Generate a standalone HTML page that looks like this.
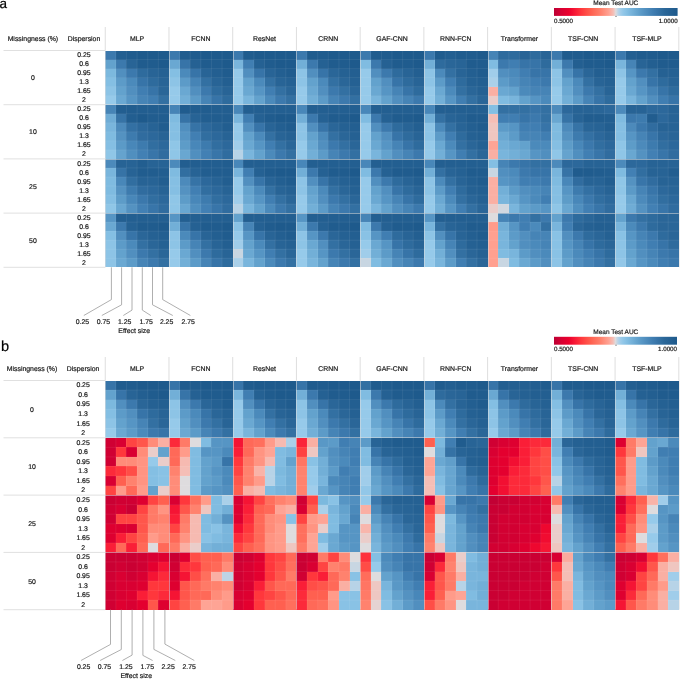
<!DOCTYPE html>
<html><head><meta charset="utf-8"><style>
html,body{margin:0;padding:0;background:#fff;width:680px;height:679px;overflow:hidden}
svg{display:block;will-change:transform}
text{text-rendering:geometricPrecision;font-family:"Liberation Sans", sans-serif;font-size:6.9px;fill:#1a1a1a;stroke:#1a1a1a;stroke-width:0.2px}
</style></head><body>
<svg width="680" height="679" viewBox="0 0 680 679"><g shape-rendering="crispEdges"><rect x="105.25" y="50.50" width="10.62" height="9.03" fill="#3c79ad"/>
<rect x="115.87" y="50.50" width="10.62" height="9.03" fill="#235f91"/>
<rect x="126.49" y="50.50" width="10.62" height="9.03" fill="#205c8e"/>
<rect x="137.11" y="50.50" width="10.62" height="9.03" fill="#1e5a8c"/>
<rect x="147.74" y="50.50" width="10.62" height="9.03" fill="#1e5a8c"/>
<rect x="158.36" y="50.50" width="10.62" height="9.03" fill="#1e5a8c"/>
<rect x="105.25" y="59.53" width="10.62" height="9.03" fill="#63a2cd"/>
<rect x="115.87" y="59.53" width="10.62" height="9.03" fill="#3c79ad"/>
<rect x="126.49" y="59.53" width="10.62" height="9.03" fill="#286496"/>
<rect x="137.11" y="59.53" width="10.62" height="9.03" fill="#205c8e"/>
<rect x="147.74" y="59.53" width="10.62" height="9.03" fill="#205c8e"/>
<rect x="158.36" y="59.53" width="10.62" height="9.03" fill="#1e5a8c"/>
<rect x="105.25" y="68.57" width="10.62" height="9.03" fill="#7cb9de"/>
<rect x="115.87" y="68.57" width="10.62" height="9.03" fill="#518fbf"/>
<rect x="126.49" y="68.57" width="10.62" height="9.03" fill="#3c79ad"/>
<rect x="137.11" y="68.57" width="10.62" height="9.03" fill="#2e6b9d"/>
<rect x="147.74" y="68.57" width="10.62" height="9.03" fill="#286496"/>
<rect x="158.36" y="68.57" width="10.62" height="9.03" fill="#256193"/>
<rect x="105.25" y="77.60" width="10.62" height="9.03" fill="#84bfe3"/>
<rect x="115.87" y="77.60" width="10.62" height="9.03" fill="#5c9bc8"/>
<rect x="126.49" y="77.60" width="10.62" height="9.03" fill="#4b8abb"/>
<rect x="137.11" y="77.60" width="10.62" height="9.03" fill="#3774a8"/>
<rect x="147.74" y="77.60" width="10.62" height="9.03" fill="#2e6b9d"/>
<rect x="158.36" y="77.60" width="10.62" height="9.03" fill="#286496"/>
<rect x="105.25" y="86.63" width="10.62" height="9.03" fill="#8dc4e6"/>
<rect x="115.87" y="86.63" width="10.62" height="9.03" fill="#63a2cd"/>
<rect x="126.49" y="86.63" width="10.62" height="9.03" fill="#518fbf"/>
<rect x="137.11" y="86.63" width="10.62" height="9.03" fill="#407eb2"/>
<rect x="147.74" y="86.63" width="10.62" height="9.03" fill="#3774a8"/>
<rect x="158.36" y="86.63" width="10.62" height="9.03" fill="#2a6698"/>
<rect x="105.25" y="95.67" width="10.62" height="9.03" fill="#96caea"/>
<rect x="115.87" y="95.67" width="10.62" height="9.03" fill="#6aa8d2"/>
<rect x="126.49" y="95.67" width="10.62" height="9.03" fill="#5695c4"/>
<rect x="137.11" y="95.67" width="10.62" height="9.03" fill="#4684b6"/>
<rect x="147.74" y="95.67" width="10.62" height="9.03" fill="#407eb2"/>
<rect x="158.36" y="95.67" width="10.62" height="9.03" fill="#3370a2"/>
<rect x="168.98" y="50.50" width="10.62" height="9.03" fill="#3c79ad"/>
<rect x="179.60" y="50.50" width="10.62" height="9.03" fill="#205c8e"/>
<rect x="190.22" y="50.50" width="10.62" height="9.03" fill="#205c8e"/>
<rect x="200.84" y="50.50" width="10.62" height="9.03" fill="#1e5a8c"/>
<rect x="211.46" y="50.50" width="10.62" height="9.03" fill="#1e5a8c"/>
<rect x="222.08" y="50.50" width="10.62" height="9.03" fill="#1e5a8c"/>
<rect x="168.98" y="59.53" width="10.62" height="9.03" fill="#6aa8d2"/>
<rect x="179.60" y="59.53" width="10.62" height="9.03" fill="#3774a8"/>
<rect x="190.22" y="59.53" width="10.62" height="9.03" fill="#256193"/>
<rect x="200.84" y="59.53" width="10.62" height="9.03" fill="#205c8e"/>
<rect x="211.46" y="59.53" width="10.62" height="9.03" fill="#205c8e"/>
<rect x="222.08" y="59.53" width="10.62" height="9.03" fill="#1e5a8c"/>
<rect x="168.98" y="68.57" width="10.62" height="9.03" fill="#84bfe3"/>
<rect x="179.60" y="68.57" width="10.62" height="9.03" fill="#4b8abb"/>
<rect x="190.22" y="68.57" width="10.62" height="9.03" fill="#3774a8"/>
<rect x="200.84" y="68.57" width="10.62" height="9.03" fill="#286496"/>
<rect x="211.46" y="68.57" width="10.62" height="9.03" fill="#235f91"/>
<rect x="222.08" y="68.57" width="10.62" height="9.03" fill="#205c8e"/>
<rect x="168.98" y="77.60" width="10.62" height="9.03" fill="#8dc4e6"/>
<rect x="179.60" y="77.60" width="10.62" height="9.03" fill="#5c9bc8"/>
<rect x="190.22" y="77.60" width="10.62" height="9.03" fill="#4684b6"/>
<rect x="200.84" y="77.60" width="10.62" height="9.03" fill="#3370a2"/>
<rect x="211.46" y="77.60" width="10.62" height="9.03" fill="#286496"/>
<rect x="222.08" y="77.60" width="10.62" height="9.03" fill="#235f91"/>
<rect x="168.98" y="86.63" width="10.62" height="9.03" fill="#96caea"/>
<rect x="179.60" y="86.63" width="10.62" height="9.03" fill="#6aa8d2"/>
<rect x="190.22" y="86.63" width="10.62" height="9.03" fill="#518fbf"/>
<rect x="200.84" y="86.63" width="10.62" height="9.03" fill="#3c79ad"/>
<rect x="211.46" y="86.63" width="10.62" height="9.03" fill="#2e6b9d"/>
<rect x="222.08" y="86.63" width="10.62" height="9.03" fill="#286496"/>
<rect x="168.98" y="95.67" width="10.62" height="9.03" fill="#96caea"/>
<rect x="179.60" y="95.67" width="10.62" height="9.03" fill="#72afd7"/>
<rect x="190.22" y="95.67" width="10.62" height="9.03" fill="#5c9bc8"/>
<rect x="200.84" y="95.67" width="10.62" height="9.03" fill="#4684b6"/>
<rect x="211.46" y="95.67" width="10.62" height="9.03" fill="#3774a8"/>
<rect x="222.08" y="95.67" width="10.62" height="9.03" fill="#2e6b9d"/>
<rect x="232.71" y="50.50" width="10.62" height="9.03" fill="#3c79ad"/>
<rect x="243.33" y="50.50" width="10.62" height="9.03" fill="#205c8e"/>
<rect x="253.95" y="50.50" width="10.62" height="9.03" fill="#1e5a8c"/>
<rect x="264.57" y="50.50" width="10.62" height="9.03" fill="#1e5a8c"/>
<rect x="275.19" y="50.50" width="10.62" height="9.03" fill="#1e5a8c"/>
<rect x="285.81" y="50.50" width="10.62" height="9.03" fill="#1e5a8c"/>
<rect x="232.71" y="59.53" width="10.62" height="9.03" fill="#79b5dc"/>
<rect x="243.33" y="59.53" width="10.62" height="9.03" fill="#407eb2"/>
<rect x="253.95" y="59.53" width="10.62" height="9.03" fill="#256193"/>
<rect x="264.57" y="59.53" width="10.62" height="9.03" fill="#205c8e"/>
<rect x="275.19" y="59.53" width="10.62" height="9.03" fill="#1e5a8c"/>
<rect x="285.81" y="59.53" width="10.62" height="9.03" fill="#1e5a8c"/>
<rect x="232.71" y="68.57" width="10.62" height="9.03" fill="#96caea"/>
<rect x="243.33" y="68.57" width="10.62" height="9.03" fill="#518fbf"/>
<rect x="253.95" y="68.57" width="10.62" height="9.03" fill="#3774a8"/>
<rect x="264.57" y="68.57" width="10.62" height="9.03" fill="#286496"/>
<rect x="275.19" y="68.57" width="10.62" height="9.03" fill="#235f91"/>
<rect x="285.81" y="68.57" width="10.62" height="9.03" fill="#205c8e"/>
<rect x="232.71" y="77.60" width="10.62" height="9.03" fill="#96caea"/>
<rect x="243.33" y="77.60" width="10.62" height="9.03" fill="#63a2cd"/>
<rect x="253.95" y="77.60" width="10.62" height="9.03" fill="#4b8abb"/>
<rect x="264.57" y="77.60" width="10.62" height="9.03" fill="#3370a2"/>
<rect x="275.19" y="77.60" width="10.62" height="9.03" fill="#286496"/>
<rect x="285.81" y="77.60" width="10.62" height="9.03" fill="#256193"/>
<rect x="232.71" y="86.63" width="10.62" height="9.03" fill="#96caea"/>
<rect x="243.33" y="86.63" width="10.62" height="9.03" fill="#6aa8d2"/>
<rect x="253.95" y="86.63" width="10.62" height="9.03" fill="#5695c4"/>
<rect x="264.57" y="86.63" width="10.62" height="9.03" fill="#407eb2"/>
<rect x="275.19" y="86.63" width="10.62" height="9.03" fill="#3370a2"/>
<rect x="285.81" y="86.63" width="10.62" height="9.03" fill="#2a6698"/>
<rect x="232.71" y="95.67" width="10.62" height="9.03" fill="#96caea"/>
<rect x="243.33" y="95.67" width="10.62" height="9.03" fill="#79b5dc"/>
<rect x="253.95" y="95.67" width="10.62" height="9.03" fill="#63a2cd"/>
<rect x="264.57" y="95.67" width="10.62" height="9.03" fill="#4b8abb"/>
<rect x="275.19" y="95.67" width="10.62" height="9.03" fill="#3c79ad"/>
<rect x="285.81" y="95.67" width="10.62" height="9.03" fill="#3370a2"/>
<rect x="296.43" y="50.50" width="10.62" height="9.03" fill="#3c79ad"/>
<rect x="307.05" y="50.50" width="10.62" height="9.03" fill="#205c8e"/>
<rect x="317.68" y="50.50" width="10.62" height="9.03" fill="#205c8e"/>
<rect x="328.30" y="50.50" width="10.62" height="9.03" fill="#1e5a8c"/>
<rect x="338.92" y="50.50" width="10.62" height="9.03" fill="#1e5a8c"/>
<rect x="349.54" y="50.50" width="10.62" height="9.03" fill="#1e5a8c"/>
<rect x="296.43" y="59.53" width="10.62" height="9.03" fill="#72afd7"/>
<rect x="307.05" y="59.53" width="10.62" height="9.03" fill="#3c79ad"/>
<rect x="317.68" y="59.53" width="10.62" height="9.03" fill="#256193"/>
<rect x="328.30" y="59.53" width="10.62" height="9.03" fill="#205c8e"/>
<rect x="338.92" y="59.53" width="10.62" height="9.03" fill="#205c8e"/>
<rect x="349.54" y="59.53" width="10.62" height="9.03" fill="#1e5a8c"/>
<rect x="296.43" y="68.57" width="10.62" height="9.03" fill="#8dc4e6"/>
<rect x="307.05" y="68.57" width="10.62" height="9.03" fill="#518fbf"/>
<rect x="317.68" y="68.57" width="10.62" height="9.03" fill="#3774a8"/>
<rect x="328.30" y="68.57" width="10.62" height="9.03" fill="#2a6698"/>
<rect x="338.92" y="68.57" width="10.62" height="9.03" fill="#256193"/>
<rect x="349.54" y="68.57" width="10.62" height="9.03" fill="#235f91"/>
<rect x="296.43" y="77.60" width="10.62" height="9.03" fill="#8dc4e6"/>
<rect x="307.05" y="77.60" width="10.62" height="9.03" fill="#63a2cd"/>
<rect x="317.68" y="77.60" width="10.62" height="9.03" fill="#4b8abb"/>
<rect x="328.30" y="77.60" width="10.62" height="9.03" fill="#3370a2"/>
<rect x="338.92" y="77.60" width="10.62" height="9.03" fill="#2a6698"/>
<rect x="349.54" y="77.60" width="10.62" height="9.03" fill="#256193"/>
<rect x="296.43" y="86.63" width="10.62" height="9.03" fill="#96caea"/>
<rect x="307.05" y="86.63" width="10.62" height="9.03" fill="#6aa8d2"/>
<rect x="317.68" y="86.63" width="10.62" height="9.03" fill="#518fbf"/>
<rect x="328.30" y="86.63" width="10.62" height="9.03" fill="#3c79ad"/>
<rect x="338.92" y="86.63" width="10.62" height="9.03" fill="#3370a2"/>
<rect x="349.54" y="86.63" width="10.62" height="9.03" fill="#2a6698"/>
<rect x="296.43" y="95.67" width="10.62" height="9.03" fill="#96caea"/>
<rect x="307.05" y="95.67" width="10.62" height="9.03" fill="#72afd7"/>
<rect x="317.68" y="95.67" width="10.62" height="9.03" fill="#5c9bc8"/>
<rect x="328.30" y="95.67" width="10.62" height="9.03" fill="#4684b6"/>
<rect x="338.92" y="95.67" width="10.62" height="9.03" fill="#3c79ad"/>
<rect x="349.54" y="95.67" width="10.62" height="9.03" fill="#3370a2"/>
<rect x="360.16" y="50.50" width="10.62" height="9.03" fill="#3c79ad"/>
<rect x="370.78" y="50.50" width="10.62" height="9.03" fill="#205c8e"/>
<rect x="381.40" y="50.50" width="10.62" height="9.03" fill="#205c8e"/>
<rect x="392.02" y="50.50" width="10.62" height="9.03" fill="#1e5a8c"/>
<rect x="402.65" y="50.50" width="10.62" height="9.03" fill="#1e5a8c"/>
<rect x="413.27" y="50.50" width="10.62" height="9.03" fill="#1e5a8c"/>
<rect x="360.16" y="59.53" width="10.62" height="9.03" fill="#80bce1"/>
<rect x="370.78" y="59.53" width="10.62" height="9.03" fill="#3c79ad"/>
<rect x="381.40" y="59.53" width="10.62" height="9.03" fill="#256193"/>
<rect x="392.02" y="59.53" width="10.62" height="9.03" fill="#205c8e"/>
<rect x="402.65" y="59.53" width="10.62" height="9.03" fill="#205c8e"/>
<rect x="413.27" y="59.53" width="10.62" height="9.03" fill="#1e5a8c"/>
<rect x="360.16" y="68.57" width="10.62" height="9.03" fill="#96caea"/>
<rect x="370.78" y="68.57" width="10.62" height="9.03" fill="#518fbf"/>
<rect x="381.40" y="68.57" width="10.62" height="9.03" fill="#3c79ad"/>
<rect x="392.02" y="68.57" width="10.62" height="9.03" fill="#2e6b9d"/>
<rect x="402.65" y="68.57" width="10.62" height="9.03" fill="#286496"/>
<rect x="413.27" y="68.57" width="10.62" height="9.03" fill="#235f91"/>
<rect x="360.16" y="77.60" width="10.62" height="9.03" fill="#96caea"/>
<rect x="370.78" y="77.60" width="10.62" height="9.03" fill="#63a2cd"/>
<rect x="381.40" y="77.60" width="10.62" height="9.03" fill="#518fbf"/>
<rect x="392.02" y="77.60" width="10.62" height="9.03" fill="#3774a8"/>
<rect x="402.65" y="77.60" width="10.62" height="9.03" fill="#2e6b9d"/>
<rect x="413.27" y="77.60" width="10.62" height="9.03" fill="#286496"/>
<rect x="360.16" y="86.63" width="10.62" height="9.03" fill="#96caea"/>
<rect x="370.78" y="86.63" width="10.62" height="9.03" fill="#6aa8d2"/>
<rect x="381.40" y="86.63" width="10.62" height="9.03" fill="#5695c4"/>
<rect x="392.02" y="86.63" width="10.62" height="9.03" fill="#4684b6"/>
<rect x="402.65" y="86.63" width="10.62" height="9.03" fill="#3774a8"/>
<rect x="413.27" y="86.63" width="10.62" height="9.03" fill="#2e6b9d"/>
<rect x="360.16" y="95.67" width="10.62" height="9.03" fill="#96caea"/>
<rect x="370.78" y="95.67" width="10.62" height="9.03" fill="#79b5dc"/>
<rect x="381.40" y="95.67" width="10.62" height="9.03" fill="#63a2cd"/>
<rect x="392.02" y="95.67" width="10.62" height="9.03" fill="#518fbf"/>
<rect x="402.65" y="95.67" width="10.62" height="9.03" fill="#4684b6"/>
<rect x="413.27" y="95.67" width="10.62" height="9.03" fill="#3c79ad"/>
<rect x="423.89" y="50.50" width="10.62" height="9.03" fill="#3c79ad"/>
<rect x="434.51" y="50.50" width="10.62" height="9.03" fill="#205c8e"/>
<rect x="445.13" y="50.50" width="10.62" height="9.03" fill="#235f91"/>
<rect x="455.75" y="50.50" width="10.62" height="9.03" fill="#205c8e"/>
<rect x="466.37" y="50.50" width="10.62" height="9.03" fill="#205c8e"/>
<rect x="477.00" y="50.50" width="10.62" height="9.03" fill="#1e5a8c"/>
<rect x="423.89" y="59.53" width="10.62" height="9.03" fill="#72afd7"/>
<rect x="434.51" y="59.53" width="10.62" height="9.03" fill="#2e6b9d"/>
<rect x="445.13" y="59.53" width="10.62" height="9.03" fill="#2a6698"/>
<rect x="455.75" y="59.53" width="10.62" height="9.03" fill="#286496"/>
<rect x="466.37" y="59.53" width="10.62" height="9.03" fill="#205c8e"/>
<rect x="477.00" y="59.53" width="10.62" height="9.03" fill="#205c8e"/>
<rect x="423.89" y="68.57" width="10.62" height="9.03" fill="#8dc4e6"/>
<rect x="434.51" y="68.57" width="10.62" height="9.03" fill="#4b8abb"/>
<rect x="445.13" y="68.57" width="10.62" height="9.03" fill="#3370a2"/>
<rect x="455.75" y="68.57" width="10.62" height="9.03" fill="#286496"/>
<rect x="466.37" y="68.57" width="10.62" height="9.03" fill="#235f91"/>
<rect x="477.00" y="68.57" width="10.62" height="9.03" fill="#205c8e"/>
<rect x="423.89" y="77.60" width="10.62" height="9.03" fill="#8dc4e6"/>
<rect x="434.51" y="77.60" width="10.62" height="9.03" fill="#5c9bc8"/>
<rect x="445.13" y="77.60" width="10.62" height="9.03" fill="#407eb2"/>
<rect x="455.75" y="77.60" width="10.62" height="9.03" fill="#2e6b9d"/>
<rect x="466.37" y="77.60" width="10.62" height="9.03" fill="#256193"/>
<rect x="477.00" y="77.60" width="10.62" height="9.03" fill="#235f91"/>
<rect x="423.89" y="86.63" width="10.62" height="9.03" fill="#96caea"/>
<rect x="434.51" y="86.63" width="10.62" height="9.03" fill="#6aa8d2"/>
<rect x="445.13" y="86.63" width="10.62" height="9.03" fill="#4b8abb"/>
<rect x="455.75" y="86.63" width="10.62" height="9.03" fill="#3370a2"/>
<rect x="466.37" y="86.63" width="10.62" height="9.03" fill="#2a6698"/>
<rect x="477.00" y="86.63" width="10.62" height="9.03" fill="#256193"/>
<rect x="423.89" y="95.67" width="10.62" height="9.03" fill="#96caea"/>
<rect x="434.51" y="95.67" width="10.62" height="9.03" fill="#72afd7"/>
<rect x="445.13" y="95.67" width="10.62" height="9.03" fill="#5695c4"/>
<rect x="455.75" y="95.67" width="10.62" height="9.03" fill="#407eb2"/>
<rect x="466.37" y="95.67" width="10.62" height="9.03" fill="#3370a2"/>
<rect x="477.00" y="95.67" width="10.62" height="9.03" fill="#2a6698"/>
<rect x="487.62" y="50.50" width="10.62" height="9.03" fill="#4684b6"/>
<rect x="498.24" y="50.50" width="10.62" height="9.03" fill="#2e6b9d"/>
<rect x="508.86" y="50.50" width="10.62" height="9.03" fill="#2e6b9d"/>
<rect x="519.48" y="50.50" width="10.62" height="9.03" fill="#286496"/>
<rect x="530.10" y="50.50" width="10.62" height="9.03" fill="#2e6b9d"/>
<rect x="540.72" y="50.50" width="10.62" height="9.03" fill="#286496"/>
<rect x="487.62" y="59.53" width="10.62" height="9.03" fill="#80bce1"/>
<rect x="498.24" y="59.53" width="10.62" height="9.03" fill="#3c79ad"/>
<rect x="508.86" y="59.53" width="10.62" height="9.03" fill="#407eb2"/>
<rect x="519.48" y="59.53" width="10.62" height="9.03" fill="#3774a8"/>
<rect x="530.10" y="59.53" width="10.62" height="9.03" fill="#3774a8"/>
<rect x="540.72" y="59.53" width="10.62" height="9.03" fill="#2e6b9d"/>
<rect x="487.62" y="68.57" width="10.62" height="9.03" fill="#a0cdea"/>
<rect x="498.24" y="68.57" width="10.62" height="9.03" fill="#518fbf"/>
<rect x="508.86" y="68.57" width="10.62" height="9.03" fill="#4b8abb"/>
<rect x="519.48" y="68.57" width="10.62" height="9.03" fill="#407eb2"/>
<rect x="530.10" y="68.57" width="10.62" height="9.03" fill="#3774a8"/>
<rect x="540.72" y="68.57" width="10.62" height="9.03" fill="#3774a8"/>
<rect x="487.62" y="77.60" width="10.62" height="9.03" fill="#aad0e9"/>
<rect x="498.24" y="77.60" width="10.62" height="9.03" fill="#5c9bc8"/>
<rect x="508.86" y="77.60" width="10.62" height="9.03" fill="#518fbf"/>
<rect x="519.48" y="77.60" width="10.62" height="9.03" fill="#4684b6"/>
<rect x="530.10" y="77.60" width="10.62" height="9.03" fill="#407eb2"/>
<rect x="540.72" y="77.60" width="10.62" height="9.03" fill="#3c79ad"/>
<rect x="487.62" y="86.63" width="10.62" height="9.03" fill="#faafa3"/>
<rect x="498.24" y="86.63" width="10.62" height="9.03" fill="#6aa8d2"/>
<rect x="508.86" y="86.63" width="10.62" height="9.03" fill="#63a2cd"/>
<rect x="519.48" y="86.63" width="10.62" height="9.03" fill="#4b8abb"/>
<rect x="530.10" y="86.63" width="10.62" height="9.03" fill="#4684b6"/>
<rect x="540.72" y="86.63" width="10.62" height="9.03" fill="#4684b6"/>
<rect x="487.62" y="95.67" width="10.62" height="9.03" fill="#eacdca"/>
<rect x="498.24" y="95.67" width="10.62" height="9.03" fill="#80bce1"/>
<rect x="508.86" y="95.67" width="10.62" height="9.03" fill="#79b5dc"/>
<rect x="519.48" y="95.67" width="10.62" height="9.03" fill="#63a2cd"/>
<rect x="530.10" y="95.67" width="10.62" height="9.03" fill="#5695c4"/>
<rect x="540.72" y="95.67" width="10.62" height="9.03" fill="#4b8abb"/>
<rect x="551.34" y="50.50" width="10.62" height="9.03" fill="#3c79ad"/>
<rect x="561.97" y="50.50" width="10.62" height="9.03" fill="#205c8e"/>
<rect x="572.59" y="50.50" width="10.62" height="9.03" fill="#205c8e"/>
<rect x="583.21" y="50.50" width="10.62" height="9.03" fill="#1e5a8c"/>
<rect x="593.83" y="50.50" width="10.62" height="9.03" fill="#1e5a8c"/>
<rect x="604.45" y="50.50" width="10.62" height="9.03" fill="#1e5a8c"/>
<rect x="551.34" y="59.53" width="10.62" height="9.03" fill="#72afd7"/>
<rect x="561.97" y="59.53" width="10.62" height="9.03" fill="#3c79ad"/>
<rect x="572.59" y="59.53" width="10.62" height="9.03" fill="#235f91"/>
<rect x="583.21" y="59.53" width="10.62" height="9.03" fill="#205c8e"/>
<rect x="593.83" y="59.53" width="10.62" height="9.03" fill="#205c8e"/>
<rect x="604.45" y="59.53" width="10.62" height="9.03" fill="#1e5a8c"/>
<rect x="551.34" y="68.57" width="10.62" height="9.03" fill="#8dc4e6"/>
<rect x="561.97" y="68.57" width="10.62" height="9.03" fill="#518fbf"/>
<rect x="572.59" y="68.57" width="10.62" height="9.03" fill="#3774a8"/>
<rect x="583.21" y="68.57" width="10.62" height="9.03" fill="#2a6698"/>
<rect x="593.83" y="68.57" width="10.62" height="9.03" fill="#235f91"/>
<rect x="604.45" y="68.57" width="10.62" height="9.03" fill="#235f91"/>
<rect x="551.34" y="77.60" width="10.62" height="9.03" fill="#8dc4e6"/>
<rect x="561.97" y="77.60" width="10.62" height="9.03" fill="#63a2cd"/>
<rect x="572.59" y="77.60" width="10.62" height="9.03" fill="#4b8abb"/>
<rect x="583.21" y="77.60" width="10.62" height="9.03" fill="#3370a2"/>
<rect x="593.83" y="77.60" width="10.62" height="9.03" fill="#286496"/>
<rect x="604.45" y="77.60" width="10.62" height="9.03" fill="#256193"/>
<rect x="551.34" y="86.63" width="10.62" height="9.03" fill="#96caea"/>
<rect x="561.97" y="86.63" width="10.62" height="9.03" fill="#6aa8d2"/>
<rect x="572.59" y="86.63" width="10.62" height="9.03" fill="#518fbf"/>
<rect x="583.21" y="86.63" width="10.62" height="9.03" fill="#3c79ad"/>
<rect x="593.83" y="86.63" width="10.62" height="9.03" fill="#3370a2"/>
<rect x="604.45" y="86.63" width="10.62" height="9.03" fill="#286496"/>
<rect x="551.34" y="95.67" width="10.62" height="9.03" fill="#96caea"/>
<rect x="561.97" y="95.67" width="10.62" height="9.03" fill="#72afd7"/>
<rect x="572.59" y="95.67" width="10.62" height="9.03" fill="#5c9bc8"/>
<rect x="583.21" y="95.67" width="10.62" height="9.03" fill="#4684b6"/>
<rect x="593.83" y="95.67" width="10.62" height="9.03" fill="#3774a8"/>
<rect x="604.45" y="95.67" width="10.62" height="9.03" fill="#2e6b9d"/>
<rect x="615.07" y="50.50" width="10.62" height="9.03" fill="#3c79ad"/>
<rect x="625.69" y="50.50" width="10.62" height="9.03" fill="#235f91"/>
<rect x="636.31" y="50.50" width="10.62" height="9.03" fill="#205c8e"/>
<rect x="646.94" y="50.50" width="10.62" height="9.03" fill="#205c8e"/>
<rect x="657.56" y="50.50" width="10.62" height="9.03" fill="#1e5a8c"/>
<rect x="668.18" y="50.50" width="10.62" height="9.03" fill="#1e5a8c"/>
<rect x="615.07" y="59.53" width="10.62" height="9.03" fill="#79b5dc"/>
<rect x="625.69" y="59.53" width="10.62" height="9.03" fill="#4684b6"/>
<rect x="636.31" y="59.53" width="10.62" height="9.03" fill="#286496"/>
<rect x="646.94" y="59.53" width="10.62" height="9.03" fill="#235f91"/>
<rect x="657.56" y="59.53" width="10.62" height="9.03" fill="#205c8e"/>
<rect x="668.18" y="59.53" width="10.62" height="9.03" fill="#205c8e"/>
<rect x="615.07" y="68.57" width="10.62" height="9.03" fill="#8dc4e6"/>
<rect x="625.69" y="68.57" width="10.62" height="9.03" fill="#5695c4"/>
<rect x="636.31" y="68.57" width="10.62" height="9.03" fill="#3c79ad"/>
<rect x="646.94" y="68.57" width="10.62" height="9.03" fill="#3370a2"/>
<rect x="657.56" y="68.57" width="10.62" height="9.03" fill="#256193"/>
<rect x="668.18" y="68.57" width="10.62" height="9.03" fill="#256193"/>
<rect x="615.07" y="77.60" width="10.62" height="9.03" fill="#96caea"/>
<rect x="625.69" y="77.60" width="10.62" height="9.03" fill="#63a2cd"/>
<rect x="636.31" y="77.60" width="10.62" height="9.03" fill="#518fbf"/>
<rect x="646.94" y="77.60" width="10.62" height="9.03" fill="#3774a8"/>
<rect x="657.56" y="77.60" width="10.62" height="9.03" fill="#2e6b9d"/>
<rect x="668.18" y="77.60" width="10.62" height="9.03" fill="#286496"/>
<rect x="615.07" y="86.63" width="10.62" height="9.03" fill="#96caea"/>
<rect x="625.69" y="86.63" width="10.62" height="9.03" fill="#6aa8d2"/>
<rect x="636.31" y="86.63" width="10.62" height="9.03" fill="#5695c4"/>
<rect x="646.94" y="86.63" width="10.62" height="9.03" fill="#4684b6"/>
<rect x="657.56" y="86.63" width="10.62" height="9.03" fill="#3774a8"/>
<rect x="668.18" y="86.63" width="10.62" height="9.03" fill="#2e6b9d"/>
<rect x="615.07" y="95.67" width="10.62" height="9.03" fill="#96caea"/>
<rect x="625.69" y="95.67" width="10.62" height="9.03" fill="#79b5dc"/>
<rect x="636.31" y="95.67" width="10.62" height="9.03" fill="#63a2cd"/>
<rect x="646.94" y="95.67" width="10.62" height="9.03" fill="#518fbf"/>
<rect x="657.56" y="95.67" width="10.62" height="9.03" fill="#407eb2"/>
<rect x="668.18" y="95.67" width="10.62" height="9.03" fill="#3774a8"/>
<rect x="105.25" y="104.70" width="10.62" height="9.03" fill="#4684b6"/>
<rect x="115.87" y="104.70" width="10.62" height="9.03" fill="#225e90"/>
<rect x="126.49" y="104.70" width="10.62" height="9.03" fill="#215d8f"/>
<rect x="137.11" y="104.70" width="10.62" height="9.03" fill="#225e90"/>
<rect x="147.74" y="104.70" width="10.62" height="9.03" fill="#225e90"/>
<rect x="158.36" y="104.70" width="10.62" height="9.03" fill="#225e90"/>
<rect x="105.25" y="113.73" width="10.62" height="9.03" fill="#6facd5"/>
<rect x="115.87" y="113.73" width="10.62" height="9.03" fill="#3673a6"/>
<rect x="126.49" y="113.73" width="10.62" height="9.03" fill="#225e90"/>
<rect x="137.11" y="113.73" width="10.62" height="9.03" fill="#1e5a8c"/>
<rect x="147.74" y="113.73" width="10.62" height="9.03" fill="#215d8f"/>
<rect x="158.36" y="113.73" width="10.62" height="9.03" fill="#215d8f"/>
<rect x="105.25" y="122.77" width="10.62" height="9.03" fill="#79b5dc"/>
<rect x="115.87" y="122.77" width="10.62" height="9.03" fill="#4c8abb"/>
<rect x="126.49" y="122.77" width="10.62" height="9.03" fill="#3370a3"/>
<rect x="137.11" y="122.77" width="10.62" height="9.03" fill="#2c689b"/>
<rect x="147.74" y="122.77" width="10.62" height="9.03" fill="#276395"/>
<rect x="158.36" y="122.77" width="10.62" height="9.03" fill="#215d8f"/>
<rect x="105.25" y="131.80" width="10.62" height="9.03" fill="#7fbbe0"/>
<rect x="115.87" y="131.80" width="10.62" height="9.03" fill="#5492c1"/>
<rect x="126.49" y="131.80" width="10.62" height="9.03" fill="#3d7bae"/>
<rect x="137.11" y="131.80" width="10.62" height="9.03" fill="#306c9f"/>
<rect x="147.74" y="131.80" width="10.62" height="9.03" fill="#2c689b"/>
<rect x="158.36" y="131.80" width="10.62" height="9.03" fill="#276395"/>
<rect x="105.25" y="140.83" width="10.62" height="9.03" fill="#85bfe3"/>
<rect x="115.87" y="140.83" width="10.62" height="9.03" fill="#5b9ac7"/>
<rect x="126.49" y="140.83" width="10.62" height="9.03" fill="#4887b9"/>
<rect x="137.11" y="140.83" width="10.62" height="9.03" fill="#3d7bae"/>
<rect x="147.74" y="140.83" width="10.62" height="9.03" fill="#316ea0"/>
<rect x="158.36" y="140.83" width="10.62" height="9.03" fill="#2c689b"/>
<rect x="105.25" y="149.87" width="10.62" height="9.03" fill="#8fc6e7"/>
<rect x="115.87" y="149.87" width="10.62" height="9.03" fill="#65a3ce"/>
<rect x="126.49" y="149.87" width="10.62" height="9.03" fill="#508fbf"/>
<rect x="137.11" y="149.87" width="10.62" height="9.03" fill="#4280b4"/>
<rect x="147.74" y="149.87" width="10.62" height="9.03" fill="#3875a9"/>
<rect x="158.36" y="149.87" width="10.62" height="9.03" fill="#306c9f"/>
<rect x="168.98" y="104.70" width="10.62" height="9.03" fill="#4684b6"/>
<rect x="179.60" y="104.70" width="10.62" height="9.03" fill="#205c8e"/>
<rect x="190.22" y="104.70" width="10.62" height="9.03" fill="#215d8f"/>
<rect x="200.84" y="104.70" width="10.62" height="9.03" fill="#215d8f"/>
<rect x="211.46" y="104.70" width="10.62" height="9.03" fill="#225e90"/>
<rect x="222.08" y="104.70" width="10.62" height="9.03" fill="#225e90"/>
<rect x="168.98" y="113.73" width="10.62" height="9.03" fill="#7fbbe0"/>
<rect x="179.60" y="113.73" width="10.62" height="9.03" fill="#3673a6"/>
<rect x="190.22" y="113.73" width="10.62" height="9.03" fill="#276395"/>
<rect x="200.84" y="113.73" width="10.62" height="9.03" fill="#225e90"/>
<rect x="211.46" y="113.73" width="10.62" height="9.03" fill="#215d8f"/>
<rect x="222.08" y="113.73" width="10.62" height="9.03" fill="#215d8f"/>
<rect x="168.98" y="122.77" width="10.62" height="9.03" fill="#85bfe3"/>
<rect x="179.60" y="122.77" width="10.62" height="9.03" fill="#508fbf"/>
<rect x="190.22" y="122.77" width="10.62" height="9.03" fill="#3673a6"/>
<rect x="200.84" y="122.77" width="10.62" height="9.03" fill="#2c689b"/>
<rect x="211.46" y="122.77" width="10.62" height="9.03" fill="#276395"/>
<rect x="222.08" y="122.77" width="10.62" height="9.03" fill="#225e90"/>
<rect x="168.98" y="131.80" width="10.62" height="9.03" fill="#85bfe3"/>
<rect x="179.60" y="131.80" width="10.62" height="9.03" fill="#5695c4"/>
<rect x="190.22" y="131.80" width="10.62" height="9.03" fill="#417fb3"/>
<rect x="200.84" y="131.80" width="10.62" height="9.03" fill="#316ea0"/>
<rect x="211.46" y="131.80" width="10.62" height="9.03" fill="#2c689b"/>
<rect x="222.08" y="131.80" width="10.62" height="9.03" fill="#276395"/>
<rect x="168.98" y="140.83" width="10.62" height="9.03" fill="#8fc6e7"/>
<rect x="179.60" y="140.83" width="10.62" height="9.03" fill="#5d9cc8"/>
<rect x="190.22" y="140.83" width="10.62" height="9.03" fill="#4887b9"/>
<rect x="200.84" y="140.83" width="10.62" height="9.03" fill="#3d7bae"/>
<rect x="211.46" y="140.83" width="10.62" height="9.03" fill="#316ea0"/>
<rect x="222.08" y="140.83" width="10.62" height="9.03" fill="#2c689b"/>
<rect x="168.98" y="149.87" width="10.62" height="9.03" fill="#8fc6e7"/>
<rect x="179.60" y="149.87" width="10.62" height="9.03" fill="#69a7d1"/>
<rect x="190.22" y="149.87" width="10.62" height="9.03" fill="#508fbf"/>
<rect x="200.84" y="149.87" width="10.62" height="9.03" fill="#4280b4"/>
<rect x="211.46" y="149.87" width="10.62" height="9.03" fill="#3875a9"/>
<rect x="222.08" y="149.87" width="10.62" height="9.03" fill="#306c9f"/>
<rect x="232.71" y="104.70" width="10.62" height="9.03" fill="#4887b9"/>
<rect x="243.33" y="104.70" width="10.62" height="9.03" fill="#235f91"/>
<rect x="253.95" y="104.70" width="10.62" height="9.03" fill="#235f91"/>
<rect x="264.57" y="104.70" width="10.62" height="9.03" fill="#235f91"/>
<rect x="275.19" y="104.70" width="10.62" height="9.03" fill="#235f91"/>
<rect x="285.81" y="104.70" width="10.62" height="9.03" fill="#235f91"/>
<rect x="232.71" y="113.73" width="10.62" height="9.03" fill="#79b5dc"/>
<rect x="243.33" y="113.73" width="10.62" height="9.03" fill="#407eb2"/>
<rect x="253.95" y="113.73" width="10.62" height="9.03" fill="#256193"/>
<rect x="264.57" y="113.73" width="10.62" height="9.03" fill="#205c8e"/>
<rect x="275.19" y="113.73" width="10.62" height="9.03" fill="#1e5a8c"/>
<rect x="285.81" y="113.73" width="10.62" height="9.03" fill="#1e5a8c"/>
<rect x="232.71" y="122.77" width="10.62" height="9.03" fill="#96caea"/>
<rect x="243.33" y="122.77" width="10.62" height="9.03" fill="#518fbf"/>
<rect x="253.95" y="122.77" width="10.62" height="9.03" fill="#3774a8"/>
<rect x="264.57" y="122.77" width="10.62" height="9.03" fill="#286496"/>
<rect x="275.19" y="122.77" width="10.62" height="9.03" fill="#235f91"/>
<rect x="285.81" y="122.77" width="10.62" height="9.03" fill="#205c8e"/>
<rect x="232.71" y="131.80" width="10.62" height="9.03" fill="#96caea"/>
<rect x="243.33" y="131.80" width="10.62" height="9.03" fill="#63a2cd"/>
<rect x="253.95" y="131.80" width="10.62" height="9.03" fill="#4b8abb"/>
<rect x="264.57" y="131.80" width="10.62" height="9.03" fill="#3370a2"/>
<rect x="275.19" y="131.80" width="10.62" height="9.03" fill="#286496"/>
<rect x="285.81" y="131.80" width="10.62" height="9.03" fill="#256193"/>
<rect x="232.71" y="140.83" width="10.62" height="9.03" fill="#a0cdea"/>
<rect x="243.33" y="140.83" width="10.62" height="9.03" fill="#6aa8d2"/>
<rect x="253.95" y="140.83" width="10.62" height="9.03" fill="#5695c4"/>
<rect x="264.57" y="140.83" width="10.62" height="9.03" fill="#407eb2"/>
<rect x="275.19" y="140.83" width="10.62" height="9.03" fill="#3370a2"/>
<rect x="285.81" y="140.83" width="10.62" height="9.03" fill="#2a6698"/>
<rect x="232.71" y="149.87" width="10.62" height="9.03" fill="#b7d3e7"/>
<rect x="243.33" y="149.87" width="10.62" height="9.03" fill="#79b5dc"/>
<rect x="253.95" y="149.87" width="10.62" height="9.03" fill="#63a2cd"/>
<rect x="264.57" y="149.87" width="10.62" height="9.03" fill="#4b8abb"/>
<rect x="275.19" y="149.87" width="10.62" height="9.03" fill="#3c79ad"/>
<rect x="285.81" y="149.87" width="10.62" height="9.03" fill="#3370a2"/>
<rect x="296.43" y="104.70" width="10.62" height="9.03" fill="#4887b9"/>
<rect x="307.05" y="104.70" width="10.62" height="9.03" fill="#235f91"/>
<rect x="317.68" y="104.70" width="10.62" height="9.03" fill="#235f91"/>
<rect x="328.30" y="104.70" width="10.62" height="9.03" fill="#235f91"/>
<rect x="338.92" y="104.70" width="10.62" height="9.03" fill="#235f91"/>
<rect x="349.54" y="104.70" width="10.62" height="9.03" fill="#235f91"/>
<rect x="296.43" y="113.73" width="10.62" height="9.03" fill="#72afd7"/>
<rect x="307.05" y="113.73" width="10.62" height="9.03" fill="#3c79ad"/>
<rect x="317.68" y="113.73" width="10.62" height="9.03" fill="#256193"/>
<rect x="328.30" y="113.73" width="10.62" height="9.03" fill="#205c8e"/>
<rect x="338.92" y="113.73" width="10.62" height="9.03" fill="#205c8e"/>
<rect x="349.54" y="113.73" width="10.62" height="9.03" fill="#1e5a8c"/>
<rect x="296.43" y="122.77" width="10.62" height="9.03" fill="#8dc4e6"/>
<rect x="307.05" y="122.77" width="10.62" height="9.03" fill="#518fbf"/>
<rect x="317.68" y="122.77" width="10.62" height="9.03" fill="#3774a8"/>
<rect x="328.30" y="122.77" width="10.62" height="9.03" fill="#2a6698"/>
<rect x="338.92" y="122.77" width="10.62" height="9.03" fill="#256193"/>
<rect x="349.54" y="122.77" width="10.62" height="9.03" fill="#235f91"/>
<rect x="296.43" y="131.80" width="10.62" height="9.03" fill="#8dc4e6"/>
<rect x="307.05" y="131.80" width="10.62" height="9.03" fill="#63a2cd"/>
<rect x="317.68" y="131.80" width="10.62" height="9.03" fill="#4b8abb"/>
<rect x="328.30" y="131.80" width="10.62" height="9.03" fill="#3370a2"/>
<rect x="338.92" y="131.80" width="10.62" height="9.03" fill="#2a6698"/>
<rect x="349.54" y="131.80" width="10.62" height="9.03" fill="#256193"/>
<rect x="296.43" y="140.83" width="10.62" height="9.03" fill="#96caea"/>
<rect x="307.05" y="140.83" width="10.62" height="9.03" fill="#6aa8d2"/>
<rect x="317.68" y="140.83" width="10.62" height="9.03" fill="#518fbf"/>
<rect x="328.30" y="140.83" width="10.62" height="9.03" fill="#3c79ad"/>
<rect x="338.92" y="140.83" width="10.62" height="9.03" fill="#3370a2"/>
<rect x="349.54" y="140.83" width="10.62" height="9.03" fill="#2a6698"/>
<rect x="296.43" y="149.87" width="10.62" height="9.03" fill="#96caea"/>
<rect x="307.05" y="149.87" width="10.62" height="9.03" fill="#72afd7"/>
<rect x="317.68" y="149.87" width="10.62" height="9.03" fill="#5c9bc8"/>
<rect x="328.30" y="149.87" width="10.62" height="9.03" fill="#4684b6"/>
<rect x="338.92" y="149.87" width="10.62" height="9.03" fill="#3c79ad"/>
<rect x="349.54" y="149.87" width="10.62" height="9.03" fill="#3370a2"/>
<rect x="360.16" y="104.70" width="10.62" height="9.03" fill="#4887b9"/>
<rect x="370.78" y="104.70" width="10.62" height="9.03" fill="#235f91"/>
<rect x="381.40" y="104.70" width="10.62" height="9.03" fill="#235f91"/>
<rect x="392.02" y="104.70" width="10.62" height="9.03" fill="#235f91"/>
<rect x="402.65" y="104.70" width="10.62" height="9.03" fill="#235f91"/>
<rect x="413.27" y="104.70" width="10.62" height="9.03" fill="#235f91"/>
<rect x="360.16" y="113.73" width="10.62" height="9.03" fill="#80bce1"/>
<rect x="370.78" y="113.73" width="10.62" height="9.03" fill="#3c79ad"/>
<rect x="381.40" y="113.73" width="10.62" height="9.03" fill="#256193"/>
<rect x="392.02" y="113.73" width="10.62" height="9.03" fill="#205c8e"/>
<rect x="402.65" y="113.73" width="10.62" height="9.03" fill="#205c8e"/>
<rect x="413.27" y="113.73" width="10.62" height="9.03" fill="#1e5a8c"/>
<rect x="360.16" y="122.77" width="10.62" height="9.03" fill="#96caea"/>
<rect x="370.78" y="122.77" width="10.62" height="9.03" fill="#518fbf"/>
<rect x="381.40" y="122.77" width="10.62" height="9.03" fill="#3c79ad"/>
<rect x="392.02" y="122.77" width="10.62" height="9.03" fill="#2e6b9d"/>
<rect x="402.65" y="122.77" width="10.62" height="9.03" fill="#286496"/>
<rect x="413.27" y="122.77" width="10.62" height="9.03" fill="#235f91"/>
<rect x="360.16" y="131.80" width="10.62" height="9.03" fill="#96caea"/>
<rect x="370.78" y="131.80" width="10.62" height="9.03" fill="#63a2cd"/>
<rect x="381.40" y="131.80" width="10.62" height="9.03" fill="#518fbf"/>
<rect x="392.02" y="131.80" width="10.62" height="9.03" fill="#3774a8"/>
<rect x="402.65" y="131.80" width="10.62" height="9.03" fill="#2e6b9d"/>
<rect x="413.27" y="131.80" width="10.62" height="9.03" fill="#286496"/>
<rect x="360.16" y="140.83" width="10.62" height="9.03" fill="#96caea"/>
<rect x="370.78" y="140.83" width="10.62" height="9.03" fill="#6aa8d2"/>
<rect x="381.40" y="140.83" width="10.62" height="9.03" fill="#5695c4"/>
<rect x="392.02" y="140.83" width="10.62" height="9.03" fill="#4684b6"/>
<rect x="402.65" y="140.83" width="10.62" height="9.03" fill="#3774a8"/>
<rect x="413.27" y="140.83" width="10.62" height="9.03" fill="#2e6b9d"/>
<rect x="360.16" y="149.87" width="10.62" height="9.03" fill="#96caea"/>
<rect x="370.78" y="149.87" width="10.62" height="9.03" fill="#79b5dc"/>
<rect x="381.40" y="149.87" width="10.62" height="9.03" fill="#63a2cd"/>
<rect x="392.02" y="149.87" width="10.62" height="9.03" fill="#518fbf"/>
<rect x="402.65" y="149.87" width="10.62" height="9.03" fill="#4684b6"/>
<rect x="413.27" y="149.87" width="10.62" height="9.03" fill="#3c79ad"/>
<rect x="423.89" y="104.70" width="10.62" height="9.03" fill="#4887b9"/>
<rect x="434.51" y="104.70" width="10.62" height="9.03" fill="#235f91"/>
<rect x="445.13" y="104.70" width="10.62" height="9.03" fill="#235f91"/>
<rect x="455.75" y="104.70" width="10.62" height="9.03" fill="#235f91"/>
<rect x="466.37" y="104.70" width="10.62" height="9.03" fill="#235f91"/>
<rect x="477.00" y="104.70" width="10.62" height="9.03" fill="#235f91"/>
<rect x="423.89" y="113.73" width="10.62" height="9.03" fill="#72afd7"/>
<rect x="434.51" y="113.73" width="10.62" height="9.03" fill="#3370a2"/>
<rect x="445.13" y="113.73" width="10.62" height="9.03" fill="#286496"/>
<rect x="455.75" y="113.73" width="10.62" height="9.03" fill="#256193"/>
<rect x="466.37" y="113.73" width="10.62" height="9.03" fill="#205c8e"/>
<rect x="477.00" y="113.73" width="10.62" height="9.03" fill="#205c8e"/>
<rect x="423.89" y="122.77" width="10.62" height="9.03" fill="#8dc4e6"/>
<rect x="434.51" y="122.77" width="10.62" height="9.03" fill="#4b8abb"/>
<rect x="445.13" y="122.77" width="10.62" height="9.03" fill="#3370a2"/>
<rect x="455.75" y="122.77" width="10.62" height="9.03" fill="#286496"/>
<rect x="466.37" y="122.77" width="10.62" height="9.03" fill="#235f91"/>
<rect x="477.00" y="122.77" width="10.62" height="9.03" fill="#205c8e"/>
<rect x="423.89" y="131.80" width="10.62" height="9.03" fill="#8dc4e6"/>
<rect x="434.51" y="131.80" width="10.62" height="9.03" fill="#5c9bc8"/>
<rect x="445.13" y="131.80" width="10.62" height="9.03" fill="#407eb2"/>
<rect x="455.75" y="131.80" width="10.62" height="9.03" fill="#2e6b9d"/>
<rect x="466.37" y="131.80" width="10.62" height="9.03" fill="#256193"/>
<rect x="477.00" y="131.80" width="10.62" height="9.03" fill="#235f91"/>
<rect x="423.89" y="140.83" width="10.62" height="9.03" fill="#96caea"/>
<rect x="434.51" y="140.83" width="10.62" height="9.03" fill="#6aa8d2"/>
<rect x="445.13" y="140.83" width="10.62" height="9.03" fill="#4b8abb"/>
<rect x="455.75" y="140.83" width="10.62" height="9.03" fill="#3370a2"/>
<rect x="466.37" y="140.83" width="10.62" height="9.03" fill="#2a6698"/>
<rect x="477.00" y="140.83" width="10.62" height="9.03" fill="#256193"/>
<rect x="423.89" y="149.87" width="10.62" height="9.03" fill="#96caea"/>
<rect x="434.51" y="149.87" width="10.62" height="9.03" fill="#72afd7"/>
<rect x="445.13" y="149.87" width="10.62" height="9.03" fill="#5695c4"/>
<rect x="455.75" y="149.87" width="10.62" height="9.03" fill="#407eb2"/>
<rect x="466.37" y="149.87" width="10.62" height="9.03" fill="#3370a2"/>
<rect x="477.00" y="149.87" width="10.62" height="9.03" fill="#2a6698"/>
<rect x="487.62" y="104.70" width="10.62" height="9.03" fill="#84bfe3"/>
<rect x="498.24" y="104.70" width="10.62" height="9.03" fill="#3370a2"/>
<rect x="508.86" y="104.70" width="10.62" height="9.03" fill="#3370a2"/>
<rect x="519.48" y="104.70" width="10.62" height="9.03" fill="#3370a2"/>
<rect x="530.10" y="104.70" width="10.62" height="9.03" fill="#3774a8"/>
<rect x="540.72" y="104.70" width="10.62" height="9.03" fill="#3370a2"/>
<rect x="487.62" y="113.73" width="10.62" height="9.03" fill="#f5beb6"/>
<rect x="498.24" y="113.73" width="10.62" height="9.03" fill="#407eb2"/>
<rect x="508.86" y="113.73" width="10.62" height="9.03" fill="#407eb2"/>
<rect x="519.48" y="113.73" width="10.62" height="9.03" fill="#3774a8"/>
<rect x="530.10" y="113.73" width="10.62" height="9.03" fill="#3c79ad"/>
<rect x="540.72" y="113.73" width="10.62" height="9.03" fill="#3370a2"/>
<rect x="487.62" y="122.77" width="10.62" height="9.03" fill="#efc6c0"/>
<rect x="498.24" y="122.77" width="10.62" height="9.03" fill="#5c9bc8"/>
<rect x="508.86" y="122.77" width="10.62" height="9.03" fill="#5695c4"/>
<rect x="519.48" y="122.77" width="10.62" height="9.03" fill="#407eb2"/>
<rect x="530.10" y="122.77" width="10.62" height="9.03" fill="#407eb2"/>
<rect x="540.72" y="122.77" width="10.62" height="9.03" fill="#3774a8"/>
<rect x="487.62" y="131.80" width="10.62" height="9.03" fill="#efc6c0"/>
<rect x="498.24" y="131.80" width="10.62" height="9.03" fill="#6aa8d2"/>
<rect x="508.86" y="131.80" width="10.62" height="9.03" fill="#5c9bc8"/>
<rect x="519.48" y="131.80" width="10.62" height="9.03" fill="#4684b6"/>
<rect x="530.10" y="131.80" width="10.62" height="9.03" fill="#4684b6"/>
<rect x="540.72" y="131.80" width="10.62" height="9.03" fill="#407eb2"/>
<rect x="487.62" y="140.83" width="10.62" height="9.03" fill="#fea495"/>
<rect x="498.24" y="140.83" width="10.62" height="9.03" fill="#72afd7"/>
<rect x="508.86" y="140.83" width="10.62" height="9.03" fill="#6aa8d2"/>
<rect x="519.48" y="140.83" width="10.62" height="9.03" fill="#63a2cd"/>
<rect x="530.10" y="140.83" width="10.62" height="9.03" fill="#4b8abb"/>
<rect x="540.72" y="140.83" width="10.62" height="9.03" fill="#4b8abb"/>
<rect x="487.62" y="149.87" width="10.62" height="9.03" fill="#faafa3"/>
<rect x="498.24" y="149.87" width="10.62" height="9.03" fill="#79b5dc"/>
<rect x="508.86" y="149.87" width="10.62" height="9.03" fill="#72afd7"/>
<rect x="519.48" y="149.87" width="10.62" height="9.03" fill="#6aa8d2"/>
<rect x="530.10" y="149.87" width="10.62" height="9.03" fill="#5695c4"/>
<rect x="540.72" y="149.87" width="10.62" height="9.03" fill="#518fbf"/>
<rect x="551.34" y="104.70" width="10.62" height="9.03" fill="#4c8abb"/>
<rect x="561.97" y="104.70" width="10.62" height="9.03" fill="#2c689b"/>
<rect x="572.59" y="104.70" width="10.62" height="9.03" fill="#276395"/>
<rect x="583.21" y="104.70" width="10.62" height="9.03" fill="#276395"/>
<rect x="593.83" y="104.70" width="10.62" height="9.03" fill="#296597"/>
<rect x="604.45" y="104.70" width="10.62" height="9.03" fill="#2c689b"/>
<rect x="551.34" y="113.73" width="10.62" height="9.03" fill="#69a7d1"/>
<rect x="561.97" y="113.73" width="10.62" height="9.03" fill="#3673a6"/>
<rect x="572.59" y="113.73" width="10.62" height="9.03" fill="#276395"/>
<rect x="583.21" y="113.73" width="10.62" height="9.03" fill="#215d8f"/>
<rect x="593.83" y="113.73" width="10.62" height="9.03" fill="#215d8f"/>
<rect x="604.45" y="113.73" width="10.62" height="9.03" fill="#225e90"/>
<rect x="551.34" y="122.77" width="10.62" height="9.03" fill="#7fbbe0"/>
<rect x="561.97" y="122.77" width="10.62" height="9.03" fill="#4c8abb"/>
<rect x="572.59" y="122.77" width="10.62" height="9.03" fill="#3673a6"/>
<rect x="583.21" y="122.77" width="10.62" height="9.03" fill="#296597"/>
<rect x="593.83" y="122.77" width="10.62" height="9.03" fill="#276395"/>
<rect x="604.45" y="122.77" width="10.62" height="9.03" fill="#225e90"/>
<rect x="551.34" y="131.80" width="10.62" height="9.03" fill="#7fbbe0"/>
<rect x="561.97" y="131.80" width="10.62" height="9.03" fill="#5492c1"/>
<rect x="572.59" y="131.80" width="10.62" height="9.03" fill="#3d7bae"/>
<rect x="583.21" y="131.80" width="10.62" height="9.03" fill="#3370a3"/>
<rect x="593.83" y="131.80" width="10.62" height="9.03" fill="#2c689b"/>
<rect x="604.45" y="131.80" width="10.62" height="9.03" fill="#276395"/>
<rect x="551.34" y="140.83" width="10.62" height="9.03" fill="#85bfe3"/>
<rect x="561.97" y="140.83" width="10.62" height="9.03" fill="#5d9cc8"/>
<rect x="572.59" y="140.83" width="10.62" height="9.03" fill="#4887b9"/>
<rect x="583.21" y="140.83" width="10.62" height="9.03" fill="#3b78ac"/>
<rect x="593.83" y="140.83" width="10.62" height="9.03" fill="#316ea0"/>
<rect x="604.45" y="140.83" width="10.62" height="9.03" fill="#2c689b"/>
<rect x="551.34" y="149.87" width="10.62" height="9.03" fill="#8fc6e7"/>
<rect x="561.97" y="149.87" width="10.62" height="9.03" fill="#65a3ce"/>
<rect x="572.59" y="149.87" width="10.62" height="9.03" fill="#508fbf"/>
<rect x="583.21" y="149.87" width="10.62" height="9.03" fill="#417fb3"/>
<rect x="593.83" y="149.87" width="10.62" height="9.03" fill="#3875a9"/>
<rect x="604.45" y="149.87" width="10.62" height="9.03" fill="#306c9f"/>
<rect x="615.07" y="104.70" width="10.62" height="9.03" fill="#4c8abb"/>
<rect x="625.69" y="104.70" width="10.62" height="9.03" fill="#276395"/>
<rect x="636.31" y="104.70" width="10.62" height="9.03" fill="#276395"/>
<rect x="646.94" y="104.70" width="10.62" height="9.03" fill="#2c689b"/>
<rect x="657.56" y="104.70" width="10.62" height="9.03" fill="#2c689b"/>
<rect x="668.18" y="104.70" width="10.62" height="9.03" fill="#276395"/>
<rect x="615.07" y="113.73" width="10.62" height="9.03" fill="#7fbbe0"/>
<rect x="625.69" y="113.73" width="10.62" height="9.03" fill="#3b78ac"/>
<rect x="636.31" y="113.73" width="10.62" height="9.03" fill="#3d7bae"/>
<rect x="646.94" y="113.73" width="10.62" height="9.03" fill="#215d8f"/>
<rect x="657.56" y="113.73" width="10.62" height="9.03" fill="#2c689b"/>
<rect x="668.18" y="113.73" width="10.62" height="9.03" fill="#276395"/>
<rect x="615.07" y="122.77" width="10.62" height="9.03" fill="#85bfe3"/>
<rect x="625.69" y="122.77" width="10.62" height="9.03" fill="#4c8abb"/>
<rect x="636.31" y="122.77" width="10.62" height="9.03" fill="#3b78ac"/>
<rect x="646.94" y="122.77" width="10.62" height="9.03" fill="#306c9f"/>
<rect x="657.56" y="122.77" width="10.62" height="9.03" fill="#276395"/>
<rect x="668.18" y="122.77" width="10.62" height="9.03" fill="#276395"/>
<rect x="615.07" y="131.80" width="10.62" height="9.03" fill="#85bfe3"/>
<rect x="625.69" y="131.80" width="10.62" height="9.03" fill="#5695c4"/>
<rect x="636.31" y="131.80" width="10.62" height="9.03" fill="#4684b6"/>
<rect x="646.94" y="131.80" width="10.62" height="9.03" fill="#3875a9"/>
<rect x="657.56" y="131.80" width="10.62" height="9.03" fill="#2c689b"/>
<rect x="668.18" y="131.80" width="10.62" height="9.03" fill="#296597"/>
<rect x="615.07" y="140.83" width="10.62" height="9.03" fill="#8fc6e7"/>
<rect x="625.69" y="140.83" width="10.62" height="9.03" fill="#5d9cc8"/>
<rect x="636.31" y="140.83" width="10.62" height="9.03" fill="#4c8abb"/>
<rect x="646.94" y="140.83" width="10.62" height="9.03" fill="#3d7bae"/>
<rect x="657.56" y="140.83" width="10.62" height="9.03" fill="#316ea0"/>
<rect x="668.18" y="140.83" width="10.62" height="9.03" fill="#2c689b"/>
<rect x="615.07" y="149.87" width="10.62" height="9.03" fill="#8fc6e7"/>
<rect x="625.69" y="149.87" width="10.62" height="9.03" fill="#69a7d1"/>
<rect x="636.31" y="149.87" width="10.62" height="9.03" fill="#5492c1"/>
<rect x="646.94" y="149.87" width="10.62" height="9.03" fill="#4280b4"/>
<rect x="657.56" y="149.87" width="10.62" height="9.03" fill="#3875a9"/>
<rect x="668.18" y="149.87" width="10.62" height="9.03" fill="#306c9f"/>
<rect x="105.25" y="158.90" width="10.62" height="9.03" fill="#4c8abb"/>
<rect x="115.87" y="158.90" width="10.62" height="9.03" fill="#276395"/>
<rect x="126.49" y="158.90" width="10.62" height="9.03" fill="#276395"/>
<rect x="137.11" y="158.90" width="10.62" height="9.03" fill="#225e90"/>
<rect x="147.74" y="158.90" width="10.62" height="9.03" fill="#276395"/>
<rect x="158.36" y="158.90" width="10.62" height="9.03" fill="#276395"/>
<rect x="105.25" y="167.93" width="10.62" height="9.03" fill="#79b5dc"/>
<rect x="115.87" y="167.93" width="10.62" height="9.03" fill="#3673a6"/>
<rect x="126.49" y="167.93" width="10.62" height="9.03" fill="#276395"/>
<rect x="137.11" y="167.93" width="10.62" height="9.03" fill="#215d8f"/>
<rect x="147.74" y="167.93" width="10.62" height="9.03" fill="#215d8f"/>
<rect x="158.36" y="167.93" width="10.62" height="9.03" fill="#225e90"/>
<rect x="105.25" y="176.97" width="10.62" height="9.03" fill="#7fbbe0"/>
<rect x="115.87" y="176.97" width="10.62" height="9.03" fill="#4887b9"/>
<rect x="126.49" y="176.97" width="10.62" height="9.03" fill="#316ea0"/>
<rect x="137.11" y="176.97" width="10.62" height="9.03" fill="#276395"/>
<rect x="147.74" y="176.97" width="10.62" height="9.03" fill="#276395"/>
<rect x="158.36" y="176.97" width="10.62" height="9.03" fill="#225e90"/>
<rect x="105.25" y="186.00" width="10.62" height="9.03" fill="#7fbbe0"/>
<rect x="115.87" y="186.00" width="10.62" height="9.03" fill="#5492c1"/>
<rect x="126.49" y="186.00" width="10.62" height="9.03" fill="#3d7bae"/>
<rect x="137.11" y="186.00" width="10.62" height="9.03" fill="#306c9f"/>
<rect x="147.74" y="186.00" width="10.62" height="9.03" fill="#2c689b"/>
<rect x="158.36" y="186.00" width="10.62" height="9.03" fill="#276395"/>
<rect x="105.25" y="195.03" width="10.62" height="9.03" fill="#85bfe3"/>
<rect x="115.87" y="195.03" width="10.62" height="9.03" fill="#5d9cc8"/>
<rect x="126.49" y="195.03" width="10.62" height="9.03" fill="#4887b9"/>
<rect x="137.11" y="195.03" width="10.62" height="9.03" fill="#3b78ac"/>
<rect x="147.74" y="195.03" width="10.62" height="9.03" fill="#316ea0"/>
<rect x="158.36" y="195.03" width="10.62" height="9.03" fill="#2c689b"/>
<rect x="105.25" y="204.07" width="10.62" height="9.03" fill="#8fc6e7"/>
<rect x="115.87" y="204.07" width="10.62" height="9.03" fill="#69a7d1"/>
<rect x="126.49" y="204.07" width="10.62" height="9.03" fill="#5492c1"/>
<rect x="137.11" y="204.07" width="10.62" height="9.03" fill="#4280b4"/>
<rect x="147.74" y="204.07" width="10.62" height="9.03" fill="#3875a9"/>
<rect x="158.36" y="204.07" width="10.62" height="9.03" fill="#306c9f"/>
<rect x="168.98" y="158.90" width="10.62" height="9.03" fill="#4c8abb"/>
<rect x="179.60" y="158.90" width="10.62" height="9.03" fill="#225e90"/>
<rect x="190.22" y="158.90" width="10.62" height="9.03" fill="#225e90"/>
<rect x="200.84" y="158.90" width="10.62" height="9.03" fill="#225e90"/>
<rect x="211.46" y="158.90" width="10.62" height="9.03" fill="#225e90"/>
<rect x="222.08" y="158.90" width="10.62" height="9.03" fill="#215d8f"/>
<rect x="168.98" y="167.93" width="10.62" height="9.03" fill="#7fbbe0"/>
<rect x="179.60" y="167.93" width="10.62" height="9.03" fill="#316ea0"/>
<rect x="190.22" y="167.93" width="10.62" height="9.03" fill="#276395"/>
<rect x="200.84" y="167.93" width="10.62" height="9.03" fill="#225e90"/>
<rect x="211.46" y="167.93" width="10.62" height="9.03" fill="#215d8f"/>
<rect x="222.08" y="167.93" width="10.62" height="9.03" fill="#215d8f"/>
<rect x="168.98" y="176.97" width="10.62" height="9.03" fill="#85bfe3"/>
<rect x="179.60" y="176.97" width="10.62" height="9.03" fill="#4c8abb"/>
<rect x="190.22" y="176.97" width="10.62" height="9.03" fill="#3673a6"/>
<rect x="200.84" y="176.97" width="10.62" height="9.03" fill="#2c689b"/>
<rect x="211.46" y="176.97" width="10.62" height="9.03" fill="#276395"/>
<rect x="222.08" y="176.97" width="10.62" height="9.03" fill="#225e90"/>
<rect x="168.98" y="186.00" width="10.62" height="9.03" fill="#85bfe3"/>
<rect x="179.60" y="186.00" width="10.62" height="9.03" fill="#5492c1"/>
<rect x="190.22" y="186.00" width="10.62" height="9.03" fill="#417fb3"/>
<rect x="200.84" y="186.00" width="10.62" height="9.03" fill="#316ea0"/>
<rect x="211.46" y="186.00" width="10.62" height="9.03" fill="#2c689b"/>
<rect x="222.08" y="186.00" width="10.62" height="9.03" fill="#276395"/>
<rect x="168.98" y="195.03" width="10.62" height="9.03" fill="#8fc6e7"/>
<rect x="179.60" y="195.03" width="10.62" height="9.03" fill="#5d9cc8"/>
<rect x="190.22" y="195.03" width="10.62" height="9.03" fill="#4887b9"/>
<rect x="200.84" y="195.03" width="10.62" height="9.03" fill="#3d7bae"/>
<rect x="211.46" y="195.03" width="10.62" height="9.03" fill="#316ea0"/>
<rect x="222.08" y="195.03" width="10.62" height="9.03" fill="#2c689b"/>
<rect x="168.98" y="204.07" width="10.62" height="9.03" fill="#8fc6e7"/>
<rect x="179.60" y="204.07" width="10.62" height="9.03" fill="#69a7d1"/>
<rect x="190.22" y="204.07" width="10.62" height="9.03" fill="#508fbf"/>
<rect x="200.84" y="204.07" width="10.62" height="9.03" fill="#4280b4"/>
<rect x="211.46" y="204.07" width="10.62" height="9.03" fill="#3875a9"/>
<rect x="222.08" y="204.07" width="10.62" height="9.03" fill="#306c9f"/>
<rect x="232.71" y="158.90" width="10.62" height="9.03" fill="#4887b9"/>
<rect x="243.33" y="158.90" width="10.62" height="9.03" fill="#235f91"/>
<rect x="253.95" y="158.90" width="10.62" height="9.03" fill="#235f91"/>
<rect x="264.57" y="158.90" width="10.62" height="9.03" fill="#235f91"/>
<rect x="275.19" y="158.90" width="10.62" height="9.03" fill="#235f91"/>
<rect x="285.81" y="158.90" width="10.62" height="9.03" fill="#235f91"/>
<rect x="232.71" y="167.93" width="10.62" height="9.03" fill="#79b5dc"/>
<rect x="243.33" y="167.93" width="10.62" height="9.03" fill="#407eb2"/>
<rect x="253.95" y="167.93" width="10.62" height="9.03" fill="#256193"/>
<rect x="264.57" y="167.93" width="10.62" height="9.03" fill="#205c8e"/>
<rect x="275.19" y="167.93" width="10.62" height="9.03" fill="#1e5a8c"/>
<rect x="285.81" y="167.93" width="10.62" height="9.03" fill="#1e5a8c"/>
<rect x="232.71" y="176.97" width="10.62" height="9.03" fill="#96caea"/>
<rect x="243.33" y="176.97" width="10.62" height="9.03" fill="#518fbf"/>
<rect x="253.95" y="176.97" width="10.62" height="9.03" fill="#3774a8"/>
<rect x="264.57" y="176.97" width="10.62" height="9.03" fill="#286496"/>
<rect x="275.19" y="176.97" width="10.62" height="9.03" fill="#235f91"/>
<rect x="285.81" y="176.97" width="10.62" height="9.03" fill="#205c8e"/>
<rect x="232.71" y="186.00" width="10.62" height="9.03" fill="#96caea"/>
<rect x="243.33" y="186.00" width="10.62" height="9.03" fill="#63a2cd"/>
<rect x="253.95" y="186.00" width="10.62" height="9.03" fill="#4b8abb"/>
<rect x="264.57" y="186.00" width="10.62" height="9.03" fill="#3370a2"/>
<rect x="275.19" y="186.00" width="10.62" height="9.03" fill="#286496"/>
<rect x="285.81" y="186.00" width="10.62" height="9.03" fill="#256193"/>
<rect x="232.71" y="195.03" width="10.62" height="9.03" fill="#a0cdea"/>
<rect x="243.33" y="195.03" width="10.62" height="9.03" fill="#6aa8d2"/>
<rect x="253.95" y="195.03" width="10.62" height="9.03" fill="#5695c4"/>
<rect x="264.57" y="195.03" width="10.62" height="9.03" fill="#407eb2"/>
<rect x="275.19" y="195.03" width="10.62" height="9.03" fill="#3370a2"/>
<rect x="285.81" y="195.03" width="10.62" height="9.03" fill="#2a6698"/>
<rect x="232.71" y="204.07" width="10.62" height="9.03" fill="#b7d3e7"/>
<rect x="243.33" y="204.07" width="10.62" height="9.03" fill="#79b5dc"/>
<rect x="253.95" y="204.07" width="10.62" height="9.03" fill="#63a2cd"/>
<rect x="264.57" y="204.07" width="10.62" height="9.03" fill="#4b8abb"/>
<rect x="275.19" y="204.07" width="10.62" height="9.03" fill="#3c79ad"/>
<rect x="285.81" y="204.07" width="10.62" height="9.03" fill="#3370a2"/>
<rect x="296.43" y="158.90" width="10.62" height="9.03" fill="#4887b9"/>
<rect x="307.05" y="158.90" width="10.62" height="9.03" fill="#235f91"/>
<rect x="317.68" y="158.90" width="10.62" height="9.03" fill="#235f91"/>
<rect x="328.30" y="158.90" width="10.62" height="9.03" fill="#235f91"/>
<rect x="338.92" y="158.90" width="10.62" height="9.03" fill="#235f91"/>
<rect x="349.54" y="158.90" width="10.62" height="9.03" fill="#235f91"/>
<rect x="296.43" y="167.93" width="10.62" height="9.03" fill="#72afd7"/>
<rect x="307.05" y="167.93" width="10.62" height="9.03" fill="#3c79ad"/>
<rect x="317.68" y="167.93" width="10.62" height="9.03" fill="#256193"/>
<rect x="328.30" y="167.93" width="10.62" height="9.03" fill="#205c8e"/>
<rect x="338.92" y="167.93" width="10.62" height="9.03" fill="#205c8e"/>
<rect x="349.54" y="167.93" width="10.62" height="9.03" fill="#1e5a8c"/>
<rect x="296.43" y="176.97" width="10.62" height="9.03" fill="#8dc4e6"/>
<rect x="307.05" y="176.97" width="10.62" height="9.03" fill="#518fbf"/>
<rect x="317.68" y="176.97" width="10.62" height="9.03" fill="#3774a8"/>
<rect x="328.30" y="176.97" width="10.62" height="9.03" fill="#2a6698"/>
<rect x="338.92" y="176.97" width="10.62" height="9.03" fill="#256193"/>
<rect x="349.54" y="176.97" width="10.62" height="9.03" fill="#235f91"/>
<rect x="296.43" y="186.00" width="10.62" height="9.03" fill="#8dc4e6"/>
<rect x="307.05" y="186.00" width="10.62" height="9.03" fill="#63a2cd"/>
<rect x="317.68" y="186.00" width="10.62" height="9.03" fill="#4b8abb"/>
<rect x="328.30" y="186.00" width="10.62" height="9.03" fill="#3370a2"/>
<rect x="338.92" y="186.00" width="10.62" height="9.03" fill="#2a6698"/>
<rect x="349.54" y="186.00" width="10.62" height="9.03" fill="#256193"/>
<rect x="296.43" y="195.03" width="10.62" height="9.03" fill="#96caea"/>
<rect x="307.05" y="195.03" width="10.62" height="9.03" fill="#6aa8d2"/>
<rect x="317.68" y="195.03" width="10.62" height="9.03" fill="#518fbf"/>
<rect x="328.30" y="195.03" width="10.62" height="9.03" fill="#3c79ad"/>
<rect x="338.92" y="195.03" width="10.62" height="9.03" fill="#3370a2"/>
<rect x="349.54" y="195.03" width="10.62" height="9.03" fill="#2a6698"/>
<rect x="296.43" y="204.07" width="10.62" height="9.03" fill="#96caea"/>
<rect x="307.05" y="204.07" width="10.62" height="9.03" fill="#72afd7"/>
<rect x="317.68" y="204.07" width="10.62" height="9.03" fill="#5c9bc8"/>
<rect x="328.30" y="204.07" width="10.62" height="9.03" fill="#4684b6"/>
<rect x="338.92" y="204.07" width="10.62" height="9.03" fill="#3c79ad"/>
<rect x="349.54" y="204.07" width="10.62" height="9.03" fill="#3370a2"/>
<rect x="360.16" y="158.90" width="10.62" height="9.03" fill="#4887b9"/>
<rect x="370.78" y="158.90" width="10.62" height="9.03" fill="#235f91"/>
<rect x="381.40" y="158.90" width="10.62" height="9.03" fill="#235f91"/>
<rect x="392.02" y="158.90" width="10.62" height="9.03" fill="#235f91"/>
<rect x="402.65" y="158.90" width="10.62" height="9.03" fill="#235f91"/>
<rect x="413.27" y="158.90" width="10.62" height="9.03" fill="#235f91"/>
<rect x="360.16" y="167.93" width="10.62" height="9.03" fill="#80bce1"/>
<rect x="370.78" y="167.93" width="10.62" height="9.03" fill="#3c79ad"/>
<rect x="381.40" y="167.93" width="10.62" height="9.03" fill="#256193"/>
<rect x="392.02" y="167.93" width="10.62" height="9.03" fill="#205c8e"/>
<rect x="402.65" y="167.93" width="10.62" height="9.03" fill="#205c8e"/>
<rect x="413.27" y="167.93" width="10.62" height="9.03" fill="#1e5a8c"/>
<rect x="360.16" y="176.97" width="10.62" height="9.03" fill="#96caea"/>
<rect x="370.78" y="176.97" width="10.62" height="9.03" fill="#518fbf"/>
<rect x="381.40" y="176.97" width="10.62" height="9.03" fill="#3c79ad"/>
<rect x="392.02" y="176.97" width="10.62" height="9.03" fill="#2e6b9d"/>
<rect x="402.65" y="176.97" width="10.62" height="9.03" fill="#286496"/>
<rect x="413.27" y="176.97" width="10.62" height="9.03" fill="#235f91"/>
<rect x="360.16" y="186.00" width="10.62" height="9.03" fill="#96caea"/>
<rect x="370.78" y="186.00" width="10.62" height="9.03" fill="#63a2cd"/>
<rect x="381.40" y="186.00" width="10.62" height="9.03" fill="#518fbf"/>
<rect x="392.02" y="186.00" width="10.62" height="9.03" fill="#3774a8"/>
<rect x="402.65" y="186.00" width="10.62" height="9.03" fill="#2e6b9d"/>
<rect x="413.27" y="186.00" width="10.62" height="9.03" fill="#286496"/>
<rect x="360.16" y="195.03" width="10.62" height="9.03" fill="#96caea"/>
<rect x="370.78" y="195.03" width="10.62" height="9.03" fill="#6aa8d2"/>
<rect x="381.40" y="195.03" width="10.62" height="9.03" fill="#5695c4"/>
<rect x="392.02" y="195.03" width="10.62" height="9.03" fill="#4684b6"/>
<rect x="402.65" y="195.03" width="10.62" height="9.03" fill="#3774a8"/>
<rect x="413.27" y="195.03" width="10.62" height="9.03" fill="#2e6b9d"/>
<rect x="360.16" y="204.07" width="10.62" height="9.03" fill="#96caea"/>
<rect x="370.78" y="204.07" width="10.62" height="9.03" fill="#79b5dc"/>
<rect x="381.40" y="204.07" width="10.62" height="9.03" fill="#63a2cd"/>
<rect x="392.02" y="204.07" width="10.62" height="9.03" fill="#518fbf"/>
<rect x="402.65" y="204.07" width="10.62" height="9.03" fill="#4684b6"/>
<rect x="413.27" y="204.07" width="10.62" height="9.03" fill="#3c79ad"/>
<rect x="423.89" y="158.90" width="10.62" height="9.03" fill="#4887b9"/>
<rect x="434.51" y="158.90" width="10.62" height="9.03" fill="#235f91"/>
<rect x="445.13" y="158.90" width="10.62" height="9.03" fill="#235f91"/>
<rect x="455.75" y="158.90" width="10.62" height="9.03" fill="#235f91"/>
<rect x="466.37" y="158.90" width="10.62" height="9.03" fill="#235f91"/>
<rect x="477.00" y="158.90" width="10.62" height="9.03" fill="#235f91"/>
<rect x="423.89" y="167.93" width="10.62" height="9.03" fill="#72afd7"/>
<rect x="434.51" y="167.93" width="10.62" height="9.03" fill="#3370a2"/>
<rect x="445.13" y="167.93" width="10.62" height="9.03" fill="#286496"/>
<rect x="455.75" y="167.93" width="10.62" height="9.03" fill="#256193"/>
<rect x="466.37" y="167.93" width="10.62" height="9.03" fill="#205c8e"/>
<rect x="477.00" y="167.93" width="10.62" height="9.03" fill="#205c8e"/>
<rect x="423.89" y="176.97" width="10.62" height="9.03" fill="#8dc4e6"/>
<rect x="434.51" y="176.97" width="10.62" height="9.03" fill="#4b8abb"/>
<rect x="445.13" y="176.97" width="10.62" height="9.03" fill="#3370a2"/>
<rect x="455.75" y="176.97" width="10.62" height="9.03" fill="#286496"/>
<rect x="466.37" y="176.97" width="10.62" height="9.03" fill="#235f91"/>
<rect x="477.00" y="176.97" width="10.62" height="9.03" fill="#205c8e"/>
<rect x="423.89" y="186.00" width="10.62" height="9.03" fill="#8dc4e6"/>
<rect x="434.51" y="186.00" width="10.62" height="9.03" fill="#5c9bc8"/>
<rect x="445.13" y="186.00" width="10.62" height="9.03" fill="#407eb2"/>
<rect x="455.75" y="186.00" width="10.62" height="9.03" fill="#2e6b9d"/>
<rect x="466.37" y="186.00" width="10.62" height="9.03" fill="#256193"/>
<rect x="477.00" y="186.00" width="10.62" height="9.03" fill="#235f91"/>
<rect x="423.89" y="195.03" width="10.62" height="9.03" fill="#96caea"/>
<rect x="434.51" y="195.03" width="10.62" height="9.03" fill="#6aa8d2"/>
<rect x="445.13" y="195.03" width="10.62" height="9.03" fill="#4b8abb"/>
<rect x="455.75" y="195.03" width="10.62" height="9.03" fill="#3370a2"/>
<rect x="466.37" y="195.03" width="10.62" height="9.03" fill="#2a6698"/>
<rect x="477.00" y="195.03" width="10.62" height="9.03" fill="#256193"/>
<rect x="423.89" y="204.07" width="10.62" height="9.03" fill="#96caea"/>
<rect x="434.51" y="204.07" width="10.62" height="9.03" fill="#72afd7"/>
<rect x="445.13" y="204.07" width="10.62" height="9.03" fill="#5695c4"/>
<rect x="455.75" y="204.07" width="10.62" height="9.03" fill="#407eb2"/>
<rect x="466.37" y="204.07" width="10.62" height="9.03" fill="#3370a2"/>
<rect x="477.00" y="204.07" width="10.62" height="9.03" fill="#2a6698"/>
<rect x="487.62" y="158.90" width="10.62" height="9.03" fill="#84bfe3"/>
<rect x="498.24" y="158.90" width="10.62" height="9.03" fill="#4684b6"/>
<rect x="508.86" y="158.90" width="10.62" height="9.03" fill="#3c79ad"/>
<rect x="519.48" y="158.90" width="10.62" height="9.03" fill="#3774a8"/>
<rect x="530.10" y="158.90" width="10.62" height="9.03" fill="#3370a2"/>
<rect x="540.72" y="158.90" width="10.62" height="9.03" fill="#3370a2"/>
<rect x="487.62" y="167.93" width="10.62" height="9.03" fill="#c8d6e2"/>
<rect x="498.24" y="167.93" width="10.62" height="9.03" fill="#518fbf"/>
<rect x="508.86" y="167.93" width="10.62" height="9.03" fill="#4b8abb"/>
<rect x="519.48" y="167.93" width="10.62" height="9.03" fill="#3c79ad"/>
<rect x="530.10" y="167.93" width="10.62" height="9.03" fill="#3774a8"/>
<rect x="540.72" y="167.93" width="10.62" height="9.03" fill="#3774a8"/>
<rect x="487.62" y="176.97" width="10.62" height="9.03" fill="#faafa3"/>
<rect x="498.24" y="176.97" width="10.62" height="9.03" fill="#5695c4"/>
<rect x="508.86" y="176.97" width="10.62" height="9.03" fill="#518fbf"/>
<rect x="519.48" y="176.97" width="10.62" height="9.03" fill="#407eb2"/>
<rect x="530.10" y="176.97" width="10.62" height="9.03" fill="#407eb2"/>
<rect x="540.72" y="176.97" width="10.62" height="9.03" fill="#3c79ad"/>
<rect x="487.62" y="186.00" width="10.62" height="9.03" fill="#faafa3"/>
<rect x="498.24" y="186.00" width="10.62" height="9.03" fill="#72afd7"/>
<rect x="508.86" y="186.00" width="10.62" height="9.03" fill="#5c9bc8"/>
<rect x="519.48" y="186.00" width="10.62" height="9.03" fill="#518fbf"/>
<rect x="530.10" y="186.00" width="10.62" height="9.03" fill="#4b8abb"/>
<rect x="540.72" y="186.00" width="10.62" height="9.03" fill="#4684b6"/>
<rect x="487.62" y="195.03" width="10.62" height="9.03" fill="#faafa3"/>
<rect x="498.24" y="195.03" width="10.62" height="9.03" fill="#79b5dc"/>
<rect x="508.86" y="195.03" width="10.62" height="9.03" fill="#6aa8d2"/>
<rect x="519.48" y="195.03" width="10.62" height="9.03" fill="#5695c4"/>
<rect x="530.10" y="195.03" width="10.62" height="9.03" fill="#4b8abb"/>
<rect x="540.72" y="195.03" width="10.62" height="9.03" fill="#407eb2"/>
<rect x="487.62" y="204.07" width="10.62" height="9.03" fill="#eacdca"/>
<rect x="498.24" y="204.07" width="10.62" height="9.03" fill="#d1d8e0"/>
<rect x="508.86" y="204.07" width="10.62" height="9.03" fill="#79b5dc"/>
<rect x="519.48" y="204.07" width="10.62" height="9.03" fill="#63a2cd"/>
<rect x="530.10" y="204.07" width="10.62" height="9.03" fill="#5c9bc8"/>
<rect x="540.72" y="204.07" width="10.62" height="9.03" fill="#5695c4"/>
<rect x="551.34" y="158.90" width="10.62" height="9.03" fill="#4c8abb"/>
<rect x="561.97" y="158.90" width="10.62" height="9.03" fill="#2c689b"/>
<rect x="572.59" y="158.90" width="10.62" height="9.03" fill="#2c689b"/>
<rect x="583.21" y="158.90" width="10.62" height="9.03" fill="#276395"/>
<rect x="593.83" y="158.90" width="10.62" height="9.03" fill="#276395"/>
<rect x="604.45" y="158.90" width="10.62" height="9.03" fill="#276395"/>
<rect x="551.34" y="167.93" width="10.62" height="9.03" fill="#79b5dc"/>
<rect x="561.97" y="167.93" width="10.62" height="9.03" fill="#3673a6"/>
<rect x="572.59" y="167.93" width="10.62" height="9.03" fill="#205c8e"/>
<rect x="583.21" y="167.93" width="10.62" height="9.03" fill="#205c8e"/>
<rect x="593.83" y="167.93" width="10.62" height="9.03" fill="#215d8f"/>
<rect x="604.45" y="167.93" width="10.62" height="9.03" fill="#225e90"/>
<rect x="551.34" y="176.97" width="10.62" height="9.03" fill="#7fbbe0"/>
<rect x="561.97" y="176.97" width="10.62" height="9.03" fill="#4887b9"/>
<rect x="572.59" y="176.97" width="10.62" height="9.03" fill="#306c9f"/>
<rect x="583.21" y="176.97" width="10.62" height="9.03" fill="#276395"/>
<rect x="593.83" y="176.97" width="10.62" height="9.03" fill="#276395"/>
<rect x="604.45" y="176.97" width="10.62" height="9.03" fill="#225e90"/>
<rect x="551.34" y="186.00" width="10.62" height="9.03" fill="#85bfe3"/>
<rect x="561.97" y="186.00" width="10.62" height="9.03" fill="#5695c4"/>
<rect x="572.59" y="186.00" width="10.62" height="9.03" fill="#3d7bae"/>
<rect x="583.21" y="186.00" width="10.62" height="9.03" fill="#3370a3"/>
<rect x="593.83" y="186.00" width="10.62" height="9.03" fill="#2c689b"/>
<rect x="604.45" y="186.00" width="10.62" height="9.03" fill="#276395"/>
<rect x="551.34" y="195.03" width="10.62" height="9.03" fill="#85bfe3"/>
<rect x="561.97" y="195.03" width="10.62" height="9.03" fill="#5d9cc8"/>
<rect x="572.59" y="195.03" width="10.62" height="9.03" fill="#4887b9"/>
<rect x="583.21" y="195.03" width="10.62" height="9.03" fill="#3b78ac"/>
<rect x="593.83" y="195.03" width="10.62" height="9.03" fill="#316ea0"/>
<rect x="604.45" y="195.03" width="10.62" height="9.03" fill="#2c689b"/>
<rect x="551.34" y="204.07" width="10.62" height="9.03" fill="#8fc6e7"/>
<rect x="561.97" y="204.07" width="10.62" height="9.03" fill="#69a7d1"/>
<rect x="572.59" y="204.07" width="10.62" height="9.03" fill="#508fbf"/>
<rect x="583.21" y="204.07" width="10.62" height="9.03" fill="#417fb3"/>
<rect x="593.83" y="204.07" width="10.62" height="9.03" fill="#3875a9"/>
<rect x="604.45" y="204.07" width="10.62" height="9.03" fill="#306c9f"/>
<rect x="615.07" y="158.90" width="10.62" height="9.03" fill="#4c8abb"/>
<rect x="625.69" y="158.90" width="10.62" height="9.03" fill="#2c689b"/>
<rect x="636.31" y="158.90" width="10.62" height="9.03" fill="#2c689b"/>
<rect x="646.94" y="158.90" width="10.62" height="9.03" fill="#276395"/>
<rect x="657.56" y="158.90" width="10.62" height="9.03" fill="#276395"/>
<rect x="668.18" y="158.90" width="10.62" height="9.03" fill="#276395"/>
<rect x="615.07" y="167.93" width="10.62" height="9.03" fill="#7fbbe0"/>
<rect x="625.69" y="167.93" width="10.62" height="9.03" fill="#4280b4"/>
<rect x="636.31" y="167.93" width="10.62" height="9.03" fill="#316ea0"/>
<rect x="646.94" y="167.93" width="10.62" height="9.03" fill="#276395"/>
<rect x="657.56" y="167.93" width="10.62" height="9.03" fill="#276395"/>
<rect x="668.18" y="167.93" width="10.62" height="9.03" fill="#225e90"/>
<rect x="615.07" y="176.97" width="10.62" height="9.03" fill="#8fc6e7"/>
<rect x="625.69" y="176.97" width="10.62" height="9.03" fill="#5492c1"/>
<rect x="636.31" y="176.97" width="10.62" height="9.03" fill="#3875a9"/>
<rect x="646.94" y="176.97" width="10.62" height="9.03" fill="#306c9f"/>
<rect x="657.56" y="176.97" width="10.62" height="9.03" fill="#276395"/>
<rect x="668.18" y="176.97" width="10.62" height="9.03" fill="#276395"/>
<rect x="615.07" y="186.00" width="10.62" height="9.03" fill="#8fc6e7"/>
<rect x="625.69" y="186.00" width="10.62" height="9.03" fill="#5b9ac7"/>
<rect x="636.31" y="186.00" width="10.62" height="9.03" fill="#4684b6"/>
<rect x="646.94" y="186.00" width="10.62" height="9.03" fill="#3875a9"/>
<rect x="657.56" y="186.00" width="10.62" height="9.03" fill="#2c689b"/>
<rect x="668.18" y="186.00" width="10.62" height="9.03" fill="#296597"/>
<rect x="615.07" y="195.03" width="10.62" height="9.03" fill="#96caea"/>
<rect x="625.69" y="195.03" width="10.62" height="9.03" fill="#69a7d1"/>
<rect x="636.31" y="195.03" width="10.62" height="9.03" fill="#4c8abb"/>
<rect x="646.94" y="195.03" width="10.62" height="9.03" fill="#3d7bae"/>
<rect x="657.56" y="195.03" width="10.62" height="9.03" fill="#316ea0"/>
<rect x="668.18" y="195.03" width="10.62" height="9.03" fill="#2c689b"/>
<rect x="615.07" y="204.07" width="10.62" height="9.03" fill="#96caea"/>
<rect x="625.69" y="204.07" width="10.62" height="9.03" fill="#6facd5"/>
<rect x="636.31" y="204.07" width="10.62" height="9.03" fill="#5492c1"/>
<rect x="646.94" y="204.07" width="10.62" height="9.03" fill="#4280b4"/>
<rect x="657.56" y="204.07" width="10.62" height="9.03" fill="#3875a9"/>
<rect x="668.18" y="204.07" width="10.62" height="9.03" fill="#306c9f"/>
<rect x="105.25" y="213.10" width="10.62" height="9.03" fill="#5695c4"/>
<rect x="115.87" y="213.10" width="10.62" height="9.03" fill="#235f91"/>
<rect x="126.49" y="213.10" width="10.62" height="9.03" fill="#235f91"/>
<rect x="137.11" y="213.10" width="10.62" height="9.03" fill="#235f91"/>
<rect x="147.74" y="213.10" width="10.62" height="9.03" fill="#235f91"/>
<rect x="158.36" y="213.10" width="10.62" height="9.03" fill="#235f91"/>
<rect x="105.25" y="222.13" width="10.62" height="9.03" fill="#6aa8d2"/>
<rect x="115.87" y="222.13" width="10.62" height="9.03" fill="#3c79ad"/>
<rect x="126.49" y="222.13" width="10.62" height="9.03" fill="#256193"/>
<rect x="137.11" y="222.13" width="10.62" height="9.03" fill="#205c8e"/>
<rect x="147.74" y="222.13" width="10.62" height="9.03" fill="#205c8e"/>
<rect x="158.36" y="222.13" width="10.62" height="9.03" fill="#1e5a8c"/>
<rect x="105.25" y="231.17" width="10.62" height="9.03" fill="#84bfe3"/>
<rect x="115.87" y="231.17" width="10.62" height="9.03" fill="#518fbf"/>
<rect x="126.49" y="231.17" width="10.62" height="9.03" fill="#3774a8"/>
<rect x="137.11" y="231.17" width="10.62" height="9.03" fill="#2a6698"/>
<rect x="147.74" y="231.17" width="10.62" height="9.03" fill="#256193"/>
<rect x="158.36" y="231.17" width="10.62" height="9.03" fill="#235f91"/>
<rect x="105.25" y="240.20" width="10.62" height="9.03" fill="#8dc4e6"/>
<rect x="115.87" y="240.20" width="10.62" height="9.03" fill="#5c9bc8"/>
<rect x="126.49" y="240.20" width="10.62" height="9.03" fill="#4b8abb"/>
<rect x="137.11" y="240.20" width="10.62" height="9.03" fill="#3370a2"/>
<rect x="147.74" y="240.20" width="10.62" height="9.03" fill="#2a6698"/>
<rect x="158.36" y="240.20" width="10.62" height="9.03" fill="#256193"/>
<rect x="105.25" y="249.23" width="10.62" height="9.03" fill="#8dc4e6"/>
<rect x="115.87" y="249.23" width="10.62" height="9.03" fill="#63a2cd"/>
<rect x="126.49" y="249.23" width="10.62" height="9.03" fill="#518fbf"/>
<rect x="137.11" y="249.23" width="10.62" height="9.03" fill="#3c79ad"/>
<rect x="147.74" y="249.23" width="10.62" height="9.03" fill="#3370a2"/>
<rect x="158.36" y="249.23" width="10.62" height="9.03" fill="#2a6698"/>
<rect x="105.25" y="258.27" width="10.62" height="9.03" fill="#8dc4e6"/>
<rect x="115.87" y="258.27" width="10.62" height="9.03" fill="#6aa8d2"/>
<rect x="126.49" y="258.27" width="10.62" height="9.03" fill="#5c9bc8"/>
<rect x="137.11" y="258.27" width="10.62" height="9.03" fill="#4684b6"/>
<rect x="147.74" y="258.27" width="10.62" height="9.03" fill="#3c79ad"/>
<rect x="158.36" y="258.27" width="10.62" height="9.03" fill="#3370a2"/>
<rect x="168.98" y="213.10" width="10.62" height="9.03" fill="#5695c4"/>
<rect x="179.60" y="213.10" width="10.62" height="9.03" fill="#235f91"/>
<rect x="190.22" y="213.10" width="10.62" height="9.03" fill="#235f91"/>
<rect x="200.84" y="213.10" width="10.62" height="9.03" fill="#235f91"/>
<rect x="211.46" y="213.10" width="10.62" height="9.03" fill="#235f91"/>
<rect x="222.08" y="213.10" width="10.62" height="9.03" fill="#235f91"/>
<rect x="168.98" y="222.13" width="10.62" height="9.03" fill="#72afd7"/>
<rect x="179.60" y="222.13" width="10.62" height="9.03" fill="#3774a8"/>
<rect x="190.22" y="222.13" width="10.62" height="9.03" fill="#256193"/>
<rect x="200.84" y="222.13" width="10.62" height="9.03" fill="#205c8e"/>
<rect x="211.46" y="222.13" width="10.62" height="9.03" fill="#205c8e"/>
<rect x="222.08" y="222.13" width="10.62" height="9.03" fill="#1e5a8c"/>
<rect x="168.98" y="231.17" width="10.62" height="9.03" fill="#8dc4e6"/>
<rect x="179.60" y="231.17" width="10.62" height="9.03" fill="#4b8abb"/>
<rect x="190.22" y="231.17" width="10.62" height="9.03" fill="#3774a8"/>
<rect x="200.84" y="231.17" width="10.62" height="9.03" fill="#286496"/>
<rect x="211.46" y="231.17" width="10.62" height="9.03" fill="#235f91"/>
<rect x="222.08" y="231.17" width="10.62" height="9.03" fill="#205c8e"/>
<rect x="168.98" y="240.20" width="10.62" height="9.03" fill="#8dc4e6"/>
<rect x="179.60" y="240.20" width="10.62" height="9.03" fill="#5c9bc8"/>
<rect x="190.22" y="240.20" width="10.62" height="9.03" fill="#4684b6"/>
<rect x="200.84" y="240.20" width="10.62" height="9.03" fill="#3370a2"/>
<rect x="211.46" y="240.20" width="10.62" height="9.03" fill="#286496"/>
<rect x="222.08" y="240.20" width="10.62" height="9.03" fill="#235f91"/>
<rect x="168.98" y="249.23" width="10.62" height="9.03" fill="#96caea"/>
<rect x="179.60" y="249.23" width="10.62" height="9.03" fill="#6aa8d2"/>
<rect x="190.22" y="249.23" width="10.62" height="9.03" fill="#518fbf"/>
<rect x="200.84" y="249.23" width="10.62" height="9.03" fill="#3c79ad"/>
<rect x="211.46" y="249.23" width="10.62" height="9.03" fill="#2e6b9d"/>
<rect x="222.08" y="249.23" width="10.62" height="9.03" fill="#286496"/>
<rect x="168.98" y="258.27" width="10.62" height="9.03" fill="#96caea"/>
<rect x="179.60" y="258.27" width="10.62" height="9.03" fill="#72afd7"/>
<rect x="190.22" y="258.27" width="10.62" height="9.03" fill="#5c9bc8"/>
<rect x="200.84" y="258.27" width="10.62" height="9.03" fill="#4684b6"/>
<rect x="211.46" y="258.27" width="10.62" height="9.03" fill="#3774a8"/>
<rect x="222.08" y="258.27" width="10.62" height="9.03" fill="#2e6b9d"/>
<rect x="232.71" y="213.10" width="10.62" height="9.03" fill="#63a2cd"/>
<rect x="243.33" y="213.10" width="10.62" height="9.03" fill="#235f91"/>
<rect x="253.95" y="213.10" width="10.62" height="9.03" fill="#235f91"/>
<rect x="264.57" y="213.10" width="10.62" height="9.03" fill="#235f91"/>
<rect x="275.19" y="213.10" width="10.62" height="9.03" fill="#235f91"/>
<rect x="285.81" y="213.10" width="10.62" height="9.03" fill="#235f91"/>
<rect x="232.71" y="222.13" width="10.62" height="9.03" fill="#89c2e5"/>
<rect x="243.33" y="222.13" width="10.62" height="9.03" fill="#4684b6"/>
<rect x="253.95" y="222.13" width="10.62" height="9.03" fill="#256193"/>
<rect x="264.57" y="222.13" width="10.62" height="9.03" fill="#205c8e"/>
<rect x="275.19" y="222.13" width="10.62" height="9.03" fill="#1e5a8c"/>
<rect x="285.81" y="222.13" width="10.62" height="9.03" fill="#1e5a8c"/>
<rect x="232.71" y="231.17" width="10.62" height="9.03" fill="#96caea"/>
<rect x="243.33" y="231.17" width="10.62" height="9.03" fill="#5695c4"/>
<rect x="253.95" y="231.17" width="10.62" height="9.03" fill="#3774a8"/>
<rect x="264.57" y="231.17" width="10.62" height="9.03" fill="#286496"/>
<rect x="275.19" y="231.17" width="10.62" height="9.03" fill="#235f91"/>
<rect x="285.81" y="231.17" width="10.62" height="9.03" fill="#205c8e"/>
<rect x="232.71" y="240.20" width="10.62" height="9.03" fill="#a0cdea"/>
<rect x="243.33" y="240.20" width="10.62" height="9.03" fill="#63a2cd"/>
<rect x="253.95" y="240.20" width="10.62" height="9.03" fill="#4b8abb"/>
<rect x="264.57" y="240.20" width="10.62" height="9.03" fill="#3370a2"/>
<rect x="275.19" y="240.20" width="10.62" height="9.03" fill="#286496"/>
<rect x="285.81" y="240.20" width="10.62" height="9.03" fill="#256193"/>
<rect x="232.71" y="249.23" width="10.62" height="9.03" fill="#c8d6e2"/>
<rect x="243.33" y="249.23" width="10.62" height="9.03" fill="#6aa8d2"/>
<rect x="253.95" y="249.23" width="10.62" height="9.03" fill="#5695c4"/>
<rect x="264.57" y="249.23" width="10.62" height="9.03" fill="#407eb2"/>
<rect x="275.19" y="249.23" width="10.62" height="9.03" fill="#3370a2"/>
<rect x="285.81" y="249.23" width="10.62" height="9.03" fill="#2a6698"/>
<rect x="232.71" y="258.27" width="10.62" height="9.03" fill="#aad0e9"/>
<rect x="243.33" y="258.27" width="10.62" height="9.03" fill="#79b5dc"/>
<rect x="253.95" y="258.27" width="10.62" height="9.03" fill="#63a2cd"/>
<rect x="264.57" y="258.27" width="10.62" height="9.03" fill="#4b8abb"/>
<rect x="275.19" y="258.27" width="10.62" height="9.03" fill="#3c79ad"/>
<rect x="285.81" y="258.27" width="10.62" height="9.03" fill="#3370a2"/>
<rect x="296.43" y="213.10" width="10.62" height="9.03" fill="#5695c4"/>
<rect x="307.05" y="213.10" width="10.62" height="9.03" fill="#235f91"/>
<rect x="317.68" y="213.10" width="10.62" height="9.03" fill="#235f91"/>
<rect x="328.30" y="213.10" width="10.62" height="9.03" fill="#235f91"/>
<rect x="338.92" y="213.10" width="10.62" height="9.03" fill="#235f91"/>
<rect x="349.54" y="213.10" width="10.62" height="9.03" fill="#235f91"/>
<rect x="296.43" y="222.13" width="10.62" height="9.03" fill="#72afd7"/>
<rect x="307.05" y="222.13" width="10.62" height="9.03" fill="#3c79ad"/>
<rect x="317.68" y="222.13" width="10.62" height="9.03" fill="#256193"/>
<rect x="328.30" y="222.13" width="10.62" height="9.03" fill="#205c8e"/>
<rect x="338.92" y="222.13" width="10.62" height="9.03" fill="#205c8e"/>
<rect x="349.54" y="222.13" width="10.62" height="9.03" fill="#1e5a8c"/>
<rect x="296.43" y="231.17" width="10.62" height="9.03" fill="#8dc4e6"/>
<rect x="307.05" y="231.17" width="10.62" height="9.03" fill="#5695c4"/>
<rect x="317.68" y="231.17" width="10.62" height="9.03" fill="#3c79ad"/>
<rect x="328.30" y="231.17" width="10.62" height="9.03" fill="#2a6698"/>
<rect x="338.92" y="231.17" width="10.62" height="9.03" fill="#256193"/>
<rect x="349.54" y="231.17" width="10.62" height="9.03" fill="#235f91"/>
<rect x="296.43" y="240.20" width="10.62" height="9.03" fill="#8dc4e6"/>
<rect x="307.05" y="240.20" width="10.62" height="9.03" fill="#6aa8d2"/>
<rect x="317.68" y="240.20" width="10.62" height="9.03" fill="#518fbf"/>
<rect x="328.30" y="240.20" width="10.62" height="9.03" fill="#3370a2"/>
<rect x="338.92" y="240.20" width="10.62" height="9.03" fill="#2a6698"/>
<rect x="349.54" y="240.20" width="10.62" height="9.03" fill="#256193"/>
<rect x="296.43" y="249.23" width="10.62" height="9.03" fill="#96caea"/>
<rect x="307.05" y="249.23" width="10.62" height="9.03" fill="#72afd7"/>
<rect x="317.68" y="249.23" width="10.62" height="9.03" fill="#5695c4"/>
<rect x="328.30" y="249.23" width="10.62" height="9.03" fill="#3c79ad"/>
<rect x="338.92" y="249.23" width="10.62" height="9.03" fill="#3370a2"/>
<rect x="349.54" y="249.23" width="10.62" height="9.03" fill="#2a6698"/>
<rect x="296.43" y="258.27" width="10.62" height="9.03" fill="#96caea"/>
<rect x="307.05" y="258.27" width="10.62" height="9.03" fill="#79b5dc"/>
<rect x="317.68" y="258.27" width="10.62" height="9.03" fill="#63a2cd"/>
<rect x="328.30" y="258.27" width="10.62" height="9.03" fill="#4684b6"/>
<rect x="338.92" y="258.27" width="10.62" height="9.03" fill="#3c79ad"/>
<rect x="349.54" y="258.27" width="10.62" height="9.03" fill="#3370a2"/>
<rect x="360.16" y="213.10" width="10.62" height="9.03" fill="#4684b6"/>
<rect x="370.78" y="213.10" width="10.62" height="9.03" fill="#235f91"/>
<rect x="381.40" y="213.10" width="10.62" height="9.03" fill="#235f91"/>
<rect x="392.02" y="213.10" width="10.62" height="9.03" fill="#235f91"/>
<rect x="402.65" y="213.10" width="10.62" height="9.03" fill="#235f91"/>
<rect x="413.27" y="213.10" width="10.62" height="9.03" fill="#235f91"/>
<rect x="360.16" y="222.13" width="10.62" height="9.03" fill="#80bce1"/>
<rect x="370.78" y="222.13" width="10.62" height="9.03" fill="#3c79ad"/>
<rect x="381.40" y="222.13" width="10.62" height="9.03" fill="#256193"/>
<rect x="392.02" y="222.13" width="10.62" height="9.03" fill="#205c8e"/>
<rect x="402.65" y="222.13" width="10.62" height="9.03" fill="#205c8e"/>
<rect x="413.27" y="222.13" width="10.62" height="9.03" fill="#1e5a8c"/>
<rect x="360.16" y="231.17" width="10.62" height="9.03" fill="#89c2e5"/>
<rect x="370.78" y="231.17" width="10.62" height="9.03" fill="#5695c4"/>
<rect x="381.40" y="231.17" width="10.62" height="9.03" fill="#407eb2"/>
<rect x="392.02" y="231.17" width="10.62" height="9.03" fill="#2e6b9d"/>
<rect x="402.65" y="231.17" width="10.62" height="9.03" fill="#286496"/>
<rect x="413.27" y="231.17" width="10.62" height="9.03" fill="#235f91"/>
<rect x="360.16" y="240.20" width="10.62" height="9.03" fill="#96caea"/>
<rect x="370.78" y="240.20" width="10.62" height="9.03" fill="#6aa8d2"/>
<rect x="381.40" y="240.20" width="10.62" height="9.03" fill="#5695c4"/>
<rect x="392.02" y="240.20" width="10.62" height="9.03" fill="#3774a8"/>
<rect x="402.65" y="240.20" width="10.62" height="9.03" fill="#2e6b9d"/>
<rect x="413.27" y="240.20" width="10.62" height="9.03" fill="#286496"/>
<rect x="360.16" y="249.23" width="10.62" height="9.03" fill="#a0cdea"/>
<rect x="370.78" y="249.23" width="10.62" height="9.03" fill="#72afd7"/>
<rect x="381.40" y="249.23" width="10.62" height="9.03" fill="#5c9bc8"/>
<rect x="392.02" y="249.23" width="10.62" height="9.03" fill="#4684b6"/>
<rect x="402.65" y="249.23" width="10.62" height="9.03" fill="#3774a8"/>
<rect x="413.27" y="249.23" width="10.62" height="9.03" fill="#2e6b9d"/>
<rect x="360.16" y="258.27" width="10.62" height="9.03" fill="#c8d6e2"/>
<rect x="370.78" y="258.27" width="10.62" height="9.03" fill="#80bce1"/>
<rect x="381.40" y="258.27" width="10.62" height="9.03" fill="#6aa8d2"/>
<rect x="392.02" y="258.27" width="10.62" height="9.03" fill="#518fbf"/>
<rect x="402.65" y="258.27" width="10.62" height="9.03" fill="#4684b6"/>
<rect x="413.27" y="258.27" width="10.62" height="9.03" fill="#3c79ad"/>
<rect x="423.89" y="213.10" width="10.62" height="9.03" fill="#5695c4"/>
<rect x="434.51" y="213.10" width="10.62" height="9.03" fill="#235f91"/>
<rect x="445.13" y="213.10" width="10.62" height="9.03" fill="#235f91"/>
<rect x="455.75" y="213.10" width="10.62" height="9.03" fill="#235f91"/>
<rect x="466.37" y="213.10" width="10.62" height="9.03" fill="#235f91"/>
<rect x="477.00" y="213.10" width="10.62" height="9.03" fill="#235f91"/>
<rect x="423.89" y="222.13" width="10.62" height="9.03" fill="#79b5dc"/>
<rect x="434.51" y="222.13" width="10.62" height="9.03" fill="#3370a2"/>
<rect x="445.13" y="222.13" width="10.62" height="9.03" fill="#286496"/>
<rect x="455.75" y="222.13" width="10.62" height="9.03" fill="#256193"/>
<rect x="466.37" y="222.13" width="10.62" height="9.03" fill="#205c8e"/>
<rect x="477.00" y="222.13" width="10.62" height="9.03" fill="#205c8e"/>
<rect x="423.89" y="231.17" width="10.62" height="9.03" fill="#8dc4e6"/>
<rect x="434.51" y="231.17" width="10.62" height="9.03" fill="#518fbf"/>
<rect x="445.13" y="231.17" width="10.62" height="9.03" fill="#3774a8"/>
<rect x="455.75" y="231.17" width="10.62" height="9.03" fill="#286496"/>
<rect x="466.37" y="231.17" width="10.62" height="9.03" fill="#235f91"/>
<rect x="477.00" y="231.17" width="10.62" height="9.03" fill="#205c8e"/>
<rect x="423.89" y="240.20" width="10.62" height="9.03" fill="#96caea"/>
<rect x="434.51" y="240.20" width="10.62" height="9.03" fill="#63a2cd"/>
<rect x="445.13" y="240.20" width="10.62" height="9.03" fill="#4684b6"/>
<rect x="455.75" y="240.20" width="10.62" height="9.03" fill="#2e6b9d"/>
<rect x="466.37" y="240.20" width="10.62" height="9.03" fill="#256193"/>
<rect x="477.00" y="240.20" width="10.62" height="9.03" fill="#235f91"/>
<rect x="423.89" y="249.23" width="10.62" height="9.03" fill="#96caea"/>
<rect x="434.51" y="249.23" width="10.62" height="9.03" fill="#72afd7"/>
<rect x="445.13" y="249.23" width="10.62" height="9.03" fill="#518fbf"/>
<rect x="455.75" y="249.23" width="10.62" height="9.03" fill="#3370a2"/>
<rect x="466.37" y="249.23" width="10.62" height="9.03" fill="#2a6698"/>
<rect x="477.00" y="249.23" width="10.62" height="9.03" fill="#256193"/>
<rect x="423.89" y="258.27" width="10.62" height="9.03" fill="#96caea"/>
<rect x="434.51" y="258.27" width="10.62" height="9.03" fill="#79b5dc"/>
<rect x="445.13" y="258.27" width="10.62" height="9.03" fill="#5c9bc8"/>
<rect x="455.75" y="258.27" width="10.62" height="9.03" fill="#407eb2"/>
<rect x="466.37" y="258.27" width="10.62" height="9.03" fill="#3370a2"/>
<rect x="477.00" y="258.27" width="10.62" height="9.03" fill="#2a6698"/>
<rect x="487.62" y="213.10" width="10.62" height="9.03" fill="#dedcde"/>
<rect x="498.24" y="213.10" width="10.62" height="9.03" fill="#4684b6"/>
<rect x="508.86" y="213.10" width="10.62" height="9.03" fill="#3c79ad"/>
<rect x="519.48" y="213.10" width="10.62" height="9.03" fill="#407eb2"/>
<rect x="530.10" y="213.10" width="10.62" height="9.03" fill="#3370a2"/>
<rect x="540.72" y="213.10" width="10.62" height="9.03" fill="#3c79ad"/>
<rect x="487.62" y="222.13" width="10.62" height="9.03" fill="#ff9b8a"/>
<rect x="498.24" y="222.13" width="10.62" height="9.03" fill="#72afd7"/>
<rect x="508.86" y="222.13" width="10.62" height="9.03" fill="#5695c4"/>
<rect x="519.48" y="222.13" width="10.62" height="9.03" fill="#407eb2"/>
<rect x="530.10" y="222.13" width="10.62" height="9.03" fill="#4b8abb"/>
<rect x="540.72" y="222.13" width="10.62" height="9.03" fill="#3370a2"/>
<rect x="487.62" y="231.17" width="10.62" height="9.03" fill="#ffa090"/>
<rect x="498.24" y="231.17" width="10.62" height="9.03" fill="#79b5dc"/>
<rect x="508.86" y="231.17" width="10.62" height="9.03" fill="#5c9bc8"/>
<rect x="519.48" y="231.17" width="10.62" height="9.03" fill="#518fbf"/>
<rect x="530.10" y="231.17" width="10.62" height="9.03" fill="#4684b6"/>
<rect x="540.72" y="231.17" width="10.62" height="9.03" fill="#4684b6"/>
<rect x="487.62" y="240.20" width="10.62" height="9.03" fill="#ffa090"/>
<rect x="498.24" y="240.20" width="10.62" height="9.03" fill="#79b5dc"/>
<rect x="508.86" y="240.20" width="10.62" height="9.03" fill="#63a2cd"/>
<rect x="519.48" y="240.20" width="10.62" height="9.03" fill="#518fbf"/>
<rect x="530.10" y="240.20" width="10.62" height="9.03" fill="#4b8abb"/>
<rect x="540.72" y="240.20" width="10.62" height="9.03" fill="#4684b6"/>
<rect x="487.62" y="249.23" width="10.62" height="9.03" fill="#ffa090"/>
<rect x="498.24" y="249.23" width="10.62" height="9.03" fill="#80bce1"/>
<rect x="508.86" y="249.23" width="10.62" height="9.03" fill="#79b5dc"/>
<rect x="519.48" y="249.23" width="10.62" height="9.03" fill="#5c9bc8"/>
<rect x="530.10" y="249.23" width="10.62" height="9.03" fill="#518fbf"/>
<rect x="540.72" y="249.23" width="10.62" height="9.03" fill="#4b8abb"/>
<rect x="487.62" y="258.27" width="10.62" height="9.03" fill="#ffa090"/>
<rect x="498.24" y="258.27" width="10.62" height="9.03" fill="#c8d6e2"/>
<rect x="508.86" y="258.27" width="10.62" height="9.03" fill="#80bce1"/>
<rect x="519.48" y="258.27" width="10.62" height="9.03" fill="#6aa8d2"/>
<rect x="530.10" y="258.27" width="10.62" height="9.03" fill="#5c9bc8"/>
<rect x="540.72" y="258.27" width="10.62" height="9.03" fill="#518fbf"/>
<rect x="551.34" y="213.10" width="10.62" height="9.03" fill="#63a2cd"/>
<rect x="561.97" y="213.10" width="10.62" height="9.03" fill="#3c79ad"/>
<rect x="572.59" y="213.10" width="10.62" height="9.03" fill="#2e6b9d"/>
<rect x="583.21" y="213.10" width="10.62" height="9.03" fill="#2a6698"/>
<rect x="593.83" y="213.10" width="10.62" height="9.03" fill="#256193"/>
<rect x="604.45" y="213.10" width="10.62" height="9.03" fill="#256193"/>
<rect x="551.34" y="222.13" width="10.62" height="9.03" fill="#79b5dc"/>
<rect x="561.97" y="222.13" width="10.62" height="9.03" fill="#407eb2"/>
<rect x="572.59" y="222.13" width="10.62" height="9.03" fill="#2a6698"/>
<rect x="583.21" y="222.13" width="10.62" height="9.03" fill="#256193"/>
<rect x="593.83" y="222.13" width="10.62" height="9.03" fill="#235f91"/>
<rect x="604.45" y="222.13" width="10.62" height="9.03" fill="#235f91"/>
<rect x="551.34" y="231.17" width="10.62" height="9.03" fill="#89c2e5"/>
<rect x="561.97" y="231.17" width="10.62" height="9.03" fill="#518fbf"/>
<rect x="572.59" y="231.17" width="10.62" height="9.03" fill="#3c79ad"/>
<rect x="583.21" y="231.17" width="10.62" height="9.03" fill="#2e6b9d"/>
<rect x="593.83" y="231.17" width="10.62" height="9.03" fill="#2a6698"/>
<rect x="604.45" y="231.17" width="10.62" height="9.03" fill="#256193"/>
<rect x="551.34" y="240.20" width="10.62" height="9.03" fill="#89c2e5"/>
<rect x="561.97" y="240.20" width="10.62" height="9.03" fill="#5695c4"/>
<rect x="572.59" y="240.20" width="10.62" height="9.03" fill="#4684b6"/>
<rect x="583.21" y="240.20" width="10.62" height="9.03" fill="#3774a8"/>
<rect x="593.83" y="240.20" width="10.62" height="9.03" fill="#2e6b9d"/>
<rect x="604.45" y="240.20" width="10.62" height="9.03" fill="#2a6698"/>
<rect x="551.34" y="249.23" width="10.62" height="9.03" fill="#89c2e5"/>
<rect x="561.97" y="249.23" width="10.62" height="9.03" fill="#5c9bc8"/>
<rect x="572.59" y="249.23" width="10.62" height="9.03" fill="#4b8abb"/>
<rect x="583.21" y="249.23" width="10.62" height="9.03" fill="#407eb2"/>
<rect x="593.83" y="249.23" width="10.62" height="9.03" fill="#3774a8"/>
<rect x="604.45" y="249.23" width="10.62" height="9.03" fill="#2e6b9d"/>
<rect x="551.34" y="258.27" width="10.62" height="9.03" fill="#8dc4e6"/>
<rect x="561.97" y="258.27" width="10.62" height="9.03" fill="#63a2cd"/>
<rect x="572.59" y="258.27" width="10.62" height="9.03" fill="#518fbf"/>
<rect x="583.21" y="258.27" width="10.62" height="9.03" fill="#4684b6"/>
<rect x="593.83" y="258.27" width="10.62" height="9.03" fill="#3c79ad"/>
<rect x="604.45" y="258.27" width="10.62" height="9.03" fill="#3370a2"/>
<rect x="615.07" y="213.10" width="10.62" height="9.03" fill="#63a2cd"/>
<rect x="625.69" y="213.10" width="10.62" height="9.03" fill="#3c79ad"/>
<rect x="636.31" y="213.10" width="10.62" height="9.03" fill="#3370a2"/>
<rect x="646.94" y="213.10" width="10.62" height="9.03" fill="#2e6b9d"/>
<rect x="657.56" y="213.10" width="10.62" height="9.03" fill="#2a6698"/>
<rect x="668.18" y="213.10" width="10.62" height="9.03" fill="#2a6698"/>
<rect x="615.07" y="222.13" width="10.62" height="9.03" fill="#79b5dc"/>
<rect x="625.69" y="222.13" width="10.62" height="9.03" fill="#4b8abb"/>
<rect x="636.31" y="222.13" width="10.62" height="9.03" fill="#3c79ad"/>
<rect x="646.94" y="222.13" width="10.62" height="9.03" fill="#2e6b9d"/>
<rect x="657.56" y="222.13" width="10.62" height="9.03" fill="#2a6698"/>
<rect x="668.18" y="222.13" width="10.62" height="9.03" fill="#2a6698"/>
<rect x="615.07" y="231.17" width="10.62" height="9.03" fill="#89c2e5"/>
<rect x="625.69" y="231.17" width="10.62" height="9.03" fill="#5695c4"/>
<rect x="636.31" y="231.17" width="10.62" height="9.03" fill="#4684b6"/>
<rect x="646.94" y="231.17" width="10.62" height="9.03" fill="#3c79ad"/>
<rect x="657.56" y="231.17" width="10.62" height="9.03" fill="#2e6b9d"/>
<rect x="668.18" y="231.17" width="10.62" height="9.03" fill="#2a6698"/>
<rect x="615.07" y="240.20" width="10.62" height="9.03" fill="#8dc4e6"/>
<rect x="625.69" y="240.20" width="10.62" height="9.03" fill="#5c9bc8"/>
<rect x="636.31" y="240.20" width="10.62" height="9.03" fill="#4b8abb"/>
<rect x="646.94" y="240.20" width="10.62" height="9.03" fill="#407eb2"/>
<rect x="657.56" y="240.20" width="10.62" height="9.03" fill="#3774a8"/>
<rect x="668.18" y="240.20" width="10.62" height="9.03" fill="#2e6b9d"/>
<rect x="615.07" y="249.23" width="10.62" height="9.03" fill="#8dc4e6"/>
<rect x="625.69" y="249.23" width="10.62" height="9.03" fill="#63a2cd"/>
<rect x="636.31" y="249.23" width="10.62" height="9.03" fill="#518fbf"/>
<rect x="646.94" y="249.23" width="10.62" height="9.03" fill="#4684b6"/>
<rect x="657.56" y="249.23" width="10.62" height="9.03" fill="#3c79ad"/>
<rect x="668.18" y="249.23" width="10.62" height="9.03" fill="#3774a8"/>
<rect x="615.07" y="258.27" width="10.62" height="9.03" fill="#92c7e8"/>
<rect x="625.69" y="258.27" width="10.62" height="9.03" fill="#6aa8d2"/>
<rect x="636.31" y="258.27" width="10.62" height="9.03" fill="#5695c4"/>
<rect x="646.94" y="258.27" width="10.62" height="9.03" fill="#4b8abb"/>
<rect x="657.56" y="258.27" width="10.62" height="9.03" fill="#407eb2"/>
<rect x="668.18" y="258.27" width="10.62" height="9.03" fill="#3c79ad"/>
<rect x="105.25" y="380.50" width="10.62" height="9.55" fill="#3774a8"/>
<rect x="115.87" y="380.50" width="10.62" height="9.55" fill="#205c8e"/>
<rect x="126.49" y="380.50" width="10.62" height="9.55" fill="#205c8e"/>
<rect x="137.11" y="380.50" width="10.62" height="9.55" fill="#1e5a8c"/>
<rect x="147.74" y="380.50" width="10.62" height="9.55" fill="#1e5a8c"/>
<rect x="158.36" y="380.50" width="10.62" height="9.55" fill="#1e5a8c"/>
<rect x="105.25" y="390.05" width="10.62" height="9.55" fill="#63a2cd"/>
<rect x="115.87" y="390.05" width="10.62" height="9.55" fill="#3774a8"/>
<rect x="126.49" y="390.05" width="10.62" height="9.55" fill="#286496"/>
<rect x="137.11" y="390.05" width="10.62" height="9.55" fill="#235f91"/>
<rect x="147.74" y="390.05" width="10.62" height="9.55" fill="#205c8e"/>
<rect x="158.36" y="390.05" width="10.62" height="9.55" fill="#1e5a8c"/>
<rect x="105.25" y="399.60" width="10.62" height="9.55" fill="#7cb9de"/>
<rect x="115.87" y="399.60" width="10.62" height="9.55" fill="#518fbf"/>
<rect x="126.49" y="399.60" width="10.62" height="9.55" fill="#3c79ad"/>
<rect x="137.11" y="399.60" width="10.62" height="9.55" fill="#2a6698"/>
<rect x="147.74" y="399.60" width="10.62" height="9.55" fill="#256193"/>
<rect x="158.36" y="399.60" width="10.62" height="9.55" fill="#235f91"/>
<rect x="105.25" y="409.15" width="10.62" height="9.55" fill="#84bfe3"/>
<rect x="115.87" y="409.15" width="10.62" height="9.55" fill="#5c9bc8"/>
<rect x="126.49" y="409.15" width="10.62" height="9.55" fill="#518fbf"/>
<rect x="137.11" y="409.15" width="10.62" height="9.55" fill="#3774a8"/>
<rect x="147.74" y="409.15" width="10.62" height="9.55" fill="#2e6b9d"/>
<rect x="158.36" y="409.15" width="10.62" height="9.55" fill="#286496"/>
<rect x="105.25" y="418.70" width="10.62" height="9.55" fill="#8dc4e6"/>
<rect x="115.87" y="418.70" width="10.62" height="9.55" fill="#63a2cd"/>
<rect x="126.49" y="418.70" width="10.62" height="9.55" fill="#5695c4"/>
<rect x="137.11" y="418.70" width="10.62" height="9.55" fill="#4684b6"/>
<rect x="147.74" y="418.70" width="10.62" height="9.55" fill="#3370a2"/>
<rect x="158.36" y="418.70" width="10.62" height="9.55" fill="#2a6698"/>
<rect x="105.25" y="428.25" width="10.62" height="9.55" fill="#96caea"/>
<rect x="115.87" y="428.25" width="10.62" height="9.55" fill="#6aa8d2"/>
<rect x="126.49" y="428.25" width="10.62" height="9.55" fill="#5c9bc8"/>
<rect x="137.11" y="428.25" width="10.62" height="9.55" fill="#4b8abb"/>
<rect x="147.74" y="428.25" width="10.62" height="9.55" fill="#3c79ad"/>
<rect x="158.36" y="428.25" width="10.62" height="9.55" fill="#3774a8"/>
<rect x="168.98" y="380.50" width="10.62" height="9.55" fill="#3774a8"/>
<rect x="179.60" y="380.50" width="10.62" height="9.55" fill="#205c8e"/>
<rect x="190.22" y="380.50" width="10.62" height="9.55" fill="#205c8e"/>
<rect x="200.84" y="380.50" width="10.62" height="9.55" fill="#1e5a8c"/>
<rect x="211.46" y="380.50" width="10.62" height="9.55" fill="#1e5a8c"/>
<rect x="222.08" y="380.50" width="10.62" height="9.55" fill="#1e5a8c"/>
<rect x="168.98" y="390.05" width="10.62" height="9.55" fill="#72afd7"/>
<rect x="179.60" y="390.05" width="10.62" height="9.55" fill="#3774a8"/>
<rect x="190.22" y="390.05" width="10.62" height="9.55" fill="#256193"/>
<rect x="200.84" y="390.05" width="10.62" height="9.55" fill="#205c8e"/>
<rect x="211.46" y="390.05" width="10.62" height="9.55" fill="#205c8e"/>
<rect x="222.08" y="390.05" width="10.62" height="9.55" fill="#1e5a8c"/>
<rect x="168.98" y="399.60" width="10.62" height="9.55" fill="#8dc4e6"/>
<rect x="179.60" y="399.60" width="10.62" height="9.55" fill="#518fbf"/>
<rect x="190.22" y="399.60" width="10.62" height="9.55" fill="#3c79ad"/>
<rect x="200.84" y="399.60" width="10.62" height="9.55" fill="#2a6698"/>
<rect x="211.46" y="399.60" width="10.62" height="9.55" fill="#256193"/>
<rect x="222.08" y="399.60" width="10.62" height="9.55" fill="#205c8e"/>
<rect x="168.98" y="409.15" width="10.62" height="9.55" fill="#8dc4e6"/>
<rect x="179.60" y="409.15" width="10.62" height="9.55" fill="#5c9bc8"/>
<rect x="190.22" y="409.15" width="10.62" height="9.55" fill="#4b8abb"/>
<rect x="200.84" y="409.15" width="10.62" height="9.55" fill="#3774a8"/>
<rect x="211.46" y="409.15" width="10.62" height="9.55" fill="#2a6698"/>
<rect x="222.08" y="409.15" width="10.62" height="9.55" fill="#256193"/>
<rect x="168.98" y="418.70" width="10.62" height="9.55" fill="#96caea"/>
<rect x="179.60" y="418.70" width="10.62" height="9.55" fill="#63a2cd"/>
<rect x="190.22" y="418.70" width="10.62" height="9.55" fill="#518fbf"/>
<rect x="200.84" y="418.70" width="10.62" height="9.55" fill="#3c79ad"/>
<rect x="211.46" y="418.70" width="10.62" height="9.55" fill="#3370a2"/>
<rect x="222.08" y="418.70" width="10.62" height="9.55" fill="#286496"/>
<rect x="168.98" y="428.25" width="10.62" height="9.55" fill="#96caea"/>
<rect x="179.60" y="428.25" width="10.62" height="9.55" fill="#6aa8d2"/>
<rect x="190.22" y="428.25" width="10.62" height="9.55" fill="#5c9bc8"/>
<rect x="200.84" y="428.25" width="10.62" height="9.55" fill="#4684b6"/>
<rect x="211.46" y="428.25" width="10.62" height="9.55" fill="#3c79ad"/>
<rect x="222.08" y="428.25" width="10.62" height="9.55" fill="#3370a2"/>
<rect x="232.71" y="380.50" width="10.62" height="9.55" fill="#3774a8"/>
<rect x="243.33" y="380.50" width="10.62" height="9.55" fill="#205c8e"/>
<rect x="253.95" y="380.50" width="10.62" height="9.55" fill="#1e5a8c"/>
<rect x="264.57" y="380.50" width="10.62" height="9.55" fill="#1e5a8c"/>
<rect x="275.19" y="380.50" width="10.62" height="9.55" fill="#1e5a8c"/>
<rect x="285.81" y="380.50" width="10.62" height="9.55" fill="#1e5a8c"/>
<rect x="232.71" y="390.05" width="10.62" height="9.55" fill="#79b5dc"/>
<rect x="243.33" y="390.05" width="10.62" height="9.55" fill="#407eb2"/>
<rect x="253.95" y="390.05" width="10.62" height="9.55" fill="#256193"/>
<rect x="264.57" y="390.05" width="10.62" height="9.55" fill="#205c8e"/>
<rect x="275.19" y="390.05" width="10.62" height="9.55" fill="#1e5a8c"/>
<rect x="285.81" y="390.05" width="10.62" height="9.55" fill="#1e5a8c"/>
<rect x="232.71" y="399.60" width="10.62" height="9.55" fill="#96caea"/>
<rect x="243.33" y="399.60" width="10.62" height="9.55" fill="#518fbf"/>
<rect x="253.95" y="399.60" width="10.62" height="9.55" fill="#3774a8"/>
<rect x="264.57" y="399.60" width="10.62" height="9.55" fill="#286496"/>
<rect x="275.19" y="399.60" width="10.62" height="9.55" fill="#235f91"/>
<rect x="285.81" y="399.60" width="10.62" height="9.55" fill="#205c8e"/>
<rect x="232.71" y="409.15" width="10.62" height="9.55" fill="#96caea"/>
<rect x="243.33" y="409.15" width="10.62" height="9.55" fill="#63a2cd"/>
<rect x="253.95" y="409.15" width="10.62" height="9.55" fill="#4b8abb"/>
<rect x="264.57" y="409.15" width="10.62" height="9.55" fill="#3370a2"/>
<rect x="275.19" y="409.15" width="10.62" height="9.55" fill="#286496"/>
<rect x="285.81" y="409.15" width="10.62" height="9.55" fill="#256193"/>
<rect x="232.71" y="418.70" width="10.62" height="9.55" fill="#96caea"/>
<rect x="243.33" y="418.70" width="10.62" height="9.55" fill="#6aa8d2"/>
<rect x="253.95" y="418.70" width="10.62" height="9.55" fill="#5695c4"/>
<rect x="264.57" y="418.70" width="10.62" height="9.55" fill="#407eb2"/>
<rect x="275.19" y="418.70" width="10.62" height="9.55" fill="#3370a2"/>
<rect x="285.81" y="418.70" width="10.62" height="9.55" fill="#2a6698"/>
<rect x="232.71" y="428.25" width="10.62" height="9.55" fill="#96caea"/>
<rect x="243.33" y="428.25" width="10.62" height="9.55" fill="#79b5dc"/>
<rect x="253.95" y="428.25" width="10.62" height="9.55" fill="#63a2cd"/>
<rect x="264.57" y="428.25" width="10.62" height="9.55" fill="#4b8abb"/>
<rect x="275.19" y="428.25" width="10.62" height="9.55" fill="#3c79ad"/>
<rect x="285.81" y="428.25" width="10.62" height="9.55" fill="#3370a2"/>
<rect x="296.43" y="380.50" width="10.62" height="9.55" fill="#3774a8"/>
<rect x="307.05" y="380.50" width="10.62" height="9.55" fill="#205c8e"/>
<rect x="317.68" y="380.50" width="10.62" height="9.55" fill="#205c8e"/>
<rect x="328.30" y="380.50" width="10.62" height="9.55" fill="#1e5a8c"/>
<rect x="338.92" y="380.50" width="10.62" height="9.55" fill="#1e5a8c"/>
<rect x="349.54" y="380.50" width="10.62" height="9.55" fill="#1e5a8c"/>
<rect x="296.43" y="390.05" width="10.62" height="9.55" fill="#72afd7"/>
<rect x="307.05" y="390.05" width="10.62" height="9.55" fill="#3c79ad"/>
<rect x="317.68" y="390.05" width="10.62" height="9.55" fill="#256193"/>
<rect x="328.30" y="390.05" width="10.62" height="9.55" fill="#205c8e"/>
<rect x="338.92" y="390.05" width="10.62" height="9.55" fill="#205c8e"/>
<rect x="349.54" y="390.05" width="10.62" height="9.55" fill="#1e5a8c"/>
<rect x="296.43" y="399.60" width="10.62" height="9.55" fill="#8dc4e6"/>
<rect x="307.05" y="399.60" width="10.62" height="9.55" fill="#518fbf"/>
<rect x="317.68" y="399.60" width="10.62" height="9.55" fill="#3774a8"/>
<rect x="328.30" y="399.60" width="10.62" height="9.55" fill="#2a6698"/>
<rect x="338.92" y="399.60" width="10.62" height="9.55" fill="#256193"/>
<rect x="349.54" y="399.60" width="10.62" height="9.55" fill="#235f91"/>
<rect x="296.43" y="409.15" width="10.62" height="9.55" fill="#8dc4e6"/>
<rect x="307.05" y="409.15" width="10.62" height="9.55" fill="#63a2cd"/>
<rect x="317.68" y="409.15" width="10.62" height="9.55" fill="#4b8abb"/>
<rect x="328.30" y="409.15" width="10.62" height="9.55" fill="#3370a2"/>
<rect x="338.92" y="409.15" width="10.62" height="9.55" fill="#2a6698"/>
<rect x="349.54" y="409.15" width="10.62" height="9.55" fill="#256193"/>
<rect x="296.43" y="418.70" width="10.62" height="9.55" fill="#96caea"/>
<rect x="307.05" y="418.70" width="10.62" height="9.55" fill="#6aa8d2"/>
<rect x="317.68" y="418.70" width="10.62" height="9.55" fill="#518fbf"/>
<rect x="328.30" y="418.70" width="10.62" height="9.55" fill="#3c79ad"/>
<rect x="338.92" y="418.70" width="10.62" height="9.55" fill="#3370a2"/>
<rect x="349.54" y="418.70" width="10.62" height="9.55" fill="#2a6698"/>
<rect x="296.43" y="428.25" width="10.62" height="9.55" fill="#96caea"/>
<rect x="307.05" y="428.25" width="10.62" height="9.55" fill="#72afd7"/>
<rect x="317.68" y="428.25" width="10.62" height="9.55" fill="#5c9bc8"/>
<rect x="328.30" y="428.25" width="10.62" height="9.55" fill="#4684b6"/>
<rect x="338.92" y="428.25" width="10.62" height="9.55" fill="#3c79ad"/>
<rect x="349.54" y="428.25" width="10.62" height="9.55" fill="#3370a2"/>
<rect x="360.16" y="380.50" width="10.62" height="9.55" fill="#3370a2"/>
<rect x="370.78" y="380.50" width="10.62" height="9.55" fill="#205c8e"/>
<rect x="381.40" y="380.50" width="10.62" height="9.55" fill="#205c8e"/>
<rect x="392.02" y="380.50" width="10.62" height="9.55" fill="#1e5a8c"/>
<rect x="402.65" y="380.50" width="10.62" height="9.55" fill="#1e5a8c"/>
<rect x="413.27" y="380.50" width="10.62" height="9.55" fill="#1e5a8c"/>
<rect x="360.16" y="390.05" width="10.62" height="9.55" fill="#80bce1"/>
<rect x="370.78" y="390.05" width="10.62" height="9.55" fill="#3c79ad"/>
<rect x="381.40" y="390.05" width="10.62" height="9.55" fill="#256193"/>
<rect x="392.02" y="390.05" width="10.62" height="9.55" fill="#205c8e"/>
<rect x="402.65" y="390.05" width="10.62" height="9.55" fill="#205c8e"/>
<rect x="413.27" y="390.05" width="10.62" height="9.55" fill="#1e5a8c"/>
<rect x="360.16" y="399.60" width="10.62" height="9.55" fill="#96caea"/>
<rect x="370.78" y="399.60" width="10.62" height="9.55" fill="#518fbf"/>
<rect x="381.40" y="399.60" width="10.62" height="9.55" fill="#3c79ad"/>
<rect x="392.02" y="399.60" width="10.62" height="9.55" fill="#2e6b9d"/>
<rect x="402.65" y="399.60" width="10.62" height="9.55" fill="#286496"/>
<rect x="413.27" y="399.60" width="10.62" height="9.55" fill="#235f91"/>
<rect x="360.16" y="409.15" width="10.62" height="9.55" fill="#96caea"/>
<rect x="370.78" y="409.15" width="10.62" height="9.55" fill="#63a2cd"/>
<rect x="381.40" y="409.15" width="10.62" height="9.55" fill="#518fbf"/>
<rect x="392.02" y="409.15" width="10.62" height="9.55" fill="#3774a8"/>
<rect x="402.65" y="409.15" width="10.62" height="9.55" fill="#2e6b9d"/>
<rect x="413.27" y="409.15" width="10.62" height="9.55" fill="#286496"/>
<rect x="360.16" y="418.70" width="10.62" height="9.55" fill="#96caea"/>
<rect x="370.78" y="418.70" width="10.62" height="9.55" fill="#6aa8d2"/>
<rect x="381.40" y="418.70" width="10.62" height="9.55" fill="#5695c4"/>
<rect x="392.02" y="418.70" width="10.62" height="9.55" fill="#4684b6"/>
<rect x="402.65" y="418.70" width="10.62" height="9.55" fill="#3774a8"/>
<rect x="413.27" y="418.70" width="10.62" height="9.55" fill="#2e6b9d"/>
<rect x="360.16" y="428.25" width="10.62" height="9.55" fill="#96caea"/>
<rect x="370.78" y="428.25" width="10.62" height="9.55" fill="#79b5dc"/>
<rect x="381.40" y="428.25" width="10.62" height="9.55" fill="#63a2cd"/>
<rect x="392.02" y="428.25" width="10.62" height="9.55" fill="#518fbf"/>
<rect x="402.65" y="428.25" width="10.62" height="9.55" fill="#4684b6"/>
<rect x="413.27" y="428.25" width="10.62" height="9.55" fill="#3c79ad"/>
<rect x="423.89" y="380.50" width="10.62" height="9.55" fill="#3774a8"/>
<rect x="434.51" y="380.50" width="10.62" height="9.55" fill="#205c8e"/>
<rect x="445.13" y="380.50" width="10.62" height="9.55" fill="#235f91"/>
<rect x="455.75" y="380.50" width="10.62" height="9.55" fill="#205c8e"/>
<rect x="466.37" y="380.50" width="10.62" height="9.55" fill="#205c8e"/>
<rect x="477.00" y="380.50" width="10.62" height="9.55" fill="#1e5a8c"/>
<rect x="423.89" y="390.05" width="10.62" height="9.55" fill="#72afd7"/>
<rect x="434.51" y="390.05" width="10.62" height="9.55" fill="#2e6b9d"/>
<rect x="445.13" y="390.05" width="10.62" height="9.55" fill="#2a6698"/>
<rect x="455.75" y="390.05" width="10.62" height="9.55" fill="#286496"/>
<rect x="466.37" y="390.05" width="10.62" height="9.55" fill="#205c8e"/>
<rect x="477.00" y="390.05" width="10.62" height="9.55" fill="#205c8e"/>
<rect x="423.89" y="399.60" width="10.62" height="9.55" fill="#8dc4e6"/>
<rect x="434.51" y="399.60" width="10.62" height="9.55" fill="#4b8abb"/>
<rect x="445.13" y="399.60" width="10.62" height="9.55" fill="#3370a2"/>
<rect x="455.75" y="399.60" width="10.62" height="9.55" fill="#286496"/>
<rect x="466.37" y="399.60" width="10.62" height="9.55" fill="#235f91"/>
<rect x="477.00" y="399.60" width="10.62" height="9.55" fill="#205c8e"/>
<rect x="423.89" y="409.15" width="10.62" height="9.55" fill="#8dc4e6"/>
<rect x="434.51" y="409.15" width="10.62" height="9.55" fill="#5c9bc8"/>
<rect x="445.13" y="409.15" width="10.62" height="9.55" fill="#407eb2"/>
<rect x="455.75" y="409.15" width="10.62" height="9.55" fill="#2e6b9d"/>
<rect x="466.37" y="409.15" width="10.62" height="9.55" fill="#256193"/>
<rect x="477.00" y="409.15" width="10.62" height="9.55" fill="#235f91"/>
<rect x="423.89" y="418.70" width="10.62" height="9.55" fill="#96caea"/>
<rect x="434.51" y="418.70" width="10.62" height="9.55" fill="#6aa8d2"/>
<rect x="445.13" y="418.70" width="10.62" height="9.55" fill="#4b8abb"/>
<rect x="455.75" y="418.70" width="10.62" height="9.55" fill="#3370a2"/>
<rect x="466.37" y="418.70" width="10.62" height="9.55" fill="#2a6698"/>
<rect x="477.00" y="418.70" width="10.62" height="9.55" fill="#256193"/>
<rect x="423.89" y="428.25" width="10.62" height="9.55" fill="#96caea"/>
<rect x="434.51" y="428.25" width="10.62" height="9.55" fill="#72afd7"/>
<rect x="445.13" y="428.25" width="10.62" height="9.55" fill="#5695c4"/>
<rect x="455.75" y="428.25" width="10.62" height="9.55" fill="#407eb2"/>
<rect x="466.37" y="428.25" width="10.62" height="9.55" fill="#3370a2"/>
<rect x="477.00" y="428.25" width="10.62" height="9.55" fill="#2a6698"/>
<rect x="487.62" y="380.50" width="10.62" height="9.55" fill="#3774a8"/>
<rect x="498.24" y="380.50" width="10.62" height="9.55" fill="#235f91"/>
<rect x="508.86" y="380.50" width="10.62" height="9.55" fill="#235f91"/>
<rect x="519.48" y="380.50" width="10.62" height="9.55" fill="#235f91"/>
<rect x="530.10" y="380.50" width="10.62" height="9.55" fill="#235f91"/>
<rect x="540.72" y="380.50" width="10.62" height="9.55" fill="#205c8e"/>
<rect x="487.62" y="390.05" width="10.62" height="9.55" fill="#6aa8d2"/>
<rect x="498.24" y="390.05" width="10.62" height="9.55" fill="#3774a8"/>
<rect x="508.86" y="390.05" width="10.62" height="9.55" fill="#286496"/>
<rect x="519.48" y="390.05" width="10.62" height="9.55" fill="#256193"/>
<rect x="530.10" y="390.05" width="10.62" height="9.55" fill="#235f91"/>
<rect x="540.72" y="390.05" width="10.62" height="9.55" fill="#235f91"/>
<rect x="487.62" y="399.60" width="10.62" height="9.55" fill="#84bfe3"/>
<rect x="498.24" y="399.60" width="10.62" height="9.55" fill="#518fbf"/>
<rect x="508.86" y="399.60" width="10.62" height="9.55" fill="#3c79ad"/>
<rect x="519.48" y="399.60" width="10.62" height="9.55" fill="#2e6b9d"/>
<rect x="530.10" y="399.60" width="10.62" height="9.55" fill="#286496"/>
<rect x="540.72" y="399.60" width="10.62" height="9.55" fill="#256193"/>
<rect x="487.62" y="409.15" width="10.62" height="9.55" fill="#8dc4e6"/>
<rect x="498.24" y="409.15" width="10.62" height="9.55" fill="#5c9bc8"/>
<rect x="508.86" y="409.15" width="10.62" height="9.55" fill="#4b8abb"/>
<rect x="519.48" y="409.15" width="10.62" height="9.55" fill="#3774a8"/>
<rect x="530.10" y="409.15" width="10.62" height="9.55" fill="#2e6b9d"/>
<rect x="540.72" y="409.15" width="10.62" height="9.55" fill="#286496"/>
<rect x="487.62" y="418.70" width="10.62" height="9.55" fill="#8dc4e6"/>
<rect x="498.24" y="418.70" width="10.62" height="9.55" fill="#63a2cd"/>
<rect x="508.86" y="418.70" width="10.62" height="9.55" fill="#518fbf"/>
<rect x="519.48" y="418.70" width="10.62" height="9.55" fill="#407eb2"/>
<rect x="530.10" y="418.70" width="10.62" height="9.55" fill="#3370a2"/>
<rect x="540.72" y="418.70" width="10.62" height="9.55" fill="#2a6698"/>
<rect x="487.62" y="428.25" width="10.62" height="9.55" fill="#96caea"/>
<rect x="498.24" y="428.25" width="10.62" height="9.55" fill="#6aa8d2"/>
<rect x="508.86" y="428.25" width="10.62" height="9.55" fill="#5c9bc8"/>
<rect x="519.48" y="428.25" width="10.62" height="9.55" fill="#4684b6"/>
<rect x="530.10" y="428.25" width="10.62" height="9.55" fill="#3c79ad"/>
<rect x="540.72" y="428.25" width="10.62" height="9.55" fill="#2e6b9d"/>
<rect x="551.34" y="380.50" width="10.62" height="9.55" fill="#3774a8"/>
<rect x="561.97" y="380.50" width="10.62" height="9.55" fill="#205c8e"/>
<rect x="572.59" y="380.50" width="10.62" height="9.55" fill="#205c8e"/>
<rect x="583.21" y="380.50" width="10.62" height="9.55" fill="#1e5a8c"/>
<rect x="593.83" y="380.50" width="10.62" height="9.55" fill="#1e5a8c"/>
<rect x="604.45" y="380.50" width="10.62" height="9.55" fill="#1e5a8c"/>
<rect x="551.34" y="390.05" width="10.62" height="9.55" fill="#72afd7"/>
<rect x="561.97" y="390.05" width="10.62" height="9.55" fill="#3c79ad"/>
<rect x="572.59" y="390.05" width="10.62" height="9.55" fill="#286496"/>
<rect x="583.21" y="390.05" width="10.62" height="9.55" fill="#235f91"/>
<rect x="593.83" y="390.05" width="10.62" height="9.55" fill="#205c8e"/>
<rect x="604.45" y="390.05" width="10.62" height="9.55" fill="#205c8e"/>
<rect x="551.34" y="399.60" width="10.62" height="9.55" fill="#84bfe3"/>
<rect x="561.97" y="399.60" width="10.62" height="9.55" fill="#518fbf"/>
<rect x="572.59" y="399.60" width="10.62" height="9.55" fill="#3774a8"/>
<rect x="583.21" y="399.60" width="10.62" height="9.55" fill="#2e6b9d"/>
<rect x="593.83" y="399.60" width="10.62" height="9.55" fill="#286496"/>
<rect x="604.45" y="399.60" width="10.62" height="9.55" fill="#235f91"/>
<rect x="551.34" y="409.15" width="10.62" height="9.55" fill="#8dc4e6"/>
<rect x="561.97" y="409.15" width="10.62" height="9.55" fill="#5c9bc8"/>
<rect x="572.59" y="409.15" width="10.62" height="9.55" fill="#4b8abb"/>
<rect x="583.21" y="409.15" width="10.62" height="9.55" fill="#3774a8"/>
<rect x="593.83" y="409.15" width="10.62" height="9.55" fill="#2a6698"/>
<rect x="604.45" y="409.15" width="10.62" height="9.55" fill="#256193"/>
<rect x="551.34" y="418.70" width="10.62" height="9.55" fill="#96caea"/>
<rect x="561.97" y="418.70" width="10.62" height="9.55" fill="#6aa8d2"/>
<rect x="572.59" y="418.70" width="10.62" height="9.55" fill="#518fbf"/>
<rect x="583.21" y="418.70" width="10.62" height="9.55" fill="#407eb2"/>
<rect x="593.83" y="418.70" width="10.62" height="9.55" fill="#3370a2"/>
<rect x="604.45" y="418.70" width="10.62" height="9.55" fill="#286496"/>
<rect x="551.34" y="428.25" width="10.62" height="9.55" fill="#96caea"/>
<rect x="561.97" y="428.25" width="10.62" height="9.55" fill="#72afd7"/>
<rect x="572.59" y="428.25" width="10.62" height="9.55" fill="#5c9bc8"/>
<rect x="583.21" y="428.25" width="10.62" height="9.55" fill="#4684b6"/>
<rect x="593.83" y="428.25" width="10.62" height="9.55" fill="#3c79ad"/>
<rect x="604.45" y="428.25" width="10.62" height="9.55" fill="#2e6b9d"/>
<rect x="615.07" y="380.50" width="10.62" height="9.55" fill="#3774a8"/>
<rect x="625.69" y="380.50" width="10.62" height="9.55" fill="#235f91"/>
<rect x="636.31" y="380.50" width="10.62" height="9.55" fill="#205c8e"/>
<rect x="646.94" y="380.50" width="10.62" height="9.55" fill="#205c8e"/>
<rect x="657.56" y="380.50" width="10.62" height="9.55" fill="#1e5a8c"/>
<rect x="668.18" y="380.50" width="10.62" height="9.55" fill="#1e5a8c"/>
<rect x="615.07" y="390.05" width="10.62" height="9.55" fill="#72afd7"/>
<rect x="625.69" y="390.05" width="10.62" height="9.55" fill="#3774a8"/>
<rect x="636.31" y="390.05" width="10.62" height="9.55" fill="#256193"/>
<rect x="646.94" y="390.05" width="10.62" height="9.55" fill="#235f91"/>
<rect x="657.56" y="390.05" width="10.62" height="9.55" fill="#205c8e"/>
<rect x="668.18" y="390.05" width="10.62" height="9.55" fill="#205c8e"/>
<rect x="615.07" y="399.60" width="10.62" height="9.55" fill="#84bfe3"/>
<rect x="625.69" y="399.60" width="10.62" height="9.55" fill="#4b8abb"/>
<rect x="636.31" y="399.60" width="10.62" height="9.55" fill="#3774a8"/>
<rect x="646.94" y="399.60" width="10.62" height="9.55" fill="#2a6698"/>
<rect x="657.56" y="399.60" width="10.62" height="9.55" fill="#256193"/>
<rect x="668.18" y="399.60" width="10.62" height="9.55" fill="#235f91"/>
<rect x="615.07" y="409.15" width="10.62" height="9.55" fill="#8dc4e6"/>
<rect x="625.69" y="409.15" width="10.62" height="9.55" fill="#5c9bc8"/>
<rect x="636.31" y="409.15" width="10.62" height="9.55" fill="#4684b6"/>
<rect x="646.94" y="409.15" width="10.62" height="9.55" fill="#3370a2"/>
<rect x="657.56" y="409.15" width="10.62" height="9.55" fill="#286496"/>
<rect x="668.18" y="409.15" width="10.62" height="9.55" fill="#256193"/>
<rect x="615.07" y="418.70" width="10.62" height="9.55" fill="#8dc4e6"/>
<rect x="625.69" y="418.70" width="10.62" height="9.55" fill="#63a2cd"/>
<rect x="636.31" y="418.70" width="10.62" height="9.55" fill="#518fbf"/>
<rect x="646.94" y="418.70" width="10.62" height="9.55" fill="#3c79ad"/>
<rect x="657.56" y="418.70" width="10.62" height="9.55" fill="#2e6b9d"/>
<rect x="668.18" y="418.70" width="10.62" height="9.55" fill="#286496"/>
<rect x="615.07" y="428.25" width="10.62" height="9.55" fill="#96caea"/>
<rect x="625.69" y="428.25" width="10.62" height="9.55" fill="#6aa8d2"/>
<rect x="636.31" y="428.25" width="10.62" height="9.55" fill="#5695c4"/>
<rect x="646.94" y="428.25" width="10.62" height="9.55" fill="#407eb2"/>
<rect x="657.56" y="428.25" width="10.62" height="9.55" fill="#3774a8"/>
<rect x="668.18" y="428.25" width="10.62" height="9.55" fill="#2e6b9d"/>
<rect x="105.25" y="437.80" width="10.62" height="9.55" fill="#d00033"/>
<rect x="115.87" y="437.80" width="10.62" height="9.55" fill="#d90032"/>
<rect x="126.49" y="437.80" width="10.62" height="9.55" fill="#ff4442"/>
<rect x="137.11" y="437.80" width="10.62" height="9.55" fill="#ff564b"/>
<rect x="147.74" y="437.80" width="10.62" height="9.55" fill="#ff8c79"/>
<rect x="158.36" y="437.80" width="10.62" height="9.55" fill="#faafa3"/>
<rect x="105.25" y="447.35" width="10.62" height="9.55" fill="#d00033"/>
<rect x="115.87" y="447.35" width="10.62" height="9.55" fill="#ff373c"/>
<rect x="126.49" y="447.35" width="10.62" height="9.55" fill="#d90032"/>
<rect x="137.11" y="447.35" width="10.62" height="9.55" fill="#ff8c79"/>
<rect x="147.74" y="447.35" width="10.62" height="9.55" fill="#eacdca"/>
<rect x="158.36" y="447.35" width="10.62" height="9.55" fill="#63a2cd"/>
<rect x="105.25" y="456.90" width="10.62" height="9.55" fill="#d00033"/>
<rect x="115.87" y="456.90" width="10.62" height="9.55" fill="#ff8c79"/>
<rect x="126.49" y="456.90" width="10.62" height="9.55" fill="#ff8c79"/>
<rect x="137.11" y="456.90" width="10.62" height="9.55" fill="#ff9482"/>
<rect x="147.74" y="456.90" width="10.62" height="9.55" fill="#96caea"/>
<rect x="158.36" y="456.90" width="10.62" height="9.55" fill="#eacdca"/>
<rect x="105.25" y="466.45" width="10.62" height="9.55" fill="#fc2a3a"/>
<rect x="115.87" y="466.45" width="10.62" height="9.55" fill="#ff373c"/>
<rect x="126.49" y="466.45" width="10.62" height="9.55" fill="#ff4e47"/>
<rect x="137.11" y="466.45" width="10.62" height="9.55" fill="#ff9482"/>
<rect x="147.74" y="466.45" width="10.62" height="9.55" fill="#84bfe3"/>
<rect x="158.36" y="466.45" width="10.62" height="9.55" fill="#89c2e5"/>
<rect x="105.25" y="476.00" width="10.62" height="9.55" fill="#d90032"/>
<rect x="115.87" y="476.00" width="10.62" height="9.55" fill="#ff6050"/>
<rect x="126.49" y="476.00" width="10.62" height="9.55" fill="#ff826e"/>
<rect x="137.11" y="476.00" width="10.62" height="9.55" fill="#ff9482"/>
<rect x="147.74" y="476.00" width="10.62" height="9.55" fill="#84bfe3"/>
<rect x="158.36" y="476.00" width="10.62" height="9.55" fill="#89c2e5"/>
<rect x="105.25" y="485.55" width="10.62" height="9.55" fill="#ff4442"/>
<rect x="115.87" y="485.55" width="10.62" height="9.55" fill="#ff9b8a"/>
<rect x="126.49" y="485.55" width="10.62" height="9.55" fill="#ff6958"/>
<rect x="137.11" y="485.55" width="10.62" height="9.55" fill="#ff9b8a"/>
<rect x="147.74" y="485.55" width="10.62" height="9.55" fill="#63a2cd"/>
<rect x="158.36" y="485.55" width="10.62" height="9.55" fill="#eacdca"/>
<rect x="168.98" y="437.80" width="10.62" height="9.55" fill="#fc2a3a"/>
<rect x="179.60" y="437.80" width="10.62" height="9.55" fill="#ff7a67"/>
<rect x="190.22" y="437.80" width="10.62" height="9.55" fill="#dedcde"/>
<rect x="200.84" y="437.80" width="10.62" height="9.55" fill="#80bce1"/>
<rect x="211.46" y="437.80" width="10.62" height="9.55" fill="#5695c4"/>
<rect x="222.08" y="437.80" width="10.62" height="9.55" fill="#5695c4"/>
<rect x="168.98" y="447.35" width="10.62" height="9.55" fill="#ff6958"/>
<rect x="179.60" y="447.35" width="10.62" height="9.55" fill="#ff9b8a"/>
<rect x="190.22" y="447.35" width="10.62" height="9.55" fill="#80bce1"/>
<rect x="200.84" y="447.35" width="10.62" height="9.55" fill="#5695c4"/>
<rect x="211.46" y="447.35" width="10.62" height="9.55" fill="#5695c4"/>
<rect x="222.08" y="447.35" width="10.62" height="9.55" fill="#4b8abb"/>
<rect x="168.98" y="456.90" width="10.62" height="9.55" fill="#ff6958"/>
<rect x="179.60" y="456.90" width="10.62" height="9.55" fill="#f6bab1"/>
<rect x="190.22" y="456.90" width="10.62" height="9.55" fill="#80bce1"/>
<rect x="200.84" y="456.90" width="10.62" height="9.55" fill="#63a2cd"/>
<rect x="211.46" y="456.90" width="10.62" height="9.55" fill="#5c9bc8"/>
<rect x="222.08" y="456.90" width="10.62" height="9.55" fill="#3774a8"/>
<rect x="168.98" y="466.45" width="10.62" height="9.55" fill="#ff826e"/>
<rect x="179.60" y="466.45" width="10.62" height="9.55" fill="#f5beb6"/>
<rect x="190.22" y="466.45" width="10.62" height="9.55" fill="#80bce1"/>
<rect x="200.84" y="466.45" width="10.62" height="9.55" fill="#63a2cd"/>
<rect x="211.46" y="466.45" width="10.62" height="9.55" fill="#5695c4"/>
<rect x="222.08" y="466.45" width="10.62" height="9.55" fill="#4b8abb"/>
<rect x="168.98" y="476.00" width="10.62" height="9.55" fill="#ff8c79"/>
<rect x="179.60" y="476.00" width="10.62" height="9.55" fill="#dedcde"/>
<rect x="190.22" y="476.00" width="10.62" height="9.55" fill="#80bce1"/>
<rect x="200.84" y="476.00" width="10.62" height="9.55" fill="#63a2cd"/>
<rect x="211.46" y="476.00" width="10.62" height="9.55" fill="#5c9bc8"/>
<rect x="222.08" y="476.00" width="10.62" height="9.55" fill="#4b8abb"/>
<rect x="168.98" y="485.55" width="10.62" height="9.55" fill="#ff8c79"/>
<rect x="179.60" y="485.55" width="10.62" height="9.55" fill="#dedcde"/>
<rect x="190.22" y="485.55" width="10.62" height="9.55" fill="#80bce1"/>
<rect x="200.84" y="485.55" width="10.62" height="9.55" fill="#5c9bc8"/>
<rect x="211.46" y="485.55" width="10.62" height="9.55" fill="#5695c4"/>
<rect x="222.08" y="485.55" width="10.62" height="9.55" fill="#518fbf"/>
<rect x="232.71" y="437.80" width="10.62" height="9.55" fill="#f51434"/>
<rect x="243.33" y="437.80" width="10.62" height="9.55" fill="#ff6958"/>
<rect x="253.95" y="437.80" width="10.62" height="9.55" fill="#ff6f5d"/>
<rect x="264.57" y="437.80" width="10.62" height="9.55" fill="#ff9b8a"/>
<rect x="275.19" y="437.80" width="10.62" height="9.55" fill="#f6bab1"/>
<rect x="285.81" y="437.80" width="10.62" height="9.55" fill="#aad0e9"/>
<rect x="232.71" y="447.35" width="10.62" height="9.55" fill="#fa1e37"/>
<rect x="243.33" y="447.35" width="10.62" height="9.55" fill="#ff6958"/>
<rect x="253.95" y="447.35" width="10.62" height="9.55" fill="#ff9482"/>
<rect x="264.57" y="447.35" width="10.62" height="9.55" fill="#fea495"/>
<rect x="275.19" y="447.35" width="10.62" height="9.55" fill="#80bce1"/>
<rect x="285.81" y="447.35" width="10.62" height="9.55" fill="#79b5dc"/>
<rect x="232.71" y="456.90" width="10.62" height="9.55" fill="#ff373c"/>
<rect x="243.33" y="456.90" width="10.62" height="9.55" fill="#ff7a67"/>
<rect x="253.95" y="456.90" width="10.62" height="9.55" fill="#ff9482"/>
<rect x="264.57" y="456.90" width="10.62" height="9.55" fill="#f6bab1"/>
<rect x="275.19" y="456.90" width="10.62" height="9.55" fill="#80bce1"/>
<rect x="285.81" y="456.90" width="10.62" height="9.55" fill="#63a2cd"/>
<rect x="232.71" y="466.45" width="10.62" height="9.55" fill="#ff4442"/>
<rect x="243.33" y="466.45" width="10.62" height="9.55" fill="#ff826e"/>
<rect x="253.95" y="466.45" width="10.62" height="9.55" fill="#f9b3a8"/>
<rect x="264.57" y="466.45" width="10.62" height="9.55" fill="#b7d3e7"/>
<rect x="275.19" y="466.45" width="10.62" height="9.55" fill="#7cb9de"/>
<rect x="285.81" y="466.45" width="10.62" height="9.55" fill="#72afd7"/>
<rect x="232.71" y="476.00" width="10.62" height="9.55" fill="#ff564b"/>
<rect x="243.33" y="476.00" width="10.62" height="9.55" fill="#ff826e"/>
<rect x="253.95" y="476.00" width="10.62" height="9.55" fill="#ff9b8a"/>
<rect x="264.57" y="476.00" width="10.62" height="9.55" fill="#b7d3e7"/>
<rect x="275.19" y="476.00" width="10.62" height="9.55" fill="#80bce1"/>
<rect x="285.81" y="476.00" width="10.62" height="9.55" fill="#72afd7"/>
<rect x="232.71" y="485.55" width="10.62" height="9.55" fill="#ff6050"/>
<rect x="243.33" y="485.55" width="10.62" height="9.55" fill="#faafa3"/>
<rect x="253.95" y="485.55" width="10.62" height="9.55" fill="#f6bab1"/>
<rect x="264.57" y="485.55" width="10.62" height="9.55" fill="#80bce1"/>
<rect x="275.19" y="485.55" width="10.62" height="9.55" fill="#79b5dc"/>
<rect x="285.81" y="485.55" width="10.62" height="9.55" fill="#72afd7"/>
<rect x="296.43" y="437.80" width="10.62" height="9.55" fill="#fb2438"/>
<rect x="307.05" y="437.80" width="10.62" height="9.55" fill="#faafa3"/>
<rect x="317.68" y="437.80" width="10.62" height="9.55" fill="#5998c6"/>
<rect x="328.30" y="437.80" width="10.62" height="9.55" fill="#5c9bc8"/>
<rect x="338.92" y="437.80" width="10.62" height="9.55" fill="#407eb2"/>
<rect x="349.54" y="437.80" width="10.62" height="9.55" fill="#4684b6"/>
<rect x="296.43" y="447.35" width="10.62" height="9.55" fill="#ff4141"/>
<rect x="307.05" y="447.35" width="10.62" height="9.55" fill="#eec7c2"/>
<rect x="317.68" y="447.35" width="10.62" height="9.55" fill="#63a2cd"/>
<rect x="328.30" y="447.35" width="10.62" height="9.55" fill="#518fbf"/>
<rect x="338.92" y="447.35" width="10.62" height="9.55" fill="#4684b6"/>
<rect x="349.54" y="447.35" width="10.62" height="9.55" fill="#407eb2"/>
<rect x="296.43" y="456.90" width="10.62" height="9.55" fill="#ff7563"/>
<rect x="307.05" y="456.90" width="10.62" height="9.55" fill="#89c2e5"/>
<rect x="317.68" y="456.90" width="10.62" height="9.55" fill="#72afd7"/>
<rect x="328.30" y="456.90" width="10.62" height="9.55" fill="#5492c1"/>
<rect x="338.92" y="456.90" width="10.62" height="9.55" fill="#4b8abb"/>
<rect x="349.54" y="456.90" width="10.62" height="9.55" fill="#407eb2"/>
<rect x="296.43" y="466.45" width="10.62" height="9.55" fill="#ff826e"/>
<rect x="307.05" y="466.45" width="10.62" height="9.55" fill="#96caea"/>
<rect x="317.68" y="466.45" width="10.62" height="9.55" fill="#72afd7"/>
<rect x="328.30" y="466.45" width="10.62" height="9.55" fill="#5c9bc8"/>
<rect x="338.92" y="466.45" width="10.62" height="9.55" fill="#407eb2"/>
<rect x="349.54" y="466.45" width="10.62" height="9.55" fill="#4684b6"/>
<rect x="296.43" y="476.00" width="10.62" height="9.55" fill="#ff826e"/>
<rect x="307.05" y="476.00" width="10.62" height="9.55" fill="#96caea"/>
<rect x="317.68" y="476.00" width="10.62" height="9.55" fill="#79b5dc"/>
<rect x="328.30" y="476.00" width="10.62" height="9.55" fill="#4b8abb"/>
<rect x="338.92" y="476.00" width="10.62" height="9.55" fill="#4684b6"/>
<rect x="349.54" y="476.00" width="10.62" height="9.55" fill="#407eb2"/>
<rect x="296.43" y="485.55" width="10.62" height="9.55" fill="#ff826e"/>
<rect x="307.05" y="485.55" width="10.62" height="9.55" fill="#a0cdea"/>
<rect x="317.68" y="485.55" width="10.62" height="9.55" fill="#6aa8d2"/>
<rect x="328.30" y="485.55" width="10.62" height="9.55" fill="#5695c4"/>
<rect x="338.92" y="485.55" width="10.62" height="9.55" fill="#4684b6"/>
<rect x="349.54" y="485.55" width="10.62" height="9.55" fill="#407eb2"/>
<rect x="360.16" y="437.80" width="10.62" height="9.55" fill="#5c9bc8"/>
<rect x="370.78" y="437.80" width="10.62" height="9.55" fill="#286496"/>
<rect x="381.40" y="437.80" width="10.62" height="9.55" fill="#235f91"/>
<rect x="392.02" y="437.80" width="10.62" height="9.55" fill="#205c8e"/>
<rect x="402.65" y="437.80" width="10.62" height="9.55" fill="#205c8e"/>
<rect x="413.27" y="437.80" width="10.62" height="9.55" fill="#205c8e"/>
<rect x="360.16" y="447.35" width="10.62" height="9.55" fill="#80bce1"/>
<rect x="370.78" y="447.35" width="10.62" height="9.55" fill="#3774a8"/>
<rect x="381.40" y="447.35" width="10.62" height="9.55" fill="#286496"/>
<rect x="392.02" y="447.35" width="10.62" height="9.55" fill="#256193"/>
<rect x="402.65" y="447.35" width="10.62" height="9.55" fill="#235f91"/>
<rect x="413.27" y="447.35" width="10.62" height="9.55" fill="#205c8e"/>
<rect x="360.16" y="456.90" width="10.62" height="9.55" fill="#80bce1"/>
<rect x="370.78" y="456.90" width="10.62" height="9.55" fill="#4684b6"/>
<rect x="381.40" y="456.90" width="10.62" height="9.55" fill="#3774a8"/>
<rect x="392.02" y="456.90" width="10.62" height="9.55" fill="#2e6b9d"/>
<rect x="402.65" y="456.90" width="10.62" height="9.55" fill="#256193"/>
<rect x="413.27" y="456.90" width="10.62" height="9.55" fill="#235f91"/>
<rect x="360.16" y="466.45" width="10.62" height="9.55" fill="#a0cdea"/>
<rect x="370.78" y="466.45" width="10.62" height="9.55" fill="#5c9bc8"/>
<rect x="381.40" y="466.45" width="10.62" height="9.55" fill="#4684b6"/>
<rect x="392.02" y="466.45" width="10.62" height="9.55" fill="#3774a8"/>
<rect x="402.65" y="466.45" width="10.62" height="9.55" fill="#2a6698"/>
<rect x="413.27" y="466.45" width="10.62" height="9.55" fill="#256193"/>
<rect x="360.16" y="476.00" width="10.62" height="9.55" fill="#a0cdea"/>
<rect x="370.78" y="476.00" width="10.62" height="9.55" fill="#63a2cd"/>
<rect x="381.40" y="476.00" width="10.62" height="9.55" fill="#518fbf"/>
<rect x="392.02" y="476.00" width="10.62" height="9.55" fill="#407eb2"/>
<rect x="402.65" y="476.00" width="10.62" height="9.55" fill="#3370a2"/>
<rect x="413.27" y="476.00" width="10.62" height="9.55" fill="#2a6698"/>
<rect x="360.16" y="485.55" width="10.62" height="9.55" fill="#92c7e8"/>
<rect x="370.78" y="485.55" width="10.62" height="9.55" fill="#6aa8d2"/>
<rect x="381.40" y="485.55" width="10.62" height="9.55" fill="#5695c4"/>
<rect x="392.02" y="485.55" width="10.62" height="9.55" fill="#4b8abb"/>
<rect x="402.65" y="485.55" width="10.62" height="9.55" fill="#3c79ad"/>
<rect x="413.27" y="485.55" width="10.62" height="9.55" fill="#2e6b9d"/>
<rect x="423.89" y="437.80" width="10.62" height="9.55" fill="#ff6050"/>
<rect x="434.51" y="437.80" width="10.62" height="9.55" fill="#7cb9de"/>
<rect x="445.13" y="437.80" width="10.62" height="9.55" fill="#407eb2"/>
<rect x="455.75" y="437.80" width="10.62" height="9.55" fill="#205c8e"/>
<rect x="466.37" y="437.80" width="10.62" height="9.55" fill="#286496"/>
<rect x="477.00" y="437.80" width="10.62" height="9.55" fill="#2a6698"/>
<rect x="423.89" y="447.35" width="10.62" height="9.55" fill="#dedcde"/>
<rect x="434.51" y="447.35" width="10.62" height="9.55" fill="#72afd7"/>
<rect x="445.13" y="447.35" width="10.62" height="9.55" fill="#3572a5"/>
<rect x="455.75" y="447.35" width="10.62" height="9.55" fill="#286496"/>
<rect x="466.37" y="447.35" width="10.62" height="9.55" fill="#256193"/>
<rect x="477.00" y="447.35" width="10.62" height="9.55" fill="#235f91"/>
<rect x="423.89" y="456.90" width="10.62" height="9.55" fill="#fea495"/>
<rect x="434.51" y="456.90" width="10.62" height="9.55" fill="#6aa8d2"/>
<rect x="445.13" y="456.90" width="10.62" height="9.55" fill="#609eca"/>
<rect x="455.75" y="456.90" width="10.62" height="9.55" fill="#3774a8"/>
<rect x="466.37" y="456.90" width="10.62" height="9.55" fill="#256193"/>
<rect x="477.00" y="456.90" width="10.62" height="9.55" fill="#235f91"/>
<rect x="423.89" y="466.45" width="10.62" height="9.55" fill="#fea495"/>
<rect x="434.51" y="466.45" width="10.62" height="9.55" fill="#79b5dc"/>
<rect x="445.13" y="466.45" width="10.62" height="9.55" fill="#67a5d0"/>
<rect x="455.75" y="466.45" width="10.62" height="9.55" fill="#4b8abb"/>
<rect x="466.37" y="466.45" width="10.62" height="9.55" fill="#2e6b9d"/>
<rect x="477.00" y="466.45" width="10.62" height="9.55" fill="#286496"/>
<rect x="423.89" y="476.00" width="10.62" height="9.55" fill="#f5beb6"/>
<rect x="434.51" y="476.00" width="10.62" height="9.55" fill="#80bce1"/>
<rect x="445.13" y="476.00" width="10.62" height="9.55" fill="#67a5d0"/>
<rect x="455.75" y="476.00" width="10.62" height="9.55" fill="#4b8abb"/>
<rect x="466.37" y="476.00" width="10.62" height="9.55" fill="#3c79ad"/>
<rect x="477.00" y="476.00" width="10.62" height="9.55" fill="#2e6b9d"/>
<rect x="423.89" y="485.55" width="10.62" height="9.55" fill="#f5beb6"/>
<rect x="434.51" y="485.55" width="10.62" height="9.55" fill="#89c2e5"/>
<rect x="445.13" y="485.55" width="10.62" height="9.55" fill="#67a5d0"/>
<rect x="455.75" y="485.55" width="10.62" height="9.55" fill="#5695c4"/>
<rect x="466.37" y="485.55" width="10.62" height="9.55" fill="#407eb2"/>
<rect x="477.00" y="485.55" width="10.62" height="9.55" fill="#3774a8"/>
<rect x="487.62" y="437.80" width="10.62" height="9.55" fill="#d00033"/>
<rect x="498.24" y="437.80" width="10.62" height="9.55" fill="#d90032"/>
<rect x="508.86" y="437.80" width="10.62" height="9.55" fill="#de0030"/>
<rect x="519.48" y="437.80" width="10.62" height="9.55" fill="#fa1e37"/>
<rect x="530.10" y="437.80" width="10.62" height="9.55" fill="#fc2a3a"/>
<rect x="540.72" y="437.80" width="10.62" height="9.55" fill="#fc2a3a"/>
<rect x="487.62" y="447.35" width="10.62" height="9.55" fill="#d90032"/>
<rect x="498.24" y="447.35" width="10.62" height="9.55" fill="#e4002f"/>
<rect x="508.86" y="447.35" width="10.62" height="9.55" fill="#e4002f"/>
<rect x="519.48" y="447.35" width="10.62" height="9.55" fill="#fa1e37"/>
<rect x="530.10" y="447.35" width="10.62" height="9.55" fill="#ff373c"/>
<rect x="540.72" y="447.35" width="10.62" height="9.55" fill="#ff4e47"/>
<rect x="487.62" y="456.90" width="10.62" height="9.55" fill="#de0030"/>
<rect x="498.24" y="456.90" width="10.62" height="9.55" fill="#e4002f"/>
<rect x="508.86" y="456.90" width="10.62" height="9.55" fill="#f20f32"/>
<rect x="519.48" y="456.90" width="10.62" height="9.55" fill="#fa1e37"/>
<rect x="530.10" y="456.90" width="10.62" height="9.55" fill="#ff4442"/>
<rect x="540.72" y="456.90" width="10.62" height="9.55" fill="#ff4e47"/>
<rect x="487.62" y="466.45" width="10.62" height="9.55" fill="#de0030"/>
<rect x="498.24" y="466.45" width="10.62" height="9.55" fill="#e4002f"/>
<rect x="508.86" y="466.45" width="10.62" height="9.55" fill="#fa1e37"/>
<rect x="519.48" y="466.45" width="10.62" height="9.55" fill="#fc2a3a"/>
<rect x="530.10" y="466.45" width="10.62" height="9.55" fill="#ff4442"/>
<rect x="540.72" y="466.45" width="10.62" height="9.55" fill="#ff4e47"/>
<rect x="487.62" y="476.00" width="10.62" height="9.55" fill="#de0030"/>
<rect x="498.24" y="476.00" width="10.62" height="9.55" fill="#f20f32"/>
<rect x="508.86" y="476.00" width="10.62" height="9.55" fill="#fc2a3a"/>
<rect x="519.48" y="476.00" width="10.62" height="9.55" fill="#fc2a3a"/>
<rect x="530.10" y="476.00" width="10.62" height="9.55" fill="#ff373c"/>
<rect x="540.72" y="476.00" width="10.62" height="9.55" fill="#ff564b"/>
<rect x="487.62" y="485.55" width="10.62" height="9.55" fill="#e4002f"/>
<rect x="498.24" y="485.55" width="10.62" height="9.55" fill="#f20f32"/>
<rect x="508.86" y="485.55" width="10.62" height="9.55" fill="#fc2a3a"/>
<rect x="519.48" y="485.55" width="10.62" height="9.55" fill="#fc2a3a"/>
<rect x="530.10" y="485.55" width="10.62" height="9.55" fill="#ff4442"/>
<rect x="540.72" y="485.55" width="10.62" height="9.55" fill="#ff6050"/>
<rect x="551.34" y="437.80" width="10.62" height="9.55" fill="#72afd7"/>
<rect x="561.97" y="437.80" width="10.62" height="9.55" fill="#2a6698"/>
<rect x="572.59" y="437.80" width="10.62" height="9.55" fill="#256193"/>
<rect x="583.21" y="437.80" width="10.62" height="9.55" fill="#235f91"/>
<rect x="593.83" y="437.80" width="10.62" height="9.55" fill="#235f91"/>
<rect x="604.45" y="437.80" width="10.62" height="9.55" fill="#205c8e"/>
<rect x="551.34" y="447.35" width="10.62" height="9.55" fill="#79b5dc"/>
<rect x="561.97" y="447.35" width="10.62" height="9.55" fill="#407eb2"/>
<rect x="572.59" y="447.35" width="10.62" height="9.55" fill="#2a6698"/>
<rect x="583.21" y="447.35" width="10.62" height="9.55" fill="#256193"/>
<rect x="593.83" y="447.35" width="10.62" height="9.55" fill="#235f91"/>
<rect x="604.45" y="447.35" width="10.62" height="9.55" fill="#205c8e"/>
<rect x="551.34" y="456.90" width="10.62" height="9.55" fill="#89c2e5"/>
<rect x="561.97" y="456.90" width="10.62" height="9.55" fill="#4b8abb"/>
<rect x="572.59" y="456.90" width="10.62" height="9.55" fill="#3c79ad"/>
<rect x="583.21" y="456.90" width="10.62" height="9.55" fill="#2e6b9d"/>
<rect x="593.83" y="456.90" width="10.62" height="9.55" fill="#286496"/>
<rect x="604.45" y="456.90" width="10.62" height="9.55" fill="#235f91"/>
<rect x="551.34" y="466.45" width="10.62" height="9.55" fill="#92c7e8"/>
<rect x="561.97" y="466.45" width="10.62" height="9.55" fill="#5695c4"/>
<rect x="572.59" y="466.45" width="10.62" height="9.55" fill="#4684b6"/>
<rect x="583.21" y="466.45" width="10.62" height="9.55" fill="#3774a8"/>
<rect x="593.83" y="466.45" width="10.62" height="9.55" fill="#2a6698"/>
<rect x="604.45" y="466.45" width="10.62" height="9.55" fill="#256193"/>
<rect x="551.34" y="476.00" width="10.62" height="9.55" fill="#b7d3e7"/>
<rect x="561.97" y="476.00" width="10.62" height="9.55" fill="#5c9bc8"/>
<rect x="572.59" y="476.00" width="10.62" height="9.55" fill="#4b8abb"/>
<rect x="583.21" y="476.00" width="10.62" height="9.55" fill="#407eb2"/>
<rect x="593.83" y="476.00" width="10.62" height="9.55" fill="#3370a2"/>
<rect x="604.45" y="476.00" width="10.62" height="9.55" fill="#286496"/>
<rect x="551.34" y="485.55" width="10.62" height="9.55" fill="#92c7e8"/>
<rect x="561.97" y="485.55" width="10.62" height="9.55" fill="#63a2cd"/>
<rect x="572.59" y="485.55" width="10.62" height="9.55" fill="#5695c4"/>
<rect x="583.21" y="485.55" width="10.62" height="9.55" fill="#4b8abb"/>
<rect x="593.83" y="485.55" width="10.62" height="9.55" fill="#3c79ad"/>
<rect x="604.45" y="485.55" width="10.62" height="9.55" fill="#2e6b9d"/>
<rect x="615.07" y="437.80" width="10.62" height="9.55" fill="#de0030"/>
<rect x="625.69" y="437.80" width="10.62" height="9.55" fill="#ff7a67"/>
<rect x="636.31" y="437.80" width="10.62" height="9.55" fill="#fea495"/>
<rect x="646.94" y="437.80" width="10.62" height="9.55" fill="#63a2cd"/>
<rect x="657.56" y="437.80" width="10.62" height="9.55" fill="#6aa8d2"/>
<rect x="668.18" y="437.80" width="10.62" height="9.55" fill="#4b8abb"/>
<rect x="615.07" y="447.35" width="10.62" height="9.55" fill="#ff373c"/>
<rect x="625.69" y="447.35" width="10.62" height="9.55" fill="#ff7a67"/>
<rect x="636.31" y="447.35" width="10.62" height="9.55" fill="#efc6c0"/>
<rect x="646.94" y="447.35" width="10.62" height="9.55" fill="#63a2cd"/>
<rect x="657.56" y="447.35" width="10.62" height="9.55" fill="#407eb2"/>
<rect x="668.18" y="447.35" width="10.62" height="9.55" fill="#407eb2"/>
<rect x="615.07" y="456.90" width="10.62" height="9.55" fill="#ff564b"/>
<rect x="625.69" y="456.90" width="10.62" height="9.55" fill="#ff9b8a"/>
<rect x="636.31" y="456.90" width="10.62" height="9.55" fill="#80bce1"/>
<rect x="646.94" y="456.90" width="10.62" height="9.55" fill="#5c9bc8"/>
<rect x="657.56" y="456.90" width="10.62" height="9.55" fill="#4b8abb"/>
<rect x="668.18" y="456.90" width="10.62" height="9.55" fill="#407eb2"/>
<rect x="615.07" y="466.45" width="10.62" height="9.55" fill="#ff564b"/>
<rect x="625.69" y="466.45" width="10.62" height="9.55" fill="#ff9b8a"/>
<rect x="636.31" y="466.45" width="10.62" height="9.55" fill="#80bce1"/>
<rect x="646.94" y="466.45" width="10.62" height="9.55" fill="#63a2cd"/>
<rect x="657.56" y="466.45" width="10.62" height="9.55" fill="#4b8abb"/>
<rect x="668.18" y="466.45" width="10.62" height="9.55" fill="#407eb2"/>
<rect x="615.07" y="476.00" width="10.62" height="9.55" fill="#ff6f5d"/>
<rect x="625.69" y="476.00" width="10.62" height="9.55" fill="#ff9b8a"/>
<rect x="636.31" y="476.00" width="10.62" height="9.55" fill="#80bce1"/>
<rect x="646.94" y="476.00" width="10.62" height="9.55" fill="#6aa8d2"/>
<rect x="657.56" y="476.00" width="10.62" height="9.55" fill="#518fbf"/>
<rect x="668.18" y="476.00" width="10.62" height="9.55" fill="#4684b6"/>
<rect x="615.07" y="485.55" width="10.62" height="9.55" fill="#ff826e"/>
<rect x="625.69" y="485.55" width="10.62" height="9.55" fill="#ff9b8a"/>
<rect x="636.31" y="485.55" width="10.62" height="9.55" fill="#79b5dc"/>
<rect x="646.94" y="485.55" width="10.62" height="9.55" fill="#6aa8d2"/>
<rect x="657.56" y="485.55" width="10.62" height="9.55" fill="#5695c4"/>
<rect x="668.18" y="485.55" width="10.62" height="9.55" fill="#4b8abb"/>
<rect x="105.25" y="495.10" width="10.62" height="9.55" fill="#ca0033"/>
<rect x="115.87" y="495.10" width="10.62" height="9.55" fill="#d00033"/>
<rect x="126.49" y="495.10" width="10.62" height="9.55" fill="#d00033"/>
<rect x="137.11" y="495.10" width="10.62" height="9.55" fill="#de0030"/>
<rect x="147.74" y="495.10" width="10.62" height="9.55" fill="#ff4442"/>
<rect x="158.36" y="495.10" width="10.62" height="9.55" fill="#ff6050"/>
<rect x="105.25" y="504.65" width="10.62" height="9.55" fill="#d00033"/>
<rect x="115.87" y="504.65" width="10.62" height="9.55" fill="#d90032"/>
<rect x="126.49" y="504.65" width="10.62" height="9.55" fill="#ca0033"/>
<rect x="137.11" y="504.65" width="10.62" height="9.55" fill="#ff4442"/>
<rect x="147.74" y="504.65" width="10.62" height="9.55" fill="#ff7a67"/>
<rect x="158.36" y="504.65" width="10.62" height="9.55" fill="#ff9482"/>
<rect x="105.25" y="514.20" width="10.62" height="9.55" fill="#d00033"/>
<rect x="115.87" y="514.20" width="10.62" height="9.55" fill="#ff4442"/>
<rect x="126.49" y="514.20" width="10.62" height="9.55" fill="#ff4442"/>
<rect x="137.11" y="514.20" width="10.62" height="9.55" fill="#ff564b"/>
<rect x="147.74" y="514.20" width="10.62" height="9.55" fill="#ff7a67"/>
<rect x="158.36" y="514.20" width="10.62" height="9.55" fill="#ff826e"/>
<rect x="105.25" y="523.75" width="10.62" height="9.55" fill="#de0030"/>
<rect x="115.87" y="523.75" width="10.62" height="9.55" fill="#de0030"/>
<rect x="126.49" y="523.75" width="10.62" height="9.55" fill="#d90032"/>
<rect x="137.11" y="523.75" width="10.62" height="9.55" fill="#ff564b"/>
<rect x="147.74" y="523.75" width="10.62" height="9.55" fill="#ff8c79"/>
<rect x="158.36" y="523.75" width="10.62" height="9.55" fill="#ff8c79"/>
<rect x="105.25" y="533.30" width="10.62" height="9.55" fill="#de0030"/>
<rect x="115.87" y="533.30" width="10.62" height="9.55" fill="#fa1e37"/>
<rect x="126.49" y="533.30" width="10.62" height="9.55" fill="#ff4442"/>
<rect x="137.11" y="533.30" width="10.62" height="9.55" fill="#ff6050"/>
<rect x="147.74" y="533.30" width="10.62" height="9.55" fill="#ff9b8a"/>
<rect x="158.36" y="533.30" width="10.62" height="9.55" fill="#ff8c79"/>
<rect x="105.25" y="542.85" width="10.62" height="9.55" fill="#fa1e37"/>
<rect x="115.87" y="542.85" width="10.62" height="9.55" fill="#ff6958"/>
<rect x="126.49" y="542.85" width="10.62" height="9.55" fill="#fa1e37"/>
<rect x="137.11" y="542.85" width="10.62" height="9.55" fill="#ff6958"/>
<rect x="147.74" y="542.85" width="10.62" height="9.55" fill="#dedcde"/>
<rect x="158.36" y="542.85" width="10.62" height="9.55" fill="#ff6958"/>
<rect x="168.98" y="495.10" width="10.62" height="9.55" fill="#d90032"/>
<rect x="179.60" y="495.10" width="10.62" height="9.55" fill="#ff373c"/>
<rect x="190.22" y="495.10" width="10.62" height="9.55" fill="#ff6f5d"/>
<rect x="200.84" y="495.10" width="10.62" height="9.55" fill="#ff9b8a"/>
<rect x="211.46" y="495.10" width="10.62" height="9.55" fill="#80bce1"/>
<rect x="222.08" y="495.10" width="10.62" height="9.55" fill="#aad0e9"/>
<rect x="168.98" y="504.65" width="10.62" height="9.55" fill="#f51434"/>
<rect x="179.60" y="504.65" width="10.62" height="9.55" fill="#ff564b"/>
<rect x="190.22" y="504.65" width="10.62" height="9.55" fill="#ff826e"/>
<rect x="200.84" y="504.65" width="10.62" height="9.55" fill="#efc6c0"/>
<rect x="211.46" y="504.65" width="10.62" height="9.55" fill="#80bce1"/>
<rect x="222.08" y="504.65" width="10.62" height="9.55" fill="#72afd7"/>
<rect x="168.98" y="514.20" width="10.62" height="9.55" fill="#fa1e37"/>
<rect x="179.60" y="514.20" width="10.62" height="9.55" fill="#ff7a67"/>
<rect x="190.22" y="514.20" width="10.62" height="9.55" fill="#f6bab1"/>
<rect x="200.84" y="514.20" width="10.62" height="9.55" fill="#80bce1"/>
<rect x="211.46" y="514.20" width="10.62" height="9.55" fill="#72afd7"/>
<rect x="222.08" y="514.20" width="10.62" height="9.55" fill="#5492c1"/>
<rect x="168.98" y="523.75" width="10.62" height="9.55" fill="#ff4442"/>
<rect x="179.60" y="523.75" width="10.62" height="9.55" fill="#ff826e"/>
<rect x="190.22" y="523.75" width="10.62" height="9.55" fill="#f6bab1"/>
<rect x="200.84" y="523.75" width="10.62" height="9.55" fill="#80bce1"/>
<rect x="211.46" y="523.75" width="10.62" height="9.55" fill="#89c2e5"/>
<rect x="222.08" y="523.75" width="10.62" height="9.55" fill="#79b5dc"/>
<rect x="168.98" y="533.30" width="10.62" height="9.55" fill="#ff6958"/>
<rect x="179.60" y="533.30" width="10.62" height="9.55" fill="#ff9482"/>
<rect x="190.22" y="533.30" width="10.62" height="9.55" fill="#f6bab1"/>
<rect x="200.84" y="533.30" width="10.62" height="9.55" fill="#89c2e5"/>
<rect x="211.46" y="533.30" width="10.62" height="9.55" fill="#80bce1"/>
<rect x="222.08" y="533.30" width="10.62" height="9.55" fill="#79b5dc"/>
<rect x="168.98" y="542.85" width="10.62" height="9.55" fill="#ff7a67"/>
<rect x="179.60" y="542.85" width="10.62" height="9.55" fill="#faafa3"/>
<rect x="190.22" y="542.85" width="10.62" height="9.55" fill="#eacdca"/>
<rect x="200.84" y="542.85" width="10.62" height="9.55" fill="#79b5dc"/>
<rect x="211.46" y="542.85" width="10.62" height="9.55" fill="#72afd7"/>
<rect x="222.08" y="542.85" width="10.62" height="9.55" fill="#72afd7"/>
<rect x="232.71" y="495.10" width="10.62" height="9.55" fill="#d90032"/>
<rect x="243.33" y="495.10" width="10.62" height="9.55" fill="#f51434"/>
<rect x="253.95" y="495.10" width="10.62" height="9.55" fill="#ff4442"/>
<rect x="264.57" y="495.10" width="10.62" height="9.55" fill="#ff6f5d"/>
<rect x="275.19" y="495.10" width="10.62" height="9.55" fill="#ff826e"/>
<rect x="285.81" y="495.10" width="10.62" height="9.55" fill="#ff8c79"/>
<rect x="232.71" y="504.65" width="10.62" height="9.55" fill="#de0030"/>
<rect x="243.33" y="504.65" width="10.62" height="9.55" fill="#fa1e37"/>
<rect x="253.95" y="504.65" width="10.62" height="9.55" fill="#ff6050"/>
<rect x="264.57" y="504.65" width="10.62" height="9.55" fill="#ff6958"/>
<rect x="275.19" y="504.65" width="10.62" height="9.55" fill="#fea495"/>
<rect x="285.81" y="504.65" width="10.62" height="9.55" fill="#faafa3"/>
<rect x="232.71" y="514.20" width="10.62" height="9.55" fill="#de0030"/>
<rect x="243.33" y="514.20" width="10.62" height="9.55" fill="#fc2a3a"/>
<rect x="253.95" y="514.20" width="10.62" height="9.55" fill="#ff6958"/>
<rect x="264.57" y="514.20" width="10.62" height="9.55" fill="#ff8c79"/>
<rect x="275.19" y="514.20" width="10.62" height="9.55" fill="#ff9482"/>
<rect x="285.81" y="514.20" width="10.62" height="9.55" fill="#89c2e5"/>
<rect x="232.71" y="523.75" width="10.62" height="9.55" fill="#f20f32"/>
<rect x="243.33" y="523.75" width="10.62" height="9.55" fill="#ff373c"/>
<rect x="253.95" y="523.75" width="10.62" height="9.55" fill="#ff6958"/>
<rect x="264.57" y="523.75" width="10.62" height="9.55" fill="#ff8c79"/>
<rect x="275.19" y="523.75" width="10.62" height="9.55" fill="#ff9b8a"/>
<rect x="285.81" y="523.75" width="10.62" height="9.55" fill="#dedcde"/>
<rect x="232.71" y="533.30" width="10.62" height="9.55" fill="#fc2a3a"/>
<rect x="243.33" y="533.30" width="10.62" height="9.55" fill="#ff4442"/>
<rect x="253.95" y="533.30" width="10.62" height="9.55" fill="#ff6958"/>
<rect x="264.57" y="533.30" width="10.62" height="9.55" fill="#ff9482"/>
<rect x="275.19" y="533.30" width="10.62" height="9.55" fill="#ff9b8a"/>
<rect x="285.81" y="533.30" width="10.62" height="9.55" fill="#dedcde"/>
<rect x="232.71" y="542.85" width="10.62" height="9.55" fill="#ff4442"/>
<rect x="243.33" y="542.85" width="10.62" height="9.55" fill="#ff6050"/>
<rect x="253.95" y="542.85" width="10.62" height="9.55" fill="#ff6f5d"/>
<rect x="264.57" y="542.85" width="10.62" height="9.55" fill="#ff9482"/>
<rect x="275.19" y="542.85" width="10.62" height="9.55" fill="#ff9b8a"/>
<rect x="285.81" y="542.85" width="10.62" height="9.55" fill="#efc6c0"/>
<rect x="296.43" y="495.10" width="10.62" height="9.55" fill="#d00033"/>
<rect x="307.05" y="495.10" width="10.62" height="9.55" fill="#ff4442"/>
<rect x="317.68" y="495.10" width="10.62" height="9.55" fill="#7cb9de"/>
<rect x="328.30" y="495.10" width="10.62" height="9.55" fill="#89c2e5"/>
<rect x="338.92" y="495.10" width="10.62" height="9.55" fill="#5695c4"/>
<rect x="349.54" y="495.10" width="10.62" height="9.55" fill="#518fbf"/>
<rect x="296.43" y="504.65" width="10.62" height="9.55" fill="#d90032"/>
<rect x="307.05" y="504.65" width="10.62" height="9.55" fill="#ff6050"/>
<rect x="317.68" y="504.65" width="10.62" height="9.55" fill="#aad0e9"/>
<rect x="328.30" y="504.65" width="10.62" height="9.55" fill="#79b5dc"/>
<rect x="338.92" y="504.65" width="10.62" height="9.55" fill="#63a2cd"/>
<rect x="349.54" y="504.65" width="10.62" height="9.55" fill="#4b8abb"/>
<rect x="296.43" y="514.20" width="10.62" height="9.55" fill="#ff4442"/>
<rect x="307.05" y="514.20" width="10.62" height="9.55" fill="#ff9b8a"/>
<rect x="317.68" y="514.20" width="10.62" height="9.55" fill="#fea495"/>
<rect x="328.30" y="514.20" width="10.62" height="9.55" fill="#80bce1"/>
<rect x="338.92" y="514.20" width="10.62" height="9.55" fill="#6aa8d2"/>
<rect x="349.54" y="514.20" width="10.62" height="9.55" fill="#4684b6"/>
<rect x="296.43" y="523.75" width="10.62" height="9.55" fill="#ff6f5d"/>
<rect x="307.05" y="523.75" width="10.62" height="9.55" fill="#ff9482"/>
<rect x="317.68" y="523.75" width="10.62" height="9.55" fill="#eacdca"/>
<rect x="328.30" y="523.75" width="10.62" height="9.55" fill="#80bce1"/>
<rect x="338.92" y="523.75" width="10.62" height="9.55" fill="#5695c4"/>
<rect x="349.54" y="523.75" width="10.62" height="9.55" fill="#5695c4"/>
<rect x="296.43" y="533.30" width="10.62" height="9.55" fill="#ff6f5d"/>
<rect x="307.05" y="533.30" width="10.62" height="9.55" fill="#fea495"/>
<rect x="317.68" y="533.30" width="10.62" height="9.55" fill="#80bce1"/>
<rect x="328.30" y="533.30" width="10.62" height="9.55" fill="#6aa8d2"/>
<rect x="338.92" y="533.30" width="10.62" height="9.55" fill="#5695c4"/>
<rect x="349.54" y="533.30" width="10.62" height="9.55" fill="#5695c4"/>
<rect x="296.43" y="542.85" width="10.62" height="9.55" fill="#ff7a67"/>
<rect x="307.05" y="542.85" width="10.62" height="9.55" fill="#fea495"/>
<rect x="317.68" y="542.85" width="10.62" height="9.55" fill="#a0cdea"/>
<rect x="328.30" y="542.85" width="10.62" height="9.55" fill="#6aa8d2"/>
<rect x="338.92" y="542.85" width="10.62" height="9.55" fill="#5c9bc8"/>
<rect x="349.54" y="542.85" width="10.62" height="9.55" fill="#5695c4"/>
<rect x="360.16" y="495.10" width="10.62" height="9.55" fill="#96caea"/>
<rect x="370.78" y="495.10" width="10.62" height="9.55" fill="#3c79ad"/>
<rect x="381.40" y="495.10" width="10.62" height="9.55" fill="#2a6698"/>
<rect x="392.02" y="495.10" width="10.62" height="9.55" fill="#256193"/>
<rect x="402.65" y="495.10" width="10.62" height="9.55" fill="#256193"/>
<rect x="413.27" y="495.10" width="10.62" height="9.55" fill="#256193"/>
<rect x="360.16" y="504.65" width="10.62" height="9.55" fill="#faafa3"/>
<rect x="370.78" y="504.65" width="10.62" height="9.55" fill="#4b8abb"/>
<rect x="381.40" y="504.65" width="10.62" height="9.55" fill="#3370a2"/>
<rect x="392.02" y="504.65" width="10.62" height="9.55" fill="#2a6698"/>
<rect x="402.65" y="504.65" width="10.62" height="9.55" fill="#286496"/>
<rect x="413.27" y="504.65" width="10.62" height="9.55" fill="#256193"/>
<rect x="360.16" y="514.20" width="10.62" height="9.55" fill="#dedcde"/>
<rect x="370.78" y="514.20" width="10.62" height="9.55" fill="#5c9bc8"/>
<rect x="381.40" y="514.20" width="10.62" height="9.55" fill="#4684b6"/>
<rect x="392.02" y="514.20" width="10.62" height="9.55" fill="#3774a8"/>
<rect x="402.65" y="514.20" width="10.62" height="9.55" fill="#2a6698"/>
<rect x="413.27" y="514.20" width="10.62" height="9.55" fill="#286496"/>
<rect x="360.16" y="523.75" width="10.62" height="9.55" fill="#f8b6ac"/>
<rect x="370.78" y="523.75" width="10.62" height="9.55" fill="#6aa8d2"/>
<rect x="381.40" y="523.75" width="10.62" height="9.55" fill="#518fbf"/>
<rect x="392.02" y="523.75" width="10.62" height="9.55" fill="#407eb2"/>
<rect x="402.65" y="523.75" width="10.62" height="9.55" fill="#3370a2"/>
<rect x="413.27" y="523.75" width="10.62" height="9.55" fill="#2a6698"/>
<rect x="360.16" y="533.30" width="10.62" height="9.55" fill="#eacdca"/>
<rect x="370.78" y="533.30" width="10.62" height="9.55" fill="#72afd7"/>
<rect x="381.40" y="533.30" width="10.62" height="9.55" fill="#5695c4"/>
<rect x="392.02" y="533.30" width="10.62" height="9.55" fill="#4b8abb"/>
<rect x="402.65" y="533.30" width="10.62" height="9.55" fill="#3c79ad"/>
<rect x="413.27" y="533.30" width="10.62" height="9.55" fill="#2e6b9d"/>
<rect x="360.16" y="542.85" width="10.62" height="9.55" fill="#dedcde"/>
<rect x="370.78" y="542.85" width="10.62" height="9.55" fill="#79b5dc"/>
<rect x="381.40" y="542.85" width="10.62" height="9.55" fill="#5c9bc8"/>
<rect x="392.02" y="542.85" width="10.62" height="9.55" fill="#518fbf"/>
<rect x="402.65" y="542.85" width="10.62" height="9.55" fill="#407eb2"/>
<rect x="413.27" y="542.85" width="10.62" height="9.55" fill="#3774a8"/>
<rect x="423.89" y="495.10" width="10.62" height="9.55" fill="#d90032"/>
<rect x="434.51" y="495.10" width="10.62" height="9.55" fill="#ff9b8a"/>
<rect x="445.13" y="495.10" width="10.62" height="9.55" fill="#6aa8d2"/>
<rect x="455.75" y="495.10" width="10.62" height="9.55" fill="#3774a8"/>
<rect x="466.37" y="495.10" width="10.62" height="9.55" fill="#3774a8"/>
<rect x="477.00" y="495.10" width="10.62" height="9.55" fill="#3c79ad"/>
<rect x="423.89" y="504.65" width="10.62" height="9.55" fill="#ff4442"/>
<rect x="434.51" y="504.65" width="10.62" height="9.55" fill="#ff9482"/>
<rect x="445.13" y="504.65" width="10.62" height="9.55" fill="#5695c4"/>
<rect x="455.75" y="504.65" width="10.62" height="9.55" fill="#4684b6"/>
<rect x="466.37" y="504.65" width="10.62" height="9.55" fill="#3c79ad"/>
<rect x="477.00" y="504.65" width="10.62" height="9.55" fill="#3370a2"/>
<rect x="423.89" y="514.20" width="10.62" height="9.55" fill="#ff564b"/>
<rect x="434.51" y="514.20" width="10.62" height="9.55" fill="#dedcde"/>
<rect x="445.13" y="514.20" width="10.62" height="9.55" fill="#7cb9de"/>
<rect x="455.75" y="514.20" width="10.62" height="9.55" fill="#5695c4"/>
<rect x="466.37" y="514.20" width="10.62" height="9.55" fill="#407eb2"/>
<rect x="477.00" y="514.20" width="10.62" height="9.55" fill="#3c79ad"/>
<rect x="423.89" y="523.75" width="10.62" height="9.55" fill="#ff6050"/>
<rect x="434.51" y="523.75" width="10.62" height="9.55" fill="#dedcde"/>
<rect x="445.13" y="523.75" width="10.62" height="9.55" fill="#79b5dc"/>
<rect x="455.75" y="523.75" width="10.62" height="9.55" fill="#63a2cd"/>
<rect x="466.37" y="523.75" width="10.62" height="9.55" fill="#4684b6"/>
<rect x="477.00" y="523.75" width="10.62" height="9.55" fill="#3c79ad"/>
<rect x="423.89" y="533.30" width="10.62" height="9.55" fill="#ff7a67"/>
<rect x="434.51" y="533.30" width="10.62" height="9.55" fill="#c8d6e2"/>
<rect x="445.13" y="533.30" width="10.62" height="9.55" fill="#79b5dc"/>
<rect x="455.75" y="533.30" width="10.62" height="9.55" fill="#63a2cd"/>
<rect x="466.37" y="533.30" width="10.62" height="9.55" fill="#518fbf"/>
<rect x="477.00" y="533.30" width="10.62" height="9.55" fill="#4684b6"/>
<rect x="423.89" y="542.85" width="10.62" height="9.55" fill="#ff826e"/>
<rect x="434.51" y="542.85" width="10.62" height="9.55" fill="#efc6c0"/>
<rect x="445.13" y="542.85" width="10.62" height="9.55" fill="#79b5dc"/>
<rect x="455.75" y="542.85" width="10.62" height="9.55" fill="#63a2cd"/>
<rect x="466.37" y="542.85" width="10.62" height="9.55" fill="#518fbf"/>
<rect x="477.00" y="542.85" width="10.62" height="9.55" fill="#4684b6"/>
<rect x="487.62" y="495.10" width="10.62" height="9.55" fill="#c20034"/>
<rect x="498.24" y="495.10" width="10.62" height="9.55" fill="#c90033"/>
<rect x="508.86" y="495.10" width="10.62" height="9.55" fill="#c90033"/>
<rect x="519.48" y="495.10" width="10.62" height="9.55" fill="#d20032"/>
<rect x="530.10" y="495.10" width="10.62" height="9.55" fill="#d20032"/>
<rect x="540.72" y="495.10" width="10.62" height="9.55" fill="#d80032"/>
<rect x="487.62" y="504.65" width="10.62" height="9.55" fill="#c90033"/>
<rect x="498.24" y="504.65" width="10.62" height="9.55" fill="#c90033"/>
<rect x="508.86" y="504.65" width="10.62" height="9.55" fill="#d20032"/>
<rect x="519.48" y="504.65" width="10.62" height="9.55" fill="#d20032"/>
<rect x="530.10" y="504.65" width="10.62" height="9.55" fill="#d80032"/>
<rect x="540.72" y="504.65" width="10.62" height="9.55" fill="#d80032"/>
<rect x="487.62" y="514.20" width="10.62" height="9.55" fill="#c90033"/>
<rect x="498.24" y="514.20" width="10.62" height="9.55" fill="#d20032"/>
<rect x="508.86" y="514.20" width="10.62" height="9.55" fill="#d20032"/>
<rect x="519.48" y="514.20" width="10.62" height="9.55" fill="#d20032"/>
<rect x="530.10" y="514.20" width="10.62" height="9.55" fill="#d80032"/>
<rect x="540.72" y="514.20" width="10.62" height="9.55" fill="#d80032"/>
<rect x="487.62" y="523.75" width="10.62" height="9.55" fill="#c90033"/>
<rect x="498.24" y="523.75" width="10.62" height="9.55" fill="#d20032"/>
<rect x="508.86" y="523.75" width="10.62" height="9.55" fill="#d20032"/>
<rect x="519.48" y="523.75" width="10.62" height="9.55" fill="#d80032"/>
<rect x="530.10" y="523.75" width="10.62" height="9.55" fill="#d80032"/>
<rect x="540.72" y="523.75" width="10.62" height="9.55" fill="#ee072f"/>
<rect x="487.62" y="533.30" width="10.62" height="9.55" fill="#c90033"/>
<rect x="498.24" y="533.30" width="10.62" height="9.55" fill="#d20032"/>
<rect x="508.86" y="533.30" width="10.62" height="9.55" fill="#d20032"/>
<rect x="519.48" y="533.30" width="10.62" height="9.55" fill="#d80032"/>
<rect x="530.10" y="533.30" width="10.62" height="9.55" fill="#df0030"/>
<rect x="540.72" y="533.30" width="10.62" height="9.55" fill="#f10c31"/>
<rect x="487.62" y="542.85" width="10.62" height="9.55" fill="#d20032"/>
<rect x="498.24" y="542.85" width="10.62" height="9.55" fill="#d20032"/>
<rect x="508.86" y="542.85" width="10.62" height="9.55" fill="#d80032"/>
<rect x="519.48" y="542.85" width="10.62" height="9.55" fill="#df0030"/>
<rect x="530.10" y="542.85" width="10.62" height="9.55" fill="#ee072f"/>
<rect x="540.72" y="542.85" width="10.62" height="9.55" fill="#f61634"/>
<rect x="551.34" y="495.10" width="10.62" height="9.55" fill="#ff7a67"/>
<rect x="561.97" y="495.10" width="10.62" height="9.55" fill="#407eb2"/>
<rect x="572.59" y="495.10" width="10.62" height="9.55" fill="#2a6698"/>
<rect x="583.21" y="495.10" width="10.62" height="9.55" fill="#256193"/>
<rect x="593.83" y="495.10" width="10.62" height="9.55" fill="#235f91"/>
<rect x="604.45" y="495.10" width="10.62" height="9.55" fill="#235f91"/>
<rect x="551.34" y="504.65" width="10.62" height="9.55" fill="#f6bab1"/>
<rect x="561.97" y="504.65" width="10.62" height="9.55" fill="#518fbf"/>
<rect x="572.59" y="504.65" width="10.62" height="9.55" fill="#3774a8"/>
<rect x="583.21" y="504.65" width="10.62" height="9.55" fill="#2a6698"/>
<rect x="593.83" y="504.65" width="10.62" height="9.55" fill="#256193"/>
<rect x="604.45" y="504.65" width="10.62" height="9.55" fill="#235f91"/>
<rect x="551.34" y="514.20" width="10.62" height="9.55" fill="#dedcde"/>
<rect x="561.97" y="514.20" width="10.62" height="9.55" fill="#63a2cd"/>
<rect x="572.59" y="514.20" width="10.62" height="9.55" fill="#4684b6"/>
<rect x="583.21" y="514.20" width="10.62" height="9.55" fill="#3774a8"/>
<rect x="593.83" y="514.20" width="10.62" height="9.55" fill="#2a6698"/>
<rect x="604.45" y="514.20" width="10.62" height="9.55" fill="#256193"/>
<rect x="551.34" y="523.75" width="10.62" height="9.55" fill="#eacdca"/>
<rect x="561.97" y="523.75" width="10.62" height="9.55" fill="#6aa8d2"/>
<rect x="572.59" y="523.75" width="10.62" height="9.55" fill="#518fbf"/>
<rect x="583.21" y="523.75" width="10.62" height="9.55" fill="#407eb2"/>
<rect x="593.83" y="523.75" width="10.62" height="9.55" fill="#3370a2"/>
<rect x="604.45" y="523.75" width="10.62" height="9.55" fill="#286496"/>
<rect x="551.34" y="533.30" width="10.62" height="9.55" fill="#eacdca"/>
<rect x="561.97" y="533.30" width="10.62" height="9.55" fill="#72afd7"/>
<rect x="572.59" y="533.30" width="10.62" height="9.55" fill="#5695c4"/>
<rect x="583.21" y="533.30" width="10.62" height="9.55" fill="#4684b6"/>
<rect x="593.83" y="533.30" width="10.62" height="9.55" fill="#3774a8"/>
<rect x="604.45" y="533.30" width="10.62" height="9.55" fill="#2e6b9d"/>
<rect x="551.34" y="542.85" width="10.62" height="9.55" fill="#efc6c0"/>
<rect x="561.97" y="542.85" width="10.62" height="9.55" fill="#79b5dc"/>
<rect x="572.59" y="542.85" width="10.62" height="9.55" fill="#63a2cd"/>
<rect x="583.21" y="542.85" width="10.62" height="9.55" fill="#518fbf"/>
<rect x="593.83" y="542.85" width="10.62" height="9.55" fill="#407eb2"/>
<rect x="604.45" y="542.85" width="10.62" height="9.55" fill="#3370a2"/>
<rect x="615.07" y="495.10" width="10.62" height="9.55" fill="#d90032"/>
<rect x="625.69" y="495.10" width="10.62" height="9.55" fill="#fc2a3a"/>
<rect x="636.31" y="495.10" width="10.62" height="9.55" fill="#ff6050"/>
<rect x="646.94" y="495.10" width="10.62" height="9.55" fill="#f9b3a8"/>
<rect x="657.56" y="495.10" width="10.62" height="9.55" fill="#a0cdea"/>
<rect x="668.18" y="495.10" width="10.62" height="9.55" fill="#5695c4"/>
<rect x="615.07" y="504.65" width="10.62" height="9.55" fill="#de0030"/>
<rect x="625.69" y="504.65" width="10.62" height="9.55" fill="#ff373c"/>
<rect x="636.31" y="504.65" width="10.62" height="9.55" fill="#ff6f5d"/>
<rect x="646.94" y="504.65" width="10.62" height="9.55" fill="#dedcde"/>
<rect x="657.56" y="504.65" width="10.62" height="9.55" fill="#5695c4"/>
<rect x="668.18" y="504.65" width="10.62" height="9.55" fill="#5c9bc8"/>
<rect x="615.07" y="514.20" width="10.62" height="9.55" fill="#fa1e37"/>
<rect x="625.69" y="514.20" width="10.62" height="9.55" fill="#ff4e47"/>
<rect x="636.31" y="514.20" width="10.62" height="9.55" fill="#ff8c79"/>
<rect x="646.94" y="514.20" width="10.62" height="9.55" fill="#96caea"/>
<rect x="657.56" y="514.20" width="10.62" height="9.55" fill="#5695c4"/>
<rect x="668.18" y="514.20" width="10.62" height="9.55" fill="#4684b6"/>
<rect x="615.07" y="523.75" width="10.62" height="9.55" fill="#fa1e37"/>
<rect x="625.69" y="523.75" width="10.62" height="9.55" fill="#ff6958"/>
<rect x="636.31" y="523.75" width="10.62" height="9.55" fill="#ff9482"/>
<rect x="646.94" y="523.75" width="10.62" height="9.55" fill="#aad0e9"/>
<rect x="657.56" y="523.75" width="10.62" height="9.55" fill="#5c9bc8"/>
<rect x="668.18" y="523.75" width="10.62" height="9.55" fill="#4b8abb"/>
<rect x="615.07" y="533.30" width="10.62" height="9.55" fill="#ff4442"/>
<rect x="625.69" y="533.30" width="10.62" height="9.55" fill="#ff6958"/>
<rect x="636.31" y="533.30" width="10.62" height="9.55" fill="#dedcde"/>
<rect x="646.94" y="533.30" width="10.62" height="9.55" fill="#96caea"/>
<rect x="657.56" y="533.30" width="10.62" height="9.55" fill="#5c9bc8"/>
<rect x="668.18" y="533.30" width="10.62" height="9.55" fill="#518fbf"/>
<rect x="615.07" y="542.85" width="10.62" height="9.55" fill="#ff6050"/>
<rect x="625.69" y="542.85" width="10.62" height="9.55" fill="#ff7a67"/>
<rect x="636.31" y="542.85" width="10.62" height="9.55" fill="#faafa3"/>
<rect x="646.94" y="542.85" width="10.62" height="9.55" fill="#a0cdea"/>
<rect x="657.56" y="542.85" width="10.62" height="9.55" fill="#63a2cd"/>
<rect x="668.18" y="542.85" width="10.62" height="9.55" fill="#5695c4"/>
<rect x="105.25" y="552.40" width="10.62" height="9.55" fill="#ca0033"/>
<rect x="115.87" y="552.40" width="10.62" height="9.55" fill="#ca0033"/>
<rect x="126.49" y="552.40" width="10.62" height="9.55" fill="#ca0033"/>
<rect x="137.11" y="552.40" width="10.62" height="9.55" fill="#d00033"/>
<rect x="147.74" y="552.40" width="10.62" height="9.55" fill="#d90032"/>
<rect x="158.36" y="552.40" width="10.62" height="9.55" fill="#de0030"/>
<rect x="105.25" y="561.95" width="10.62" height="9.55" fill="#ca0033"/>
<rect x="115.87" y="561.95" width="10.62" height="9.55" fill="#d00033"/>
<rect x="126.49" y="561.95" width="10.62" height="9.55" fill="#ca0033"/>
<rect x="137.11" y="561.95" width="10.62" height="9.55" fill="#d00033"/>
<rect x="147.74" y="561.95" width="10.62" height="9.55" fill="#e4002f"/>
<rect x="158.36" y="561.95" width="10.62" height="9.55" fill="#f51434"/>
<rect x="105.25" y="571.50" width="10.62" height="9.55" fill="#d00033"/>
<rect x="115.87" y="571.50" width="10.62" height="9.55" fill="#d90032"/>
<rect x="126.49" y="571.50" width="10.62" height="9.55" fill="#d00033"/>
<rect x="137.11" y="571.50" width="10.62" height="9.55" fill="#d90032"/>
<rect x="147.74" y="571.50" width="10.62" height="9.55" fill="#f51434"/>
<rect x="158.36" y="571.50" width="10.62" height="9.55" fill="#fc2a3a"/>
<rect x="105.25" y="581.05" width="10.62" height="9.55" fill="#d00033"/>
<rect x="115.87" y="581.05" width="10.62" height="9.55" fill="#d90032"/>
<rect x="126.49" y="581.05" width="10.62" height="9.55" fill="#d90032"/>
<rect x="137.11" y="581.05" width="10.62" height="9.55" fill="#de0030"/>
<rect x="147.74" y="581.05" width="10.62" height="9.55" fill="#ff373c"/>
<rect x="158.36" y="581.05" width="10.62" height="9.55" fill="#ff373c"/>
<rect x="105.25" y="590.60" width="10.62" height="9.55" fill="#d00033"/>
<rect x="115.87" y="590.60" width="10.62" height="9.55" fill="#d90032"/>
<rect x="126.49" y="590.60" width="10.62" height="9.55" fill="#de0030"/>
<rect x="137.11" y="590.60" width="10.62" height="9.55" fill="#fa1e37"/>
<rect x="147.74" y="590.60" width="10.62" height="9.55" fill="#ff373c"/>
<rect x="158.36" y="590.60" width="10.62" height="9.55" fill="#fc2a3a"/>
<rect x="105.25" y="600.15" width="10.62" height="9.55" fill="#d00033"/>
<rect x="115.87" y="600.15" width="10.62" height="9.55" fill="#de0030"/>
<rect x="126.49" y="600.15" width="10.62" height="9.55" fill="#d90032"/>
<rect x="137.11" y="600.15" width="10.62" height="9.55" fill="#e4002f"/>
<rect x="147.74" y="600.15" width="10.62" height="9.55" fill="#ff564b"/>
<rect x="158.36" y="600.15" width="10.62" height="9.55" fill="#de0030"/>
<rect x="168.98" y="552.40" width="10.62" height="9.55" fill="#ca0033"/>
<rect x="179.60" y="552.40" width="10.62" height="9.55" fill="#de0030"/>
<rect x="190.22" y="552.40" width="10.62" height="9.55" fill="#ff4e47"/>
<rect x="200.84" y="552.40" width="10.62" height="9.55" fill="#ff6050"/>
<rect x="211.46" y="552.40" width="10.62" height="9.55" fill="#ff6050"/>
<rect x="222.08" y="552.40" width="10.62" height="9.55" fill="#ff7a67"/>
<rect x="168.98" y="561.95" width="10.62" height="9.55" fill="#d00033"/>
<rect x="179.60" y="561.95" width="10.62" height="9.55" fill="#fc2a3a"/>
<rect x="190.22" y="561.95" width="10.62" height="9.55" fill="#ff373c"/>
<rect x="200.84" y="561.95" width="10.62" height="9.55" fill="#ff6050"/>
<rect x="211.46" y="561.95" width="10.62" height="9.55" fill="#ff6958"/>
<rect x="222.08" y="561.95" width="10.62" height="9.55" fill="#ff8c79"/>
<rect x="168.98" y="571.50" width="10.62" height="9.55" fill="#d90032"/>
<rect x="179.60" y="571.50" width="10.62" height="9.55" fill="#f51434"/>
<rect x="190.22" y="571.50" width="10.62" height="9.55" fill="#ff4e47"/>
<rect x="200.84" y="571.50" width="10.62" height="9.55" fill="#ff6f5d"/>
<rect x="211.46" y="571.50" width="10.62" height="9.55" fill="#faafa3"/>
<rect x="222.08" y="571.50" width="10.62" height="9.55" fill="#bed4e5"/>
<rect x="168.98" y="581.05" width="10.62" height="9.55" fill="#de0030"/>
<rect x="179.60" y="581.05" width="10.62" height="9.55" fill="#ff564b"/>
<rect x="190.22" y="581.05" width="10.62" height="9.55" fill="#ff6958"/>
<rect x="200.84" y="581.05" width="10.62" height="9.55" fill="#ff7a67"/>
<rect x="211.46" y="581.05" width="10.62" height="9.55" fill="#ff826e"/>
<rect x="222.08" y="581.05" width="10.62" height="9.55" fill="#ff8c79"/>
<rect x="168.98" y="590.60" width="10.62" height="9.55" fill="#f51434"/>
<rect x="179.60" y="590.60" width="10.62" height="9.55" fill="#ff564b"/>
<rect x="190.22" y="590.60" width="10.62" height="9.55" fill="#ff6958"/>
<rect x="200.84" y="590.60" width="10.62" height="9.55" fill="#ff6958"/>
<rect x="211.46" y="590.60" width="10.62" height="9.55" fill="#ff8c79"/>
<rect x="222.08" y="590.60" width="10.62" height="9.55" fill="#ff9b8a"/>
<rect x="168.98" y="600.15" width="10.62" height="9.55" fill="#ff4442"/>
<rect x="179.60" y="600.15" width="10.62" height="9.55" fill="#ff6050"/>
<rect x="190.22" y="600.15" width="10.62" height="9.55" fill="#ff7a67"/>
<rect x="200.84" y="600.15" width="10.62" height="9.55" fill="#fea495"/>
<rect x="211.46" y="600.15" width="10.62" height="9.55" fill="#fea495"/>
<rect x="222.08" y="600.15" width="10.62" height="9.55" fill="#ff9b8a"/>
<rect x="232.71" y="552.40" width="10.62" height="9.55" fill="#ca0033"/>
<rect x="243.33" y="552.40" width="10.62" height="9.55" fill="#d00033"/>
<rect x="253.95" y="552.40" width="10.62" height="9.55" fill="#de0030"/>
<rect x="264.57" y="552.40" width="10.62" height="9.55" fill="#ff373c"/>
<rect x="275.19" y="552.40" width="10.62" height="9.55" fill="#ff4442"/>
<rect x="285.81" y="552.40" width="10.62" height="9.55" fill="#ff6958"/>
<rect x="232.71" y="561.95" width="10.62" height="9.55" fill="#d00033"/>
<rect x="243.33" y="561.95" width="10.62" height="9.55" fill="#d90032"/>
<rect x="253.95" y="561.95" width="10.62" height="9.55" fill="#e4002f"/>
<rect x="264.57" y="561.95" width="10.62" height="9.55" fill="#ff373c"/>
<rect x="275.19" y="561.95" width="10.62" height="9.55" fill="#ff4e47"/>
<rect x="285.81" y="561.95" width="10.62" height="9.55" fill="#ff6f5d"/>
<rect x="232.71" y="571.50" width="10.62" height="9.55" fill="#d00033"/>
<rect x="243.33" y="571.50" width="10.62" height="9.55" fill="#d90032"/>
<rect x="253.95" y="571.50" width="10.62" height="9.55" fill="#e4002f"/>
<rect x="264.57" y="571.50" width="10.62" height="9.55" fill="#ff373c"/>
<rect x="275.19" y="571.50" width="10.62" height="9.55" fill="#ff564b"/>
<rect x="285.81" y="571.50" width="10.62" height="9.55" fill="#ff7a67"/>
<rect x="232.71" y="581.05" width="10.62" height="9.55" fill="#d00033"/>
<rect x="243.33" y="581.05" width="10.62" height="9.55" fill="#d90032"/>
<rect x="253.95" y="581.05" width="10.62" height="9.55" fill="#fa1e37"/>
<rect x="264.57" y="581.05" width="10.62" height="9.55" fill="#ff564b"/>
<rect x="275.19" y="581.05" width="10.62" height="9.55" fill="#ff6958"/>
<rect x="285.81" y="581.05" width="10.62" height="9.55" fill="#ff6958"/>
<rect x="232.71" y="590.60" width="10.62" height="9.55" fill="#d90032"/>
<rect x="243.33" y="590.60" width="10.62" height="9.55" fill="#de0030"/>
<rect x="253.95" y="590.60" width="10.62" height="9.55" fill="#ff373c"/>
<rect x="264.57" y="590.60" width="10.62" height="9.55" fill="#ff4442"/>
<rect x="275.19" y="590.60" width="10.62" height="9.55" fill="#ff564b"/>
<rect x="285.81" y="590.60" width="10.62" height="9.55" fill="#ff6958"/>
<rect x="232.71" y="600.15" width="10.62" height="9.55" fill="#d90032"/>
<rect x="243.33" y="600.15" width="10.62" height="9.55" fill="#e4002f"/>
<rect x="253.95" y="600.15" width="10.62" height="9.55" fill="#ff373c"/>
<rect x="264.57" y="600.15" width="10.62" height="9.55" fill="#ff6050"/>
<rect x="275.19" y="600.15" width="10.62" height="9.55" fill="#ff6050"/>
<rect x="285.81" y="600.15" width="10.62" height="9.55" fill="#ff6f5d"/>
<rect x="296.43" y="552.40" width="10.62" height="9.55" fill="#ca0033"/>
<rect x="307.05" y="552.40" width="10.62" height="9.55" fill="#d00033"/>
<rect x="317.68" y="552.40" width="10.62" height="9.55" fill="#ff7a67"/>
<rect x="328.30" y="552.40" width="10.62" height="9.55" fill="#ff4442"/>
<rect x="338.92" y="552.40" width="10.62" height="9.55" fill="#ff8c79"/>
<rect x="349.54" y="552.40" width="10.62" height="9.55" fill="#dedcde"/>
<rect x="296.43" y="561.95" width="10.62" height="9.55" fill="#ca0033"/>
<rect x="307.05" y="561.95" width="10.62" height="9.55" fill="#d90032"/>
<rect x="317.68" y="561.95" width="10.62" height="9.55" fill="#ff4442"/>
<rect x="328.30" y="561.95" width="10.62" height="9.55" fill="#ff826e"/>
<rect x="338.92" y="561.95" width="10.62" height="9.55" fill="#ff7a67"/>
<rect x="349.54" y="561.95" width="10.62" height="9.55" fill="#c8d6e2"/>
<rect x="296.43" y="571.50" width="10.62" height="9.55" fill="#d00033"/>
<rect x="307.05" y="571.50" width="10.62" height="9.55" fill="#ff373c"/>
<rect x="317.68" y="571.50" width="10.62" height="9.55" fill="#fa1e37"/>
<rect x="328.30" y="571.50" width="10.62" height="9.55" fill="#ff6958"/>
<rect x="338.92" y="571.50" width="10.62" height="9.55" fill="#ff826e"/>
<rect x="349.54" y="571.50" width="10.62" height="9.55" fill="#89c2e5"/>
<rect x="296.43" y="581.05" width="10.62" height="9.55" fill="#fa1e37"/>
<rect x="307.05" y="581.05" width="10.62" height="9.55" fill="#ff4e47"/>
<rect x="317.68" y="581.05" width="10.62" height="9.55" fill="#ff564b"/>
<rect x="328.30" y="581.05" width="10.62" height="9.55" fill="#ff6958"/>
<rect x="338.92" y="581.05" width="10.62" height="9.55" fill="#faafa3"/>
<rect x="349.54" y="581.05" width="10.62" height="9.55" fill="#b7d3e7"/>
<rect x="296.43" y="590.60" width="10.62" height="9.55" fill="#fc2a3a"/>
<rect x="307.05" y="590.60" width="10.62" height="9.55" fill="#ff6050"/>
<rect x="317.68" y="590.60" width="10.62" height="9.55" fill="#ff6050"/>
<rect x="328.30" y="590.60" width="10.62" height="9.55" fill="#ff9b8a"/>
<rect x="338.92" y="590.60" width="10.62" height="9.55" fill="#89c2e5"/>
<rect x="349.54" y="590.60" width="10.62" height="9.55" fill="#89c2e5"/>
<rect x="296.43" y="600.15" width="10.62" height="9.55" fill="#fc2a3a"/>
<rect x="307.05" y="600.15" width="10.62" height="9.55" fill="#ff6958"/>
<rect x="317.68" y="600.15" width="10.62" height="9.55" fill="#ff6f5d"/>
<rect x="328.30" y="600.15" width="10.62" height="9.55" fill="#ff9482"/>
<rect x="338.92" y="600.15" width="10.62" height="9.55" fill="#89c2e5"/>
<rect x="349.54" y="600.15" width="10.62" height="9.55" fill="#89c2e5"/>
<rect x="360.16" y="552.40" width="10.62" height="9.55" fill="#fe313b"/>
<rect x="370.78" y="552.40" width="10.62" height="9.55" fill="#84bfe3"/>
<rect x="381.40" y="552.40" width="10.62" height="9.55" fill="#4b8abb"/>
<rect x="392.02" y="552.40" width="10.62" height="9.55" fill="#407eb2"/>
<rect x="402.65" y="552.40" width="10.62" height="9.55" fill="#3774a8"/>
<rect x="413.27" y="552.40" width="10.62" height="9.55" fill="#3774a8"/>
<rect x="360.16" y="561.95" width="10.62" height="9.55" fill="#ff4c46"/>
<rect x="370.78" y="561.95" width="10.62" height="9.55" fill="#96caea"/>
<rect x="381.40" y="561.95" width="10.62" height="9.55" fill="#518fbf"/>
<rect x="392.02" y="561.95" width="10.62" height="9.55" fill="#4684b6"/>
<rect x="402.65" y="561.95" width="10.62" height="9.55" fill="#3774a8"/>
<rect x="413.27" y="561.95" width="10.62" height="9.55" fill="#3774a8"/>
<rect x="360.16" y="571.50" width="10.62" height="9.55" fill="#ff6d5b"/>
<rect x="370.78" y="571.50" width="10.62" height="9.55" fill="#dedcde"/>
<rect x="381.40" y="571.50" width="10.62" height="9.55" fill="#63a2cd"/>
<rect x="392.02" y="571.50" width="10.62" height="9.55" fill="#5695c4"/>
<rect x="402.65" y="571.50" width="10.62" height="9.55" fill="#407eb2"/>
<rect x="413.27" y="571.50" width="10.62" height="9.55" fill="#3774a8"/>
<rect x="360.16" y="581.05" width="10.62" height="9.55" fill="#ff7563"/>
<rect x="370.78" y="581.05" width="10.62" height="9.55" fill="#eec7c2"/>
<rect x="381.40" y="581.05" width="10.62" height="9.55" fill="#79b5dc"/>
<rect x="392.02" y="581.05" width="10.62" height="9.55" fill="#5998c6"/>
<rect x="402.65" y="581.05" width="10.62" height="9.55" fill="#4b8abb"/>
<rect x="413.27" y="581.05" width="10.62" height="9.55" fill="#407eb2"/>
<rect x="360.16" y="590.60" width="10.62" height="9.55" fill="#ff7a67"/>
<rect x="370.78" y="590.60" width="10.62" height="9.55" fill="#eec7c2"/>
<rect x="381.40" y="590.60" width="10.62" height="9.55" fill="#80bce1"/>
<rect x="392.02" y="590.60" width="10.62" height="9.55" fill="#63a2cd"/>
<rect x="402.65" y="590.60" width="10.62" height="9.55" fill="#5492c1"/>
<rect x="413.27" y="590.60" width="10.62" height="9.55" fill="#4887b9"/>
<rect x="360.16" y="600.15" width="10.62" height="9.55" fill="#ff826e"/>
<rect x="370.78" y="600.15" width="10.62" height="9.55" fill="#e5d3d2"/>
<rect x="381.40" y="600.15" width="10.62" height="9.55" fill="#89c2e5"/>
<rect x="392.02" y="600.15" width="10.62" height="9.55" fill="#72afd7"/>
<rect x="402.65" y="600.15" width="10.62" height="9.55" fill="#5c9bc8"/>
<rect x="413.27" y="600.15" width="10.62" height="9.55" fill="#518fbf"/>
<rect x="423.89" y="552.40" width="10.62" height="9.55" fill="#ca0033"/>
<rect x="434.51" y="552.40" width="10.62" height="9.55" fill="#d90032"/>
<rect x="445.13" y="552.40" width="10.62" height="9.55" fill="#ff7a67"/>
<rect x="455.75" y="552.40" width="10.62" height="9.55" fill="#eacdca"/>
<rect x="466.37" y="552.40" width="10.62" height="9.55" fill="#80bce1"/>
<rect x="477.00" y="552.40" width="10.62" height="9.55" fill="#72afd7"/>
<rect x="423.89" y="561.95" width="10.62" height="9.55" fill="#d00033"/>
<rect x="434.51" y="561.95" width="10.62" height="9.55" fill="#fc2a3a"/>
<rect x="445.13" y="561.95" width="10.62" height="9.55" fill="#ff826e"/>
<rect x="455.75" y="561.95" width="10.62" height="9.55" fill="#efc6c0"/>
<rect x="466.37" y="561.95" width="10.62" height="9.55" fill="#79b5dc"/>
<rect x="477.00" y="561.95" width="10.62" height="9.55" fill="#72afd7"/>
<rect x="423.89" y="571.50" width="10.62" height="9.55" fill="#d90032"/>
<rect x="434.51" y="571.50" width="10.62" height="9.55" fill="#ff564b"/>
<rect x="445.13" y="571.50" width="10.62" height="9.55" fill="#ff7a67"/>
<rect x="455.75" y="571.50" width="10.62" height="9.55" fill="#faafa3"/>
<rect x="466.37" y="571.50" width="10.62" height="9.55" fill="#79b5dc"/>
<rect x="477.00" y="571.50" width="10.62" height="9.55" fill="#79b5dc"/>
<rect x="423.89" y="581.05" width="10.62" height="9.55" fill="#fa1e37"/>
<rect x="434.51" y="581.05" width="10.62" height="9.55" fill="#ff564b"/>
<rect x="445.13" y="581.05" width="10.62" height="9.55" fill="#ff7a67"/>
<rect x="455.75" y="581.05" width="10.62" height="9.55" fill="#b7d3e7"/>
<rect x="466.37" y="581.05" width="10.62" height="9.55" fill="#79b5dc"/>
<rect x="477.00" y="581.05" width="10.62" height="9.55" fill="#72afd7"/>
<rect x="423.89" y="590.60" width="10.62" height="9.55" fill="#fa1e37"/>
<rect x="434.51" y="590.60" width="10.62" height="9.55" fill="#ff6050"/>
<rect x="445.13" y="590.60" width="10.62" height="9.55" fill="#ff9b8a"/>
<rect x="455.75" y="590.60" width="10.62" height="9.55" fill="#fea495"/>
<rect x="466.37" y="590.60" width="10.62" height="9.55" fill="#80bce1"/>
<rect x="477.00" y="590.60" width="10.62" height="9.55" fill="#72afd7"/>
<rect x="423.89" y="600.15" width="10.62" height="9.55" fill="#ff4e47"/>
<rect x="434.51" y="600.15" width="10.62" height="9.55" fill="#ff7a67"/>
<rect x="445.13" y="600.15" width="10.62" height="9.55" fill="#ff9482"/>
<rect x="455.75" y="600.15" width="10.62" height="9.55" fill="#dedcde"/>
<rect x="466.37" y="600.15" width="10.62" height="9.55" fill="#79b5dc"/>
<rect x="477.00" y="600.15" width="10.62" height="9.55" fill="#79b5dc"/>
<rect x="487.62" y="552.40" width="10.62" height="9.55" fill="#ca0033"/>
<rect x="498.24" y="552.40" width="10.62" height="9.55" fill="#ca0033"/>
<rect x="508.86" y="552.40" width="10.62" height="9.55" fill="#ca0033"/>
<rect x="519.48" y="552.40" width="10.62" height="9.55" fill="#ca0033"/>
<rect x="530.10" y="552.40" width="10.62" height="9.55" fill="#ca0033"/>
<rect x="540.72" y="552.40" width="10.62" height="9.55" fill="#ca0033"/>
<rect x="487.62" y="561.95" width="10.62" height="9.55" fill="#ca0033"/>
<rect x="498.24" y="561.95" width="10.62" height="9.55" fill="#ca0033"/>
<rect x="508.86" y="561.95" width="10.62" height="9.55" fill="#ca0033"/>
<rect x="519.48" y="561.95" width="10.62" height="9.55" fill="#ca0033"/>
<rect x="530.10" y="561.95" width="10.62" height="9.55" fill="#ca0033"/>
<rect x="540.72" y="561.95" width="10.62" height="9.55" fill="#d00033"/>
<rect x="487.62" y="571.50" width="10.62" height="9.55" fill="#ca0033"/>
<rect x="498.24" y="571.50" width="10.62" height="9.55" fill="#ca0033"/>
<rect x="508.86" y="571.50" width="10.62" height="9.55" fill="#ca0033"/>
<rect x="519.48" y="571.50" width="10.62" height="9.55" fill="#ca0033"/>
<rect x="530.10" y="571.50" width="10.62" height="9.55" fill="#d00033"/>
<rect x="540.72" y="571.50" width="10.62" height="9.55" fill="#d00033"/>
<rect x="487.62" y="581.05" width="10.62" height="9.55" fill="#ca0033"/>
<rect x="498.24" y="581.05" width="10.62" height="9.55" fill="#ca0033"/>
<rect x="508.86" y="581.05" width="10.62" height="9.55" fill="#ca0033"/>
<rect x="519.48" y="581.05" width="10.62" height="9.55" fill="#d00033"/>
<rect x="530.10" y="581.05" width="10.62" height="9.55" fill="#d00033"/>
<rect x="540.72" y="581.05" width="10.62" height="9.55" fill="#d00033"/>
<rect x="487.62" y="590.60" width="10.62" height="9.55" fill="#ca0033"/>
<rect x="498.24" y="590.60" width="10.62" height="9.55" fill="#ca0033"/>
<rect x="508.86" y="590.60" width="10.62" height="9.55" fill="#d00033"/>
<rect x="519.48" y="590.60" width="10.62" height="9.55" fill="#d00033"/>
<rect x="530.10" y="590.60" width="10.62" height="9.55" fill="#d00033"/>
<rect x="540.72" y="590.60" width="10.62" height="9.55" fill="#d00033"/>
<rect x="487.62" y="600.15" width="10.62" height="9.55" fill="#ca0033"/>
<rect x="498.24" y="600.15" width="10.62" height="9.55" fill="#d00033"/>
<rect x="508.86" y="600.15" width="10.62" height="9.55" fill="#d00033"/>
<rect x="519.48" y="600.15" width="10.62" height="9.55" fill="#d00033"/>
<rect x="530.10" y="600.15" width="10.62" height="9.55" fill="#d00033"/>
<rect x="540.72" y="600.15" width="10.62" height="9.55" fill="#d00033"/>
<rect x="551.34" y="552.40" width="10.62" height="9.55" fill="#d90032"/>
<rect x="561.97" y="552.40" width="10.62" height="9.55" fill="#fbab9e"/>
<rect x="572.59" y="552.40" width="10.62" height="9.55" fill="#63a2cd"/>
<rect x="583.21" y="552.40" width="10.62" height="9.55" fill="#4b8abb"/>
<rect x="593.83" y="552.40" width="10.62" height="9.55" fill="#407eb2"/>
<rect x="604.45" y="552.40" width="10.62" height="9.55" fill="#3370a2"/>
<rect x="551.34" y="561.95" width="10.62" height="9.55" fill="#ff373c"/>
<rect x="561.97" y="561.95" width="10.62" height="9.55" fill="#f5beb6"/>
<rect x="572.59" y="561.95" width="10.62" height="9.55" fill="#6aa8d2"/>
<rect x="583.21" y="561.95" width="10.62" height="9.55" fill="#5695c4"/>
<rect x="593.83" y="561.95" width="10.62" height="9.55" fill="#4b8abb"/>
<rect x="604.45" y="561.95" width="10.62" height="9.55" fill="#407eb2"/>
<rect x="551.34" y="571.50" width="10.62" height="9.55" fill="#ff564b"/>
<rect x="561.97" y="571.50" width="10.62" height="9.55" fill="#f5beb6"/>
<rect x="572.59" y="571.50" width="10.62" height="9.55" fill="#79b5dc"/>
<rect x="583.21" y="571.50" width="10.62" height="9.55" fill="#5c9bc8"/>
<rect x="593.83" y="571.50" width="10.62" height="9.55" fill="#518fbf"/>
<rect x="604.45" y="571.50" width="10.62" height="9.55" fill="#4b8abb"/>
<rect x="551.34" y="581.05" width="10.62" height="9.55" fill="#ff7a67"/>
<rect x="561.97" y="581.05" width="10.62" height="9.55" fill="#faafa3"/>
<rect x="572.59" y="581.05" width="10.62" height="9.55" fill="#80bce1"/>
<rect x="583.21" y="581.05" width="10.62" height="9.55" fill="#63a2cd"/>
<rect x="593.83" y="581.05" width="10.62" height="9.55" fill="#5695c4"/>
<rect x="604.45" y="581.05" width="10.62" height="9.55" fill="#4b8abb"/>
<rect x="551.34" y="590.60" width="10.62" height="9.55" fill="#ff7a67"/>
<rect x="561.97" y="590.60" width="10.62" height="9.55" fill="#faafa3"/>
<rect x="572.59" y="590.60" width="10.62" height="9.55" fill="#80bce1"/>
<rect x="583.21" y="590.60" width="10.62" height="9.55" fill="#6aa8d2"/>
<rect x="593.83" y="590.60" width="10.62" height="9.55" fill="#5c9bc8"/>
<rect x="604.45" y="590.60" width="10.62" height="9.55" fill="#518fbf"/>
<rect x="551.34" y="600.15" width="10.62" height="9.55" fill="#ff7a67"/>
<rect x="561.97" y="600.15" width="10.62" height="9.55" fill="#fea495"/>
<rect x="572.59" y="600.15" width="10.62" height="9.55" fill="#89c2e5"/>
<rect x="583.21" y="600.15" width="10.62" height="9.55" fill="#72afd7"/>
<rect x="593.83" y="600.15" width="10.62" height="9.55" fill="#63a2cd"/>
<rect x="604.45" y="600.15" width="10.62" height="9.55" fill="#5c9bc8"/>
<rect x="615.07" y="552.40" width="10.62" height="9.55" fill="#ca0033"/>
<rect x="625.69" y="552.40" width="10.62" height="9.55" fill="#ce0033"/>
<rect x="636.31" y="552.40" width="10.62" height="9.55" fill="#d90032"/>
<rect x="646.94" y="552.40" width="10.62" height="9.55" fill="#ff373c"/>
<rect x="657.56" y="552.40" width="10.62" height="9.55" fill="#ff6f5d"/>
<rect x="668.18" y="552.40" width="10.62" height="9.55" fill="#faafa3"/>
<rect x="615.07" y="561.95" width="10.62" height="9.55" fill="#d00033"/>
<rect x="625.69" y="561.95" width="10.62" height="9.55" fill="#d90032"/>
<rect x="636.31" y="561.95" width="10.62" height="9.55" fill="#f20f32"/>
<rect x="646.94" y="561.95" width="10.62" height="9.55" fill="#ff564b"/>
<rect x="657.56" y="561.95" width="10.62" height="9.55" fill="#faafa3"/>
<rect x="668.18" y="561.95" width="10.62" height="9.55" fill="#efc6c0"/>
<rect x="615.07" y="571.50" width="10.62" height="9.55" fill="#d00033"/>
<rect x="625.69" y="571.50" width="10.62" height="9.55" fill="#d90032"/>
<rect x="636.31" y="571.50" width="10.62" height="9.55" fill="#ff4442"/>
<rect x="646.94" y="571.50" width="10.62" height="9.55" fill="#ff6958"/>
<rect x="657.56" y="571.50" width="10.62" height="9.55" fill="#faafa3"/>
<rect x="668.18" y="571.50" width="10.62" height="9.55" fill="#a0cdea"/>
<rect x="615.07" y="581.05" width="10.62" height="9.55" fill="#de0030"/>
<rect x="625.69" y="581.05" width="10.62" height="9.55" fill="#f51434"/>
<rect x="636.31" y="581.05" width="10.62" height="9.55" fill="#ff4442"/>
<rect x="646.94" y="581.05" width="10.62" height="9.55" fill="#ff7a67"/>
<rect x="657.56" y="581.05" width="10.62" height="9.55" fill="#ff9b8a"/>
<rect x="668.18" y="581.05" width="10.62" height="9.55" fill="#b7d3e7"/>
<rect x="615.07" y="590.60" width="10.62" height="9.55" fill="#de0030"/>
<rect x="625.69" y="590.60" width="10.62" height="9.55" fill="#fc2a3a"/>
<rect x="636.31" y="590.60" width="10.62" height="9.55" fill="#ff6958"/>
<rect x="646.94" y="590.60" width="10.62" height="9.55" fill="#ff8c79"/>
<rect x="657.56" y="590.60" width="10.62" height="9.55" fill="#faafa3"/>
<rect x="668.18" y="590.60" width="10.62" height="9.55" fill="#a0cdea"/>
<rect x="615.07" y="600.15" width="10.62" height="9.55" fill="#f51434"/>
<rect x="625.69" y="600.15" width="10.62" height="9.55" fill="#ff564b"/>
<rect x="636.31" y="600.15" width="10.62" height="9.55" fill="#ff7a67"/>
<rect x="646.94" y="600.15" width="10.62" height="9.55" fill="#ff8c79"/>
<rect x="657.56" y="600.15" width="10.62" height="9.55" fill="#faafa3"/>
<rect x="668.18" y="600.15" width="10.62" height="9.55" fill="#b7d3e7"/></g>
<text x="-0.4" y="7.8" style="font-size:13.5px;fill:#000;stroke:#000;stroke-width:0.2px">a</text>
<text x="1.1" y="350.6" style="font-size:14.6px;fill:#000;stroke:#000;stroke-width:0.2px">b</text>
<path d="M115.87 50.5V267.3M126.49 50.5V267.3M137.11 50.5V267.3M147.74 50.5V267.3M158.36 50.5V267.3M179.60 50.5V267.3M190.22 50.5V267.3M200.84 50.5V267.3M211.46 50.5V267.3M222.08 50.5V267.3M243.33 50.5V267.3M253.95 50.5V267.3M264.57 50.5V267.3M275.19 50.5V267.3M285.81 50.5V267.3M307.05 50.5V267.3M317.68 50.5V267.3M328.30 50.5V267.3M338.92 50.5V267.3M349.54 50.5V267.3M370.78 50.5V267.3M381.40 50.5V267.3M392.02 50.5V267.3M402.65 50.5V267.3M413.27 50.5V267.3M434.51 50.5V267.3M445.13 50.5V267.3M455.75 50.5V267.3M466.37 50.5V267.3M477.00 50.5V267.3M498.24 50.5V267.3M508.86 50.5V267.3M519.48 50.5V267.3M530.10 50.5V267.3M540.72 50.5V267.3M561.97 50.5V267.3M572.59 50.5V267.3M583.21 50.5V267.3M593.83 50.5V267.3M604.45 50.5V267.3M625.69 50.5V267.3M636.31 50.5V267.3M646.94 50.5V267.3M657.56 50.5V267.3M668.18 50.5V267.3M105.25 59.53H678.8M105.25 68.57H678.8M105.25 77.60H678.8M105.25 86.63H678.8M105.25 95.67H678.8M105.25 113.73H678.8M105.25 122.77H678.8M105.25 131.80H678.8M105.25 140.83H678.8M105.25 149.87H678.8M105.25 167.93H678.8M105.25 176.97H678.8M105.25 186.00H678.8M105.25 195.03H678.8M105.25 204.07H678.8M105.25 222.13H678.8M105.25 231.17H678.8M105.25 240.20H678.8M105.25 249.23H678.8M105.25 258.27H678.8" stroke="#fff" stroke-opacity="0.07" stroke-width="1" fill="none"/>
<line x1="105.50" y1="50.5" x2="105.50" y2="267.3" stroke="#dcdcdc" stroke-opacity="0.55" stroke-width="1"/>
<line x1="169.50" y1="50.5" x2="169.50" y2="267.3" stroke="#dcdcdc" stroke-opacity="0.55" stroke-width="1"/>
<line x1="233.50" y1="50.5" x2="233.50" y2="267.3" stroke="#dcdcdc" stroke-opacity="0.55" stroke-width="1"/>
<line x1="296.50" y1="50.5" x2="296.50" y2="267.3" stroke="#dcdcdc" stroke-opacity="0.55" stroke-width="1"/>
<line x1="360.50" y1="50.5" x2="360.50" y2="267.3" stroke="#dcdcdc" stroke-opacity="0.55" stroke-width="1"/>
<line x1="424.50" y1="50.5" x2="424.50" y2="267.3" stroke="#dcdcdc" stroke-opacity="0.55" stroke-width="1"/>
<line x1="488.50" y1="50.5" x2="488.50" y2="267.3" stroke="#dcdcdc" stroke-opacity="0.55" stroke-width="1"/>
<line x1="551.50" y1="50.5" x2="551.50" y2="267.3" stroke="#dcdcdc" stroke-opacity="0.55" stroke-width="1"/>
<line x1="615.50" y1="50.5" x2="615.50" y2="267.3" stroke="#dcdcdc" stroke-opacity="0.55" stroke-width="1"/>
<line x1="679.50" y1="50.5" x2="679.50" y2="267.3" stroke="#dcdcdc" stroke-opacity="0.55" stroke-width="1"/>
<line x1="105.25" y1="104.50" x2="678.8" y2="104.50" stroke="#dcdcdc" stroke-opacity="0.55" stroke-width="1"/>
<line x1="105.25" y1="159.50" x2="678.8" y2="159.50" stroke="#dcdcdc" stroke-opacity="0.55" stroke-width="1"/>
<line x1="105.25" y1="213.50" x2="678.8" y2="213.50" stroke="#dcdcdc" stroke-opacity="0.55" stroke-width="1"/>
<line x1="105.25" y1="27" x2="105.25" y2="50.5" stroke="#dedede" stroke-width="1"/>
<line x1="168.98" y1="27" x2="168.98" y2="50.5" stroke="#dedede" stroke-width="1"/>
<line x1="232.71" y1="27" x2="232.71" y2="50.5" stroke="#dedede" stroke-width="1"/>
<line x1="296.43" y1="27" x2="296.43" y2="50.5" stroke="#dedede" stroke-width="1"/>
<line x1="360.16" y1="27" x2="360.16" y2="50.5" stroke="#dedede" stroke-width="1"/>
<line x1="423.89" y1="27" x2="423.89" y2="50.5" stroke="#dedede" stroke-width="1"/>
<line x1="487.62" y1="27" x2="487.62" y2="50.5" stroke="#dedede" stroke-width="1"/>
<line x1="551.34" y1="27" x2="551.34" y2="50.5" stroke="#dedede" stroke-width="1"/>
<line x1="615.07" y1="27" x2="615.07" y2="50.5" stroke="#dedede" stroke-width="1"/>
<line x1="678.80" y1="27" x2="678.80" y2="50.5" stroke="#dedede" stroke-width="1"/>
<line x1="3.5" y1="50.50" x2="105.25" y2="50.50" stroke="#e0e0e0" stroke-width="1"/>
<line x1="3.5" y1="104.70" x2="105.25" y2="104.70" stroke="#e0e0e0" stroke-width="1"/>
<line x1="3.5" y1="158.90" x2="105.25" y2="158.90" stroke="#e0e0e0" stroke-width="1"/>
<line x1="3.5" y1="213.10" x2="105.25" y2="213.10" stroke="#e0e0e0" stroke-width="1"/>
<line x1="3.5" y1="267.30" x2="105.25" y2="267.30" stroke="#e0e0e0" stroke-width="1"/>
<text x="32.9" y="40.9" text-anchor="middle">Missingness (%)</text>
<text x="84.0" y="40.9" text-anchor="middle">Dispersion</text>
<text x="137.11" y="40.9" text-anchor="middle">MLP</text>
<text x="200.84" y="40.9" text-anchor="middle">FCNN</text>
<text x="264.57" y="40.9" text-anchor="middle">ResNet</text>
<text x="328.30" y="40.9" text-anchor="middle">CRNN</text>
<text x="392.02" y="40.9" text-anchor="middle">GAF-CNN</text>
<text x="455.75" y="40.9" text-anchor="middle">RNN-FCN</text>
<text x="519.48" y="40.9" text-anchor="middle">Transformer</text>
<text x="583.21" y="40.9" text-anchor="middle">TSF-CNN</text>
<text x="646.94" y="40.9" text-anchor="middle">TSF-MLP</text>
<text x="32.9" y="80.10" text-anchor="middle">0</text>
<text x="84.0" y="57.12" text-anchor="middle">0.25</text>
<text x="84.0" y="66.15" text-anchor="middle">0.6</text>
<text x="84.0" y="75.18" text-anchor="middle">0.95</text>
<text x="84.0" y="84.22" text-anchor="middle">1.3</text>
<text x="84.0" y="93.25" text-anchor="middle">1.65</text>
<text x="84.0" y="102.28" text-anchor="middle">2</text>
<text x="32.9" y="134.30" text-anchor="middle">10</text>
<text x="84.0" y="111.32" text-anchor="middle">0.25</text>
<text x="84.0" y="120.35" text-anchor="middle">0.6</text>
<text x="84.0" y="129.38" text-anchor="middle">0.95</text>
<text x="84.0" y="138.42" text-anchor="middle">1.3</text>
<text x="84.0" y="147.45" text-anchor="middle">1.65</text>
<text x="84.0" y="156.48" text-anchor="middle">2</text>
<text x="32.9" y="188.50" text-anchor="middle">25</text>
<text x="84.0" y="165.52" text-anchor="middle">0.25</text>
<text x="84.0" y="174.55" text-anchor="middle">0.6</text>
<text x="84.0" y="183.58" text-anchor="middle">0.95</text>
<text x="84.0" y="192.62" text-anchor="middle">1.3</text>
<text x="84.0" y="201.65" text-anchor="middle">1.65</text>
<text x="84.0" y="210.68" text-anchor="middle">2</text>
<text x="32.9" y="242.70" text-anchor="middle">50</text>
<text x="84.0" y="219.72" text-anchor="middle">0.25</text>
<text x="84.0" y="228.75" text-anchor="middle">0.6</text>
<text x="84.0" y="237.78" text-anchor="middle">0.95</text>
<text x="84.0" y="246.82" text-anchor="middle">1.3</text>
<text x="84.0" y="255.85" text-anchor="middle">1.65</text>
<text x="84.0" y="264.88" text-anchor="middle">2</text>
<defs><linearGradient id="g0" x1="0" x2="1" y1="0" y2="0"><stop offset="0.000" stop-color="#bc0034"/><stop offset="0.020" stop-color="#c50033"/><stop offset="0.040" stop-color="#ce0033"/><stop offset="0.060" stop-color="#d70032"/><stop offset="0.080" stop-color="#de0030"/><stop offset="0.100" stop-color="#e4002f"/><stop offset="0.120" stop-color="#eb002d"/><stop offset="0.140" stop-color="#f00a30"/><stop offset="0.160" stop-color="#f51434"/><stop offset="0.180" stop-color="#fa1e37"/><stop offset="0.200" stop-color="#fc2a3a"/><stop offset="0.220" stop-color="#ff373c"/><stop offset="0.240" stop-color="#ff4141"/><stop offset="0.260" stop-color="#ff4c46"/><stop offset="0.280" stop-color="#ff564b"/><stop offset="0.300" stop-color="#ff6050"/><stop offset="0.320" stop-color="#ff6958"/><stop offset="0.340" stop-color="#ff715f"/><stop offset="0.360" stop-color="#ff7966"/><stop offset="0.380" stop-color="#ff826e"/><stop offset="0.400" stop-color="#ff8c79"/><stop offset="0.420" stop-color="#ff9685"/><stop offset="0.440" stop-color="#ffa090"/><stop offset="0.460" stop-color="#faafa3"/><stop offset="0.480" stop-color="#f5beb6"/><stop offset="0.500" stop-color="#dedcde"/><stop offset="0.520" stop-color="#b7d3e7"/><stop offset="0.540" stop-color="#a0cdea"/><stop offset="0.560" stop-color="#92c7e8"/><stop offset="0.580" stop-color="#89c2e5"/><stop offset="0.600" stop-color="#80bce1"/><stop offset="0.620" stop-color="#79b5dc"/><stop offset="0.640" stop-color="#72afd7"/><stop offset="0.660" stop-color="#6aa8d2"/><stop offset="0.680" stop-color="#63a2cd"/><stop offset="0.700" stop-color="#5c9bc8"/><stop offset="0.720" stop-color="#5695c4"/><stop offset="0.740" stop-color="#518fbf"/><stop offset="0.760" stop-color="#4b8abb"/><stop offset="0.780" stop-color="#4684b6"/><stop offset="0.800" stop-color="#407eb2"/><stop offset="0.820" stop-color="#3c79ad"/><stop offset="0.840" stop-color="#3774a8"/><stop offset="0.860" stop-color="#3370a2"/><stop offset="0.880" stop-color="#2e6b9d"/><stop offset="0.900" stop-color="#2a6698"/><stop offset="0.920" stop-color="#286496"/><stop offset="0.940" stop-color="#256193"/><stop offset="0.960" stop-color="#235f91"/><stop offset="0.980" stop-color="#205c8e"/><stop offset="1.000" stop-color="#1e5a8c"/></linearGradient></defs>
<rect x="554" y="8" width="123.60000000000002" height="7.9" fill="url(#g0)"/>
<line x1="616" y1="15.9" x2="616" y2="17" stroke="#333" stroke-width="0.8"/>
<text x="615.8" y="5.3" text-anchor="middle" style="font-size:6.5px">Mean Test AUC</text>
<text x="554" y="22.5" text-anchor="start" style="font-size:6.2px">0.5000</text>
<text x="677.6" y="22.5" text-anchor="end" style="font-size:6.2px">1.0000</text>
<polyline points="111.40,267.3 111.40,299.6 83.8,315.5" fill="none" stroke="#9a9a9a" stroke-width="0.8"/>
<text x="82.5" y="324.0" text-anchor="middle">0.25</text>
<polyline points="121.60,267.3 121.60,304.8 101.8,315.5" fill="none" stroke="#9a9a9a" stroke-width="0.8"/>
<text x="103.5" y="324.0" text-anchor="middle">0.75</text>
<polyline points="132.00,267.3 132.00,310.1 123.3,315.5" fill="none" stroke="#9a9a9a" stroke-width="0.8"/>
<text x="124.7" y="324.0" text-anchor="middle">1.25</text>
<polyline points="142.30,267.3 142.30,310.1 150.8,315.5" fill="none" stroke="#9a9a9a" stroke-width="0.8"/>
<text x="146.2" y="324.0" text-anchor="middle">1.75</text>
<polyline points="152.50,267.3 152.50,304.8 172.8,315.5" fill="none" stroke="#9a9a9a" stroke-width="0.8"/>
<text x="166.6" y="324.0" text-anchor="middle">2.25</text>
<polyline points="162.70,267.3 162.70,299.6 190.4,315.5" fill="none" stroke="#9a9a9a" stroke-width="0.8"/>
<text x="188.2" y="324.0" text-anchor="middle">2.75</text>
<text x="134.2" y="333.3" text-anchor="middle">Effect size</text>
<path d="M115.87 380.5V609.7M126.49 380.5V609.7M137.11 380.5V609.7M147.74 380.5V609.7M158.36 380.5V609.7M179.60 380.5V609.7M190.22 380.5V609.7M200.84 380.5V609.7M211.46 380.5V609.7M222.08 380.5V609.7M243.33 380.5V609.7M253.95 380.5V609.7M264.57 380.5V609.7M275.19 380.5V609.7M285.81 380.5V609.7M307.05 380.5V609.7M317.68 380.5V609.7M328.30 380.5V609.7M338.92 380.5V609.7M349.54 380.5V609.7M370.78 380.5V609.7M381.40 380.5V609.7M392.02 380.5V609.7M402.65 380.5V609.7M413.27 380.5V609.7M434.51 380.5V609.7M445.13 380.5V609.7M455.75 380.5V609.7M466.37 380.5V609.7M477.00 380.5V609.7M498.24 380.5V609.7M508.86 380.5V609.7M519.48 380.5V609.7M530.10 380.5V609.7M540.72 380.5V609.7M561.97 380.5V609.7M572.59 380.5V609.7M583.21 380.5V609.7M593.83 380.5V609.7M604.45 380.5V609.7M625.69 380.5V609.7M636.31 380.5V609.7M646.94 380.5V609.7M657.56 380.5V609.7M668.18 380.5V609.7M105.25 390.05H678.8M105.25 399.60H678.8M105.25 409.15H678.8M105.25 418.70H678.8M105.25 428.25H678.8M105.25 447.35H678.8M105.25 456.90H678.8M105.25 466.45H678.8M105.25 476.00H678.8M105.25 485.55H678.8M105.25 504.65H678.8M105.25 514.20H678.8M105.25 523.75H678.8M105.25 533.30H678.8M105.25 542.85H678.8M105.25 561.95H678.8M105.25 571.50H678.8M105.25 581.05H678.8M105.25 590.60H678.8M105.25 600.15H678.8" stroke="#fff" stroke-opacity="0.07" stroke-width="1" fill="none"/>
<line x1="105.50" y1="380.5" x2="105.50" y2="609.7" stroke="#dcdcdc" stroke-opacity="0.55" stroke-width="1"/>
<line x1="169.50" y1="380.5" x2="169.50" y2="609.7" stroke="#dcdcdc" stroke-opacity="0.55" stroke-width="1"/>
<line x1="233.50" y1="380.5" x2="233.50" y2="609.7" stroke="#dcdcdc" stroke-opacity="0.55" stroke-width="1"/>
<line x1="296.50" y1="380.5" x2="296.50" y2="609.7" stroke="#dcdcdc" stroke-opacity="0.55" stroke-width="1"/>
<line x1="360.50" y1="380.5" x2="360.50" y2="609.7" stroke="#dcdcdc" stroke-opacity="0.55" stroke-width="1"/>
<line x1="424.50" y1="380.5" x2="424.50" y2="609.7" stroke="#dcdcdc" stroke-opacity="0.55" stroke-width="1"/>
<line x1="488.50" y1="380.5" x2="488.50" y2="609.7" stroke="#dcdcdc" stroke-opacity="0.55" stroke-width="1"/>
<line x1="551.50" y1="380.5" x2="551.50" y2="609.7" stroke="#dcdcdc" stroke-opacity="0.55" stroke-width="1"/>
<line x1="615.50" y1="380.5" x2="615.50" y2="609.7" stroke="#dcdcdc" stroke-opacity="0.55" stroke-width="1"/>
<line x1="679.50" y1="380.5" x2="679.50" y2="609.7" stroke="#dcdcdc" stroke-opacity="0.55" stroke-width="1"/>
<line x1="105.25" y1="437.50" x2="678.8" y2="437.50" stroke="#dcdcdc" stroke-opacity="0.55" stroke-width="1"/>
<line x1="105.25" y1="495.50" x2="678.8" y2="495.50" stroke="#dcdcdc" stroke-opacity="0.55" stroke-width="1"/>
<line x1="105.25" y1="552.50" x2="678.8" y2="552.50" stroke="#dcdcdc" stroke-opacity="0.55" stroke-width="1"/>
<line x1="105.25" y1="357" x2="105.25" y2="380.5" stroke="#dedede" stroke-width="1"/>
<line x1="168.98" y1="357" x2="168.98" y2="380.5" stroke="#dedede" stroke-width="1"/>
<line x1="232.71" y1="357" x2="232.71" y2="380.5" stroke="#dedede" stroke-width="1"/>
<line x1="296.43" y1="357" x2="296.43" y2="380.5" stroke="#dedede" stroke-width="1"/>
<line x1="360.16" y1="357" x2="360.16" y2="380.5" stroke="#dedede" stroke-width="1"/>
<line x1="423.89" y1="357" x2="423.89" y2="380.5" stroke="#dedede" stroke-width="1"/>
<line x1="487.62" y1="357" x2="487.62" y2="380.5" stroke="#dedede" stroke-width="1"/>
<line x1="551.34" y1="357" x2="551.34" y2="380.5" stroke="#dedede" stroke-width="1"/>
<line x1="615.07" y1="357" x2="615.07" y2="380.5" stroke="#dedede" stroke-width="1"/>
<line x1="678.80" y1="357" x2="678.80" y2="380.5" stroke="#dedede" stroke-width="1"/>
<line x1="3.5" y1="380.50" x2="105.25" y2="380.50" stroke="#e0e0e0" stroke-width="1"/>
<line x1="3.5" y1="437.80" x2="105.25" y2="437.80" stroke="#e0e0e0" stroke-width="1"/>
<line x1="3.5" y1="495.10" x2="105.25" y2="495.10" stroke="#e0e0e0" stroke-width="1"/>
<line x1="3.5" y1="552.40" x2="105.25" y2="552.40" stroke="#e0e0e0" stroke-width="1"/>
<line x1="3.5" y1="609.70" x2="105.25" y2="609.70" stroke="#e0e0e0" stroke-width="1"/>
<text x="32.0" y="370.9" text-anchor="middle">Missingness (%)</text>
<text x="83.1" y="370.9" text-anchor="middle">Dispersion</text>
<text x="137.11" y="370.9" text-anchor="middle">MLP</text>
<text x="200.84" y="370.9" text-anchor="middle">FCNN</text>
<text x="264.57" y="370.9" text-anchor="middle">ResNet</text>
<text x="328.30" y="370.9" text-anchor="middle">CRNN</text>
<text x="392.02" y="370.9" text-anchor="middle">GAF-CNN</text>
<text x="455.75" y="370.9" text-anchor="middle">RNN-FCN</text>
<text x="519.48" y="370.9" text-anchor="middle">Transformer</text>
<text x="583.21" y="370.9" text-anchor="middle">TSF-CNN</text>
<text x="646.94" y="370.9" text-anchor="middle">TSF-MLP</text>
<text x="32.0" y="411.65" text-anchor="middle">0</text>
<text x="83.1" y="387.38" text-anchor="middle">0.25</text>
<text x="83.1" y="396.93" text-anchor="middle">0.6</text>
<text x="83.1" y="406.48" text-anchor="middle">0.95</text>
<text x="83.1" y="416.03" text-anchor="middle">1.3</text>
<text x="83.1" y="425.58" text-anchor="middle">1.65</text>
<text x="83.1" y="435.13" text-anchor="middle">2</text>
<text x="32.0" y="468.95" text-anchor="middle">10</text>
<text x="83.1" y="444.68" text-anchor="middle">0.25</text>
<text x="83.1" y="454.23" text-anchor="middle">0.6</text>
<text x="83.1" y="463.78" text-anchor="middle">0.95</text>
<text x="83.1" y="473.33" text-anchor="middle">1.3</text>
<text x="83.1" y="482.88" text-anchor="middle">1.65</text>
<text x="83.1" y="492.43" text-anchor="middle">2</text>
<text x="32.0" y="526.25" text-anchor="middle">25</text>
<text x="83.1" y="501.98" text-anchor="middle">0.25</text>
<text x="83.1" y="511.53" text-anchor="middle">0.6</text>
<text x="83.1" y="521.08" text-anchor="middle">0.95</text>
<text x="83.1" y="530.63" text-anchor="middle">1.3</text>
<text x="83.1" y="540.18" text-anchor="middle">1.65</text>
<text x="83.1" y="549.73" text-anchor="middle">2</text>
<text x="32.0" y="583.55" text-anchor="middle">50</text>
<text x="83.1" y="559.28" text-anchor="middle">0.25</text>
<text x="83.1" y="568.83" text-anchor="middle">0.6</text>
<text x="83.1" y="578.38" text-anchor="middle">0.95</text>
<text x="83.1" y="587.93" text-anchor="middle">1.3</text>
<text x="83.1" y="597.48" text-anchor="middle">1.65</text>
<text x="83.1" y="607.03" text-anchor="middle">2</text>
<defs><linearGradient id="g1" x1="0" x2="1" y1="0" y2="0"><stop offset="0.000" stop-color="#bc0034"/><stop offset="0.020" stop-color="#c50033"/><stop offset="0.040" stop-color="#ce0033"/><stop offset="0.060" stop-color="#d70032"/><stop offset="0.080" stop-color="#de0030"/><stop offset="0.100" stop-color="#e4002f"/><stop offset="0.120" stop-color="#eb002d"/><stop offset="0.140" stop-color="#f00a30"/><stop offset="0.160" stop-color="#f51434"/><stop offset="0.180" stop-color="#fa1e37"/><stop offset="0.200" stop-color="#fc2a3a"/><stop offset="0.220" stop-color="#ff373c"/><stop offset="0.240" stop-color="#ff4141"/><stop offset="0.260" stop-color="#ff4c46"/><stop offset="0.280" stop-color="#ff564b"/><stop offset="0.300" stop-color="#ff6050"/><stop offset="0.320" stop-color="#ff6958"/><stop offset="0.340" stop-color="#ff715f"/><stop offset="0.360" stop-color="#ff7966"/><stop offset="0.380" stop-color="#ff826e"/><stop offset="0.400" stop-color="#ff8c79"/><stop offset="0.420" stop-color="#ff9685"/><stop offset="0.440" stop-color="#ffa090"/><stop offset="0.460" stop-color="#faafa3"/><stop offset="0.480" stop-color="#f5beb6"/><stop offset="0.500" stop-color="#dedcde"/><stop offset="0.520" stop-color="#b7d3e7"/><stop offset="0.540" stop-color="#a0cdea"/><stop offset="0.560" stop-color="#92c7e8"/><stop offset="0.580" stop-color="#89c2e5"/><stop offset="0.600" stop-color="#80bce1"/><stop offset="0.620" stop-color="#79b5dc"/><stop offset="0.640" stop-color="#72afd7"/><stop offset="0.660" stop-color="#6aa8d2"/><stop offset="0.680" stop-color="#63a2cd"/><stop offset="0.700" stop-color="#5c9bc8"/><stop offset="0.720" stop-color="#5695c4"/><stop offset="0.740" stop-color="#518fbf"/><stop offset="0.760" stop-color="#4b8abb"/><stop offset="0.780" stop-color="#4684b6"/><stop offset="0.800" stop-color="#407eb2"/><stop offset="0.820" stop-color="#3c79ad"/><stop offset="0.840" stop-color="#3774a8"/><stop offset="0.860" stop-color="#3370a2"/><stop offset="0.880" stop-color="#2e6b9d"/><stop offset="0.900" stop-color="#2a6698"/><stop offset="0.920" stop-color="#286496"/><stop offset="0.940" stop-color="#256193"/><stop offset="0.960" stop-color="#235f91"/><stop offset="0.980" stop-color="#205c8e"/><stop offset="1.000" stop-color="#1e5a8c"/></linearGradient></defs>
<rect x="554" y="336.8" width="123.0" height="7.9" fill="url(#g1)"/>
<line x1="616" y1="344.7" x2="616" y2="345.8" stroke="#333" stroke-width="0.8"/>
<text x="615.8" y="334.1" text-anchor="middle" style="font-size:6.5px">Mean Test AUC</text>
<text x="554" y="351.3" text-anchor="start" style="font-size:6.2px">0.5000</text>
<text x="677.0" y="351.3" text-anchor="end" style="font-size:6.2px">1.0000</text>
<polyline points="110.50,609.7 110.50,644.4 81.0,660.5" fill="none" stroke="#9a9a9a" stroke-width="0.8"/>
<text x="83.6" y="669.0" text-anchor="middle">0.25</text>
<polyline points="121.30,609.7 121.30,649.5 100.1,660.5" fill="none" stroke="#9a9a9a" stroke-width="0.8"/>
<text x="104.5" y="669.0" text-anchor="middle">0.75</text>
<polyline points="132.10,609.7 132.10,655.1 122.4,660.5" fill="none" stroke="#9a9a9a" stroke-width="0.8"/>
<text x="125.9" y="669.0" text-anchor="middle">1.25</text>
<polyline points="142.90,609.7 142.90,655.4 152.6,660.5" fill="none" stroke="#9a9a9a" stroke-width="0.8"/>
<text x="147.3" y="669.0" text-anchor="middle">1.75</text>
<polyline points="153.90,609.7 153.90,649.4 175.3,660.5" fill="none" stroke="#9a9a9a" stroke-width="0.8"/>
<text x="168.1" y="669.0" text-anchor="middle">2.25</text>
<polyline points="164.90,609.7 164.90,644.1 194.3,660.5" fill="none" stroke="#9a9a9a" stroke-width="0.8"/>
<text x="189.2" y="669.0" text-anchor="middle">2.75</text>
<text x="136.3" y="678.1" text-anchor="middle">Effect size</text>
</svg></body></html>
